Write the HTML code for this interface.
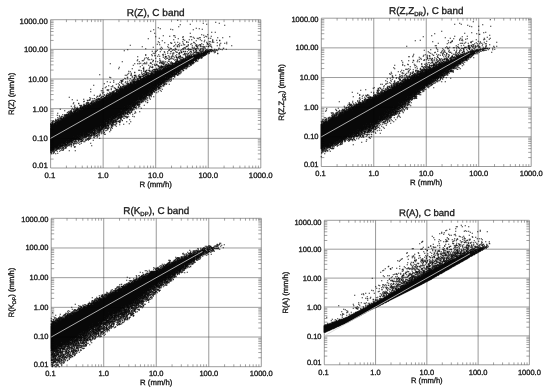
<!DOCTYPE html><html><head><meta charset="utf-8"><title>Rain rate estimators, C band</title><style>html,body{margin:0;padding:0;background:#fff}svg{display:block;filter:blur(.3px)}</style></head><body>
<svg width="550" height="391" viewBox="0 0 550 391" fill="#1c1c1c"><style>text{font-family:"Liberation Sans", Arial, Helvetica, sans-serif;text-rendering:geometricPrecision;stroke:#1c1c1c;stroke-width:.34px}</style>
<rect width="550" height="391" fill="#fff"/>
<path d="M50.60 19.70H260.80M50.60 168.00H260.80M50.60 49.36H260.80M50.60 79.02H260.80M50.60 108.68H260.80M50.60 138.34H260.80" fill="none" stroke="#4c4c4c" stroke-width=".55"/><path d="M50.60 19.70V168.00M260.80 19.70V168.00M103.15 19.70V168.00M155.70 19.70V168.00M208.25 19.70V168.00" fill="none" stroke="#555" stroke-width=".6"/><path d="M66.42 168.00v-2.40M66.42 19.70v2.40M75.67 168.00v-2.40M75.67 19.70v2.40M82.24 168.00v-2.40M82.24 19.70v2.40M87.33 168.00v-2.40M87.33 19.70v2.40M91.49 168.00v-2.40M91.49 19.70v2.40M95.01 168.00v-2.40M95.01 19.70v2.40M98.06 168.00v-2.40M98.06 19.70v2.40M100.75 168.00v-2.40M100.75 19.70v2.40M118.97 168.00v-2.40M118.97 19.70v2.40M128.22 168.00v-2.40M128.22 19.70v2.40M134.79 168.00v-2.40M134.79 19.70v2.40M139.88 168.00v-2.40M139.88 19.70v2.40M144.04 168.00v-2.40M144.04 19.70v2.40M147.56 168.00v-2.40M147.56 19.70v2.40M150.61 168.00v-2.40M150.61 19.70v2.40M153.30 168.00v-2.40M153.30 19.70v2.40M171.52 168.00v-2.40M171.52 19.70v2.40M180.77 168.00v-2.40M180.77 19.70v2.40M187.34 168.00v-2.40M187.34 19.70v2.40M192.43 168.00v-2.40M192.43 19.70v2.40M196.59 168.00v-2.40M196.59 19.70v2.40M200.11 168.00v-2.40M200.11 19.70v2.40M203.16 168.00v-2.40M203.16 19.70v2.40M205.85 168.00v-2.40M205.85 19.70v2.40M224.07 168.00v-2.40M224.07 19.70v2.40M233.32 168.00v-2.40M233.32 19.70v2.40M239.89 168.00v-2.40M239.89 19.70v2.40M244.98 168.00v-2.40M244.98 19.70v2.40M249.14 168.00v-2.40M249.14 19.70v2.40M252.66 168.00v-2.40M252.66 19.70v2.40M255.71 168.00v-2.40M255.71 19.70v2.40M258.40 168.00v-2.40M258.40 19.70v2.40M50.60 159.07h3.00M260.80 159.07h-3.00M50.60 153.85h3.00M260.80 153.85h-3.00M50.60 150.14h3.00M260.80 150.14h-3.00M50.60 147.27h3.00M260.80 147.27h-3.00M50.60 144.92h3.00M260.80 144.92h-3.00M50.60 142.93h3.00M260.80 142.93h-3.00M50.60 141.21h3.00M260.80 141.21h-3.00M50.60 139.70h3.00M260.80 139.70h-3.00M50.60 129.41h3.00M260.80 129.41h-3.00M50.60 124.19h3.00M260.80 124.19h-3.00M50.60 120.48h3.00M260.80 120.48h-3.00M50.60 117.61h3.00M260.80 117.61h-3.00M50.60 115.26h3.00M260.80 115.26h-3.00M50.60 113.27h3.00M260.80 113.27h-3.00M50.60 111.55h3.00M260.80 111.55h-3.00M50.60 110.04h3.00M260.80 110.04h-3.00M50.60 99.75h3.00M260.80 99.75h-3.00M50.60 94.53h3.00M260.80 94.53h-3.00M50.60 90.82h3.00M260.80 90.82h-3.00M50.60 87.95h3.00M260.80 87.95h-3.00M50.60 85.60h3.00M260.80 85.60h-3.00M50.60 83.61h3.00M260.80 83.61h-3.00M50.60 81.89h3.00M260.80 81.89h-3.00M50.60 80.38h3.00M260.80 80.38h-3.00M50.60 70.09h3.00M260.80 70.09h-3.00M50.60 64.87h3.00M260.80 64.87h-3.00M50.60 61.16h3.00M260.80 61.16h-3.00M50.60 58.29h3.00M260.80 58.29h-3.00M50.60 55.94h3.00M260.80 55.94h-3.00M50.60 53.95h3.00M260.80 53.95h-3.00M50.60 52.23h3.00M260.80 52.23h-3.00M50.60 50.72h3.00M260.80 50.72h-3.00M50.60 40.43h3.00M260.80 40.43h-3.00M50.60 35.21h3.00M260.80 35.21h-3.00M50.60 31.50h3.00M260.80 31.50h-3.00M50.60 28.63h3.00M260.80 28.63h-3.00M50.60 26.28h3.00M260.80 26.28h-3.00M50.60 24.29h3.00M260.80 24.29h-3.00M50.60 22.57h3.00M260.80 22.57h-3.00M50.60 21.06h3.00M260.80 21.06h-3.00" fill="none" stroke="#555" stroke-width=".55"/>
<path d="M177.25 20.25h1M215.25 22.25h1M202.75 23.25h1M218.75 23.25h1M189.75 24.25h1M206.25 24.25h1M179.75 24.75h1M224.25 25.25h1M178.25 26.75h1M157.75 27.75h1M195.75 28.25h1M159.75 28.75h1M198.75 28.75h1M170.25 29.25h1M201.75 29.25h1M153.25 29.75h1M172.25 29.75h1M192.75 29.75h1M150.25 31.25h1M211.25 32.25h1M214.75 32.25h1M154.25 33.25h1M189.75 33.25h1M201.25 34.75h1M207.25 34.75h1M203.25 35.25h1M162.75 35.75h1M173.25 35.75h1M174.25 35.75h1M169.25 36.25h1M205.25 36.25h1M210.75 36.25h1M155.25 36.75h1M182.75 36.75h1M189.75 36.75h1M190.75 36.75h1M206.25 36.75h1M229.25 36.75h1M174.75 37.25h1M182.25 37.25h1M192.75 37.25h1M203.75 37.25h1M198.75 37.75h1M199.75 37.75h1M217.25 37.75h1M222.25 37.75h1M158.75 38.25h1M193.75 38.25h1M196.75 38.25h1M208.25 38.25h1M210.25 38.25h1M147.75 38.75h1M177.75 38.75h1M197.75 38.75h1M182.75 39.25h1M173.25 39.75h1M182.75 39.75h1M188.75 39.75h1M191.25 39.75h1M199.75 39.75h1M212.25 39.75h1M184.25 40.25h1M204.25 40.25h1M216.25 40.25h1M219.25 40.25h1M161.75 40.75h1M195.75 40.75h1M201.25 40.75h1M212.25 40.75h1M219.25 40.75h1M212.25 41.25h1M157.75 41.75h1M182.25 41.75h1M186.25 41.75h1M203.75 41.75h1M208.75 41.75h1M209.75 41.75h1M174.25 42.25h1M177.25 42.25h1M186.25 42.25h1M187.75 42.25h1M193.25 42.25h1M206.25 42.25h1M211.75 42.25h1M213.25 42.25h1M226.25 42.25h1M158.75 42.75h1M164.25 42.75h1M170.25 42.75h1M193.75 42.75h1M216.75 42.75h1M170.75 43.25h1.5M179.25 43.25h1M182.75 43.25h1M206.75 43.25h1M220.25 43.25h1M224.25 43.25h1M191.25 43.75h1M194.75 43.75h1M201.25 43.75h1M207.25 43.75h1M209.25 43.75h1M226.25 43.75h1M156.75 44.25h1M175.25 44.25h1M190.25 44.25h1M206.75 44.25h1M219.25 44.25h1M159.25 44.75h1M167.75 44.75h1M177.75 44.75h1.5M183.25 44.75h1M184.25 44.75h1M187.75 44.75h1M196.25 44.75h1M198.75 44.75h1M199.75 44.75h1.5M202.75 44.75h1M208.25 44.75h1M210.25 44.75h1M129.75 45.25h1M179.25 45.25h1M181.25 45.25h1M187.75 45.25h1M195.25 45.25h1M196.25 45.25h1M199.75 45.25h1M174.25 45.75h1M176.75 45.75h1M191.75 45.75h1M197.75 45.75h1M209.25 45.75h1M216.75 45.75h1M219.25 45.75h1M231.25 45.75h1M173.25 46.25h1M186.25 46.25h1M187.25 46.25h1M195.75 46.25h1.5M199.75 46.25h2M205.75 46.25h1M207.75 46.25h1M210.25 46.25h1.5M141.75 46.75h1M167.25 46.75h1M176.75 46.75h1.5M178.75 46.75h1M185.75 46.75h1M196.75 46.75h1M202.25 46.75h1M203.25 46.75h1M204.25 46.75h1M207.75 46.75h1.5M152.75 47.25h1M160.75 47.25h1M191.75 47.25h1M193.75 47.25h1M197.25 47.25h1M202.75 47.25h1M211.25 47.25h1M168.25 47.75h1M183.75 47.75h1M184.75 47.75h1M204.25 47.75h1M161.75 48.25h1M170.25 48.25h1M174.75 48.25h1M183.25 48.25h1M187.75 48.25h1M191.75 48.25h1M193.25 48.25h1M195.75 48.25h1M196.75 48.25h1M199.75 48.25h1M201.25 48.25h1M204.75 48.25h1M218.25 48.25h1.5M222.75 48.25h1.5M145.25 48.75h1M159.75 48.75h1M170.75 48.75h1M182.25 48.75h1M184.75 48.75h1M193.75 48.75h1M195.25 48.75h1M197.75 48.75h1M202.25 48.75h1M203.25 48.75h1M169.25 49.25h1M174.75 49.25h1M175.75 49.25h1M182.75 49.25h1M186.75 49.25h1M188.25 49.25h1M189.25 49.25h1M190.25 49.25h1M195.25 49.25h1M200.25 49.25h1M206.75 49.25h1M211.25 49.25h1M214.25 49.25h1M220.25 49.25h1M225.75 49.25h1M127.25 49.75h1M160.75 49.75h1M172.75 49.75h1M181.25 49.75h1M189.75 49.75h1M191.25 49.75h1M195.25 49.75h1M199.75 49.75h1M202.75 49.75h1M205.75 49.75h1M208.75 49.75h1M209.75 49.75h2M216.25 49.75h1M218.25 49.75h1M221.75 49.75h1M156.75 50.25h1M168.25 50.25h1.5M172.25 50.25h1M174.25 50.25h1M177.75 50.25h1M188.25 50.25h1M192.75 50.25h1.5M195.75 50.25h1M198.75 50.25h1M201.75 50.25h1M202.75 50.25h1M205.25 50.25h1.5M207.75 50.25h1M209.75 50.25h1M212.25 50.25h1M213.75 50.25h1M214.75 50.25h1M216.25 50.25h1M123.75 50.75h1M179.75 50.75h1M196.25 50.75h1M199.25 50.75h1M200.25 50.75h1M204.75 50.75h1.5M206.75 50.75h2M209.25 50.75h1.5M210.75 50.75h1M211.75 50.75h2M216.75 50.75h1M151.75 51.25h1M154.75 51.25h1M155.75 51.25h1M170.75 51.25h1M175.25 51.25h1M180.75 51.25h1M182.75 51.25h1M184.75 51.25h1M190.25 51.25h1M193.25 51.25h1M195.25 51.25h1M201.25 51.25h1M203.25 51.25h1M204.75 51.25h1M205.75 51.25h1M206.75 51.25h1.5M208.25 51.25h2M210.25 51.25h1M211.25 51.25h1M213.25 51.25h1M214.25 51.25h1.5M159.75 51.75h1M163.75 51.75h1M167.25 51.75h1M170.25 51.75h1M183.25 51.75h1M184.75 51.75h1M186.75 51.75h1M190.25 51.75h1.5M195.75 51.75h1M199.75 51.75h1.5M201.75 51.75h1.5M204.25 51.75h2M206.25 51.75h1.5M207.75 51.75h2M211.25 51.75h1M164.25 52.25h1M175.75 52.25h1M176.75 52.25h1M180.75 52.25h1.5M189.25 52.25h1M194.25 52.25h1M196.75 52.25h1M197.75 52.25h1M198.75 52.25h1M201.25 52.25h1M202.75 52.25h1M203.75 52.25h5M209.25 52.25h1M214.75 52.25h1M154.75 52.75h1M173.25 52.75h1M178.75 52.75h1.5M181.25 52.75h1M191.25 52.75h1M193.25 52.75h1M194.25 52.75h1M195.25 52.75h2.5M198.25 52.75h1M200.25 52.75h1.5M202.75 52.75h2M204.75 52.75h1.5M206.75 52.75h1.5M213.75 52.75h1M152.75 53.25h1M167.25 53.25h1M171.75 53.25h1M179.25 53.25h1M184.25 53.25h1M187.75 53.25h1M196.75 53.25h1M198.25 53.25h1M199.75 53.25h1M200.75 53.25h5M205.75 53.25h1.5M208.75 53.25h1M217.25 53.25h1M154.25 53.75h1M169.75 53.75h1M173.25 53.75h1M178.25 53.75h1M184.25 53.75h1.5M186.25 53.75h1M188.25 53.75h1M190.25 53.75h1M192.75 53.75h1M196.25 53.75h1M197.75 53.75h2.5M200.75 53.75h5M205.75 53.75h1.5M208.25 53.75h1M217.25 53.75h1M162.75 54.25h1M164.75 54.25h1M178.75 54.25h1M183.75 54.25h1M186.75 54.25h1M192.25 54.25h1.5M194.75 54.25h1M196.75 54.25h1M197.75 54.25h2.5M200.25 54.25h2M202.75 54.25h2.5M205.25 54.25h1M206.25 54.25h1M145.25 54.75h1M151.25 54.75h1M158.25 54.75h1M162.25 54.75h1M172.25 54.75h1M176.25 54.75h1M182.75 54.75h1M184.75 54.75h1M189.75 54.75h1M191.25 54.75h1M194.25 54.75h1M195.75 54.75h4.5M200.25 54.75h1M201.25 54.75h3.5M205.25 54.75h1M145.25 55.25h1M184.75 55.25h1M186.75 55.25h1M187.75 55.25h1M188.75 55.25h1M190.75 55.25h1M193.25 55.25h2.5M195.75 55.25h5M200.75 55.25h5M151.75 55.75h1M154.25 55.75h1.5M162.75 55.75h1M167.75 55.75h1M171.75 55.75h1M175.25 55.75h1M179.75 55.75h1M189.25 55.75h1M190.75 55.75h1M192.75 55.75h1M193.75 55.75h3M196.75 55.75h4.5M201.25 55.75h1.5M202.75 55.75h1M203.75 55.75h1M157.25 56.25h1M159.25 56.25h1M165.25 56.25h1M168.75 56.25h1M173.25 56.25h1M178.25 56.25h1.5M179.75 56.25h1M185.25 56.25h1M186.75 56.25h1M188.25 56.25h3M191.25 56.25h2M193.25 56.25h2M195.25 56.25h6M201.25 56.25h1M202.75 56.25h1M137.25 56.75h1M164.75 56.75h2M170.75 56.75h1M171.75 56.75h1M175.75 56.75h1M179.25 56.75h1M180.25 56.75h1M185.75 56.75h1M187.25 56.75h1.5M188.75 56.75h1M190.25 56.75h9.5M199.75 56.75h1M201.25 56.75h1.5M162.75 57.25h1M165.25 57.25h1M175.75 57.25h1.5M177.75 57.25h1M180.25 57.25h1M182.25 57.25h1M185.25 57.25h1M186.25 57.25h1M187.25 57.25h1.5M188.75 57.25h3.5M192.25 57.25h8M200.75 57.25h1M145.75 57.75h1M147.75 57.75h1M168.75 57.75h1M170.75 57.75h1M173.75 57.75h1M176.25 57.75h1M177.75 57.75h1M178.75 57.75h1M181.25 57.75h1.5M185.75 57.75h1M186.75 57.75h1M187.75 57.75h1M188.75 57.75h4.5M193.25 57.75h1M194.25 57.75h4M198.25 57.75h1.5M200.25 57.75h1.5M201.75 57.75h1M144.25 58.25h1M155.25 58.25h1M164.25 58.25h1M166.25 58.25h1M167.25 58.25h1M176.75 58.25h1M183.25 58.25h1M184.75 58.25h1.5M187.25 58.25h1M188.25 58.25h2.5M190.75 58.25h7M197.75 58.25h1.5M199.25 58.25h1M200.75 58.25h1M147.25 58.75h1M159.25 58.75h1M170.25 58.75h1.5M172.25 58.75h1M178.75 58.75h1M179.75 58.75h1M182.75 58.75h1M184.25 58.75h1M185.25 58.75h1M186.25 58.75h1M187.25 58.75h2M189.25 58.75h5.5M194.75 58.75h2.5M197.25 58.75h2M151.25 59.25h1M165.25 59.25h1M168.75 59.25h1.5M173.25 59.25h1M176.75 59.25h1M180.75 59.25h1.5M182.25 59.25h1M183.25 59.25h1M184.75 59.25h10M194.75 59.25h2.5M137.25 59.75h1M143.75 59.75h1M147.75 59.75h1M149.25 59.75h1M168.25 59.75h1M175.25 59.75h1M176.75 59.75h1M180.25 59.75h1M182.25 59.75h10.5M192.75 59.75h3.5M197.75 59.75h1M152.75 60.25h1M159.25 60.25h1.5M174.25 60.25h1M176.25 60.25h1.5M180.25 60.25h3M183.25 60.25h1M184.25 60.25h2.5M186.75 60.25h10.5M136.75 60.75h1M141.75 60.75h1M142.75 60.75h1M152.75 60.75h1M177.25 60.75h1M179.25 60.75h1.5M181.25 60.75h2.5M183.75 60.75h11M195.75 60.75h1.5M155.25 61.25h1M160.25 61.25h1M161.75 61.25h1M163.25 61.25h1M167.75 61.25h1M168.75 61.25h1M175.75 61.25h1M176.75 61.25h1M177.75 61.25h2M180.75 61.25h1M181.75 61.25h2M183.75 61.25h9M192.75 61.25h1M195.25 61.25h1M197.25 61.25h1M121.75 61.75h1M138.75 61.75h1M152.25 61.75h1M157.25 61.75h1M165.25 61.75h1M170.75 61.75h1M175.25 61.75h1M176.25 61.75h1.5M177.75 61.75h2M179.75 61.75h2.5M182.25 61.75h8.5M190.75 61.75h1.5M192.25 61.75h1.5M195.25 61.75h1M146.25 62.25h1M159.25 62.25h1.5M160.75 62.25h1M162.25 62.25h1M164.25 62.25h1M175.25 62.25h1M176.25 62.25h1M177.25 62.25h1.5M178.75 62.25h10M188.75 62.25h4M192.75 62.25h1.5M144.25 62.75h1M150.25 62.75h1M160.75 62.75h1M162.75 62.75h1M166.75 62.75h1M169.75 62.75h1M171.25 62.75h1.5M174.75 62.75h1M175.75 62.75h1M177.75 62.75h12.5M190.25 62.75h2M192.25 62.75h1.5M193.75 62.75h1M140.25 63.25h1M149.75 63.25h1M150.75 63.25h1M159.25 63.25h1M161.75 63.25h1M170.25 63.25h1.5M171.75 63.25h2M173.75 63.25h1.5M175.25 63.25h1.5M176.75 63.25h1.5M178.25 63.25h7.5M185.75 63.25h1M186.75 63.25h2M188.75 63.25h2.5M191.25 63.25h1M192.25 63.25h1M109.75 63.75h1M134.25 63.75h1M137.25 63.75h1M138.75 63.75h1M142.75 63.75h1M144.25 63.75h1.5M146.25 63.75h1M160.75 63.75h1M162.25 63.75h1M163.25 63.75h1M164.25 63.75h1M167.75 63.75h1.5M172.25 63.75h7M179.25 63.75h9.5M189.25 63.75h1M190.25 63.75h1M191.75 63.75h2M153.75 64.25h1M156.25 64.25h1M162.75 64.25h1M166.25 64.25h1M171.25 64.25h2M174.25 64.25h15.5M189.75 64.25h1.5M191.25 64.25h1M151.75 64.75h1M156.25 64.75h1M163.25 64.75h1M165.25 64.75h1M166.25 64.75h1M167.75 64.75h1M168.75 64.75h1M169.75 64.75h1M171.75 64.75h1.5M173.25 64.75h1.5M174.75 64.75h1M175.75 64.75h1.5M177.25 64.75h8.5M185.75 64.75h2.5M190.25 64.75h1M132.75 65.25h1M141.75 65.25h1M148.25 65.25h1M154.25 65.25h1M155.25 65.25h1M156.75 65.25h1M164.75 65.25h1M166.75 65.25h1M168.25 65.25h2.5M170.75 65.25h2M172.75 65.25h1.5M174.25 65.25h12M186.25 65.25h2M189.75 65.25h1M190.75 65.25h1M158.25 65.75h1M160.75 65.75h1M164.75 65.75h1M166.25 65.75h5.5M171.75 65.75h11.5M183.25 65.75h1.5M184.75 65.75h4M149.75 66.25h1M157.75 66.25h1.5M160.25 66.25h1M161.25 66.25h1M162.25 66.25h3M166.25 66.25h1M167.25 66.25h1.5M169.75 66.25h14M183.75 66.25h2M185.75 66.25h1M186.75 66.25h1M189.25 66.25h1M139.75 66.75h1M152.25 66.75h1M158.75 66.75h1M160.75 66.75h2.5M164.75 66.75h3.5M168.25 66.75h13.5M181.75 66.75h2.5M184.25 66.75h3.5M188.25 66.75h1M118.75 67.25h1M143.25 67.25h1M149.25 67.25h1M150.75 67.25h1M151.75 67.25h1M159.75 67.25h1.5M161.25 67.25h1M162.25 67.25h1M164.75 67.25h1M167.25 67.25h2.5M169.75 67.25h14M183.75 67.25h1.5M185.25 67.25h1.5M186.75 67.25h1M152.25 67.75h1M158.75 67.75h1.5M160.75 67.75h1M162.25 67.75h1.5M163.75 67.75h4.5M168.25 67.75h15.5M183.75 67.75h1M142.75 68.25h1M156.25 68.25h1M157.75 68.25h1M159.75 68.25h1M160.75 68.25h1.5M162.75 68.25h2.5M165.25 68.25h14.5M179.75 68.25h1M180.75 68.25h2.5M183.25 68.25h1M184.25 68.25h1M118.25 68.75h1M131.75 68.75h1M142.75 68.75h1.5M148.75 68.75h1M158.75 68.75h1M162.75 68.75h1M164.25 68.75h16.5M180.75 68.75h2M183.25 68.75h1M184.75 68.75h1M185.75 68.75h1.5M143.25 69.25h1M154.25 69.25h1M155.75 69.25h2M158.75 69.25h1M159.75 69.25h1M162.25 69.25h3M165.25 69.25h14.5M179.75 69.25h2M181.75 69.25h1.5M152.75 69.75h3.5M156.75 69.75h1M157.75 69.75h1M159.75 69.75h1M160.75 69.75h1M161.75 69.75h15.5M177.25 69.75h3M180.25 69.75h1M181.25 69.75h1M182.25 69.75h1M138.25 70.25h1M139.25 70.25h1M146.25 70.25h1M147.75 70.25h1M149.25 70.25h1M151.75 70.25h1M153.75 70.25h1M155.25 70.25h1M156.75 70.25h1M158.75 70.25h1M159.75 70.25h1M161.25 70.25h19.5M182.75 70.25h1.5M140.75 70.75h1M143.25 70.75h1M145.75 70.75h1M148.75 70.75h1M152.25 70.75h1M156.75 70.75h2.5M159.25 70.75h3M162.25 70.75h13.5M175.75 70.75h2M177.75 70.75h1.5M179.25 70.75h1.5M182.75 70.75h1M128.25 71.25h1M143.25 71.25h1M144.75 71.25h1.5M149.25 71.25h1M150.25 71.25h1M151.25 71.25h1M153.75 71.25h2.5M156.25 71.25h2M158.25 71.25h17.5M175.75 71.25h2.5M178.25 71.25h1.5M181.25 71.25h1M129.75 71.75h1M144.75 71.75h1M152.25 71.75h2M154.75 71.75h2.5M157.25 71.75h20M177.75 71.75h3M134.25 72.25h1M141.25 72.25h1M144.75 72.25h1M145.75 72.25h1.5M150.75 72.25h1M153.75 72.25h1.5M155.25 72.25h1M156.25 72.25h19M175.75 72.25h2M177.75 72.25h1M179.75 72.25h1M134.25 72.75h1M147.25 72.75h1M148.25 72.75h1M150.75 72.75h1M151.75 72.75h1M152.75 72.75h1M154.75 72.75h19.5M174.25 72.75h1.5M176.25 72.75h2M178.25 72.75h1M180.75 72.75h1M128.25 73.25h1M130.75 73.25h1M143.75 73.25h1M145.75 73.25h2M149.25 73.25h1M151.25 73.25h1M152.25 73.25h1M154.25 73.25h21.5M175.75 73.25h1.5M177.75 73.25h1M178.75 73.25h1M141.25 73.75h1M143.25 73.75h1M145.75 73.75h1M148.25 73.75h1M149.75 73.75h4M153.75 73.75h1M154.75 73.75h18.5M173.75 73.75h1.5M175.25 73.75h2M178.25 73.75h1M179.25 73.75h1.5M127.25 74.25h1M130.75 74.25h1M142.25 74.25h1M144.75 74.25h1M145.75 74.25h1.5M148.25 74.25h1M150.75 74.25h1.5M152.25 74.25h18.5M170.75 74.25h4M174.75 74.25h1M175.75 74.25h1.5M99.25 74.75h1M139.25 74.75h1M141.75 74.75h1M144.25 74.75h3M147.25 74.75h1M149.75 74.75h21M170.75 74.75h5.5M177.25 74.75h1M178.25 74.75h1M124.75 75.25h1M126.25 75.25h1M130.25 75.25h1.5M134.25 75.25h1M135.25 75.25h1M138.25 75.25h1M142.75 75.25h1.5M147.25 75.25h5M152.25 75.25h21M173.75 75.25h1M176.75 75.25h1.5M133.75 75.75h2M143.25 75.75h2.5M146.25 75.75h3.5M149.75 75.75h21.5M171.75 75.75h1M172.75 75.75h1M174.25 75.75h1M131.75 76.25h1M136.25 76.25h1M138.25 76.25h1.5M140.25 76.25h1M141.25 76.25h1M142.25 76.25h1M145.25 76.25h1M146.25 76.25h1.5M147.75 76.25h27.5M134.75 76.75h1M138.75 76.75h1.5M140.25 76.75h1M142.25 76.75h1M143.25 76.75h1M144.75 76.75h19M163.75 76.75h7M170.75 76.75h1.5M109.25 77.25h1M126.75 77.25h1.5M131.75 77.25h1M139.75 77.25h1.5M143.25 77.25h2M145.25 77.25h25.5M170.75 77.25h1.5M174.25 77.25h1M110.25 77.75h1M133.75 77.75h1.5M136.25 77.75h1M138.75 77.75h2.5M143.25 77.75h2M145.75 77.75h4M149.75 77.75h15.5M165.75 77.75h2M167.75 77.75h2M169.75 77.75h1M124.25 78.25h1M133.75 78.25h1.5M137.75 78.25h1M138.75 78.25h1M139.75 78.25h1M141.75 78.25h3M144.75 78.25h22.5M167.75 78.25h1.5M169.25 78.25h1M170.75 78.25h1M125.25 78.75h1M127.25 78.75h1M129.75 78.75h1M136.75 78.75h1.5M139.75 78.75h1M141.25 78.75h1M142.25 78.75h27M172.75 78.75h1M133.25 79.25h1M140.25 79.25h2M142.25 79.25h26M168.25 79.25h1M170.25 79.25h1M122.75 79.75h1M132.75 79.75h1M134.25 79.75h1M135.25 79.75h1M136.75 79.75h1.5M138.25 79.75h1M139.75 79.75h28.5M169.25 79.75h1M170.75 79.75h1M121.75 80.25h1M131.25 80.25h1.5M132.75 80.25h1M136.25 80.25h1.5M137.75 80.25h3.5M141.25 80.25h23.5M164.75 80.25h1.5M166.25 80.25h1M167.75 80.25h1M168.75 80.25h1M113.25 80.75h1M120.25 80.75h2M129.25 80.75h1M134.25 80.75h1M137.25 80.75h2.5M139.75 80.75h25.5M166.75 80.75h1M170.75 80.75h1M121.25 81.25h1M122.25 81.25h1M127.25 81.25h1M132.25 81.25h1.5M133.75 81.25h1M135.25 81.25h26.5M161.75 81.25h5M169.75 81.25h1M106.75 81.75h1M121.25 81.75h1M125.25 81.75h1M130.75 81.75h1M132.25 81.75h3M135.25 81.75h2.5M137.75 81.75h24M161.75 81.75h1.5M163.25 81.75h1.5M165.75 81.75h1M166.75 81.75h1M168.25 81.75h1M109.75 82.25h1M113.25 82.25h1M119.25 82.25h1M129.75 82.25h1M132.75 82.25h1.5M134.25 82.25h6M140.25 82.25h22.5M162.75 82.25h2M165.25 82.25h1M120.75 82.75h1M124.75 82.75h1M126.75 82.75h1M130.25 82.75h1M131.25 82.75h1.5M132.75 82.75h4M136.75 82.75h16.5M153.25 82.75h10M163.25 82.75h1.5M121.25 83.25h1M128.25 83.25h1M129.75 83.25h1M130.75 83.25h1.5M132.75 83.25h1M133.75 83.25h1.5M135.75 83.25h23.5M159.25 83.25h2.5M161.75 83.25h1M162.75 83.25h1.5M164.75 83.25h1M103.75 83.75h1M117.75 83.75h1M126.25 83.75h1M127.25 83.75h1.5M129.75 83.75h1.5M131.75 83.75h1M132.75 83.75h27M159.75 83.75h2.5M164.25 83.75h1M166.25 83.75h1M115.75 84.25h1M122.25 84.25h1.5M126.75 84.25h1.5M128.25 84.25h29M157.25 84.25h3.5M160.75 84.25h1M162.75 84.25h1M164.25 84.25h1M165.75 84.25h1M168.75 84.25h1M118.75 84.75h1M128.25 84.75h1.5M129.75 84.75h4M133.75 84.75h27M160.75 84.75h1.5M163.75 84.75h1.5M93.25 85.25h1M118.75 85.25h1M124.25 85.25h1M125.25 85.25h1M126.25 85.25h1M127.25 85.25h1.5M128.75 85.25h1M129.75 85.25h27.5M157.75 85.25h2.5M162.75 85.25h1.5M108.25 85.75h1M112.25 85.75h1M123.25 85.75h1M126.25 85.75h1M127.25 85.75h3.5M130.75 85.75h19.5M150.25 85.75h7M157.25 85.75h2M159.75 85.75h1M161.75 85.75h1M120.25 86.25h1M122.25 86.25h1M123.25 86.25h1M124.75 86.25h1M126.25 86.25h1M127.25 86.25h26.5M153.75 86.25h2M156.25 86.25h2.5M159.75 86.25h1M163.25 86.25h1M105.75 86.75h1M110.75 86.75h1M112.25 86.75h1M117.75 86.75h1M120.25 86.75h1M121.75 86.75h1M123.25 86.75h1M124.25 86.75h5M129.25 86.75h29.5M159.25 86.75h2M161.25 86.75h1M118.25 87.25h1M119.75 87.25h1M121.75 87.25h1M123.75 87.25h3.5M127.25 87.25h28.5M156.25 87.25h1M157.75 87.25h2.5M104.75 87.75h1M113.75 87.75h1M117.75 87.75h1M120.25 87.75h1M121.25 87.75h1M122.75 87.75h4.5M127.25 87.75h27.5M154.75 87.75h1.5M156.25 87.75h1M157.25 87.75h1M158.25 87.75h1.5M114.75 88.25h1M118.75 88.25h1M120.25 88.25h1M121.25 88.25h1.5M123.75 88.25h31.5M155.25 88.25h2M158.25 88.25h1.5M160.25 88.25h1M102.25 88.75h1M110.75 88.75h1M114.75 88.75h1M119.25 88.75h1M120.25 88.75h1.5M121.75 88.75h29.5M151.25 88.75h4M155.25 88.75h1.5M157.75 88.75h1M158.75 88.75h1M90.25 89.25h1M115.75 89.25h1M116.75 89.25h1.5M119.25 89.25h33.5M152.75 89.25h1M153.75 89.25h1.5M161.75 89.25h1M106.75 89.75h1M108.25 89.75h1M110.75 89.75h1M115.75 89.75h1.5M118.25 89.75h1M119.25 89.75h2M121.25 89.75h2M123.25 89.75h25.5M148.75 89.75h2M150.75 89.75h3M153.75 89.75h1.5M155.25 89.75h2.5M158.25 89.75h1M106.75 90.25h1M115.25 90.25h1M117.25 90.25h2M119.75 90.25h34.5M154.75 90.25h1.5M159.75 90.25h1M100.75 90.75h1M102.25 90.75h1M107.75 90.75h1M113.75 90.75h1M115.75 90.75h2M118.25 90.75h31M149.25 90.75h5M155.75 90.75h1M113.25 91.25h1M115.75 91.25h3M118.75 91.25h33.5M152.75 91.25h1M153.75 91.25h1M160.75 91.25h1M90.25 91.75h1M111.75 91.75h1.5M113.25 91.75h1.5M116.25 91.75h1M117.25 91.75h2M119.25 91.75h30M149.25 91.75h3.5M152.75 91.75h2M157.75 91.75h1M101.75 92.25h1M103.25 92.25h1M109.25 92.25h1M112.75 92.25h1M115.75 92.25h1M117.75 92.25h31.5M149.25 92.25h1.5M150.75 92.25h2M154.25 92.25h1M109.75 92.75h1M111.25 92.75h3.5M114.75 92.75h33.5M148.25 92.75h1M149.25 92.75h4M156.25 92.75h1M106.75 93.25h1M110.25 93.25h1.5M111.75 93.25h2M113.75 93.25h4.5M118.25 93.25h29.5M147.75 93.25h2.5M150.75 93.25h2M102.25 93.75h1M107.75 93.75h1M109.25 93.75h1.5M110.75 93.75h1M112.25 93.75h1M113.25 93.75h1.5M114.75 93.75h33.5M148.25 93.75h1M149.75 93.75h1M150.75 93.75h1M99.75 94.25h1M108.75 94.25h1M109.75 94.25h1M111.75 94.25h36M148.25 94.25h2M150.25 94.25h1M151.75 94.25h1M103.75 94.75h1M106.25 94.75h1M107.75 94.75h1M108.75 94.75h1M109.75 94.75h33M142.75 94.75h2.5M145.25 94.75h3.5M148.75 94.75h1.5M150.75 94.75h1M93.75 95.25h1M100.25 95.25h1M104.25 95.25h1M105.75 95.25h2.5M108.25 95.25h1.5M109.75 95.25h1.5M111.25 95.25h34.5M145.75 95.25h1M146.75 95.25h2M148.75 95.25h1M149.75 95.25h1M99.25 95.75h1M106.25 95.75h1M107.25 95.75h1.5M109.25 95.75h1M110.75 95.75h32.5M143.25 95.75h1M144.25 95.75h1.5M145.75 95.75h2M147.75 95.75h1M149.25 95.75h1.5M150.75 95.75h1M96.75 96.25h1.5M98.75 96.25h1M102.25 96.25h1.5M105.25 96.25h1M106.25 96.25h1M108.25 96.25h2M110.25 96.25h33M143.25 96.25h1M144.25 96.25h2.5M148.75 96.25h1M101.25 96.75h1M102.75 96.75h1M105.75 96.75h1.5M107.25 96.75h2.5M109.75 96.75h34M143.75 96.75h3M150.75 96.75h1M153.25 96.75h1M68.75 97.25h1M96.25 97.25h1M100.25 97.25h1.5M103.75 97.25h2.5M106.25 97.25h1M107.25 97.25h35.5M142.75 97.25h4M148.75 97.25h1M89.25 97.75h1M101.25 97.75h1M103.75 97.75h2M105.75 97.75h2.5M108.25 97.75h30.5M138.75 97.75h5.5M144.25 97.75h1M146.75 97.75h1M90.25 98.25h1M98.25 98.25h1M100.75 98.25h1M102.25 98.25h2M104.25 98.25h2.5M106.75 98.25h32M138.75 98.25h3M141.75 98.25h2M143.75 98.25h3M147.25 98.25h1M149.25 98.25h1M92.25 98.75h1M93.75 98.75h1.5M96.75 98.75h1M98.25 98.75h2.5M102.25 98.75h1M103.25 98.75h39M142.25 98.75h2M144.75 98.75h1M83.25 99.25h1M95.75 99.25h1M97.75 99.25h1M98.75 99.25h2.5M101.25 99.25h3.5M105.25 99.25h33M138.25 99.25h3M141.25 99.25h1M142.75 99.25h1M143.75 99.25h1.5M149.75 99.25h1M71.75 99.75h1M89.25 99.75h1.5M95.75 99.75h1M96.75 99.75h1M97.75 99.75h1M98.75 99.75h1M100.75 99.75h42M142.75 99.75h1M144.75 99.75h1M146.25 99.75h1M76.75 100.25h1M86.75 100.25h1M88.25 100.25h1M89.25 100.25h1M95.25 100.25h1M96.75 100.25h1.5M99.25 100.25h1.5M100.75 100.25h38M140.25 100.25h2M142.25 100.25h1M147.25 100.25h1M87.25 100.75h1M91.75 100.75h1M93.25 100.75h1.5M96.25 100.75h1M98.25 100.75h1M99.25 100.75h38M138.25 100.75h1.5M139.75 100.75h1M142.75 100.75h1M144.25 100.75h1M83.75 101.25h1M92.75 101.25h1.5M94.75 101.25h3M97.75 101.25h36M133.75 101.25h1.5M135.25 101.25h3.5M138.75 101.25h1.5M140.75 101.25h1M141.75 101.25h1.5M83.25 101.75h1M91.25 101.75h1.5M96.25 101.75h40M136.75 101.75h2.5M139.25 101.75h1.5M141.25 101.75h1M142.75 101.75h1M145.25 101.75h1M87.25 102.25h1M90.75 102.25h2M94.25 102.25h1.5M95.75 102.25h1.5M97.25 102.25h41M138.25 102.25h2M141.25 102.25h1M147.25 102.25h1M73.25 102.75h1M86.25 102.75h1M87.75 102.75h1.5M90.75 102.75h1M92.75 102.75h2.5M95.25 102.75h40M135.25 102.75h1.5M136.75 102.75h2M139.75 102.75h1M141.25 102.75h1M146.75 102.75h1M78.25 103.25h1M85.75 103.25h1M86.75 103.25h1.5M89.75 103.25h1.5M91.25 103.25h1M92.25 103.25h1M93.25 103.25h1.5M94.75 103.25h40M134.75 103.25h3M138.25 103.25h1M139.25 103.25h1M72.75 103.75h1M78.25 103.75h1M88.25 103.75h1M89.75 103.75h1M90.75 103.75h2M92.75 103.75h4M96.75 103.75h36M132.75 103.75h3.5M136.25 103.75h2M83.25 104.25h1.5M85.75 104.25h1.5M87.75 104.25h2.5M91.25 104.25h1M92.25 104.25h42M134.25 104.25h1M135.25 104.25h1M136.25 104.25h1M137.25 104.25h1M138.25 104.25h1M139.25 104.25h1M86.75 104.75h1M88.25 104.75h1.5M90.25 104.75h41M131.25 104.75h5M136.75 104.75h1.5M138.25 104.75h1M139.25 104.75h1M74.25 105.25h1M79.25 105.25h1M80.75 105.25h1M82.75 105.25h1M83.75 105.25h2.5M86.25 105.25h2M88.25 105.25h1M89.25 105.25h40.5M129.75 105.25h1.5M131.25 105.25h5M136.75 105.25h2M138.75 105.25h1M143.75 105.25h1M79.75 105.75h1M80.75 105.75h1M84.25 105.75h1M85.25 105.75h1.5M86.75 105.75h1M87.75 105.75h3.5M91.25 105.75h36.5M127.75 105.75h2M129.75 105.75h1M130.75 105.75h1M131.75 105.75h2M133.75 105.75h1.5M70.75 106.25h1M80.25 106.25h1M82.75 106.25h1M83.75 106.25h1M84.75 106.25h1M85.75 106.25h1M86.75 106.25h3M89.75 106.25h35M124.75 106.25h8.5M133.25 106.25h1.5M135.75 106.25h1M138.25 106.25h1M73.75 106.75h1M80.75 106.75h1M82.25 106.75h1.5M83.75 106.75h1.5M85.25 106.75h1M86.25 106.75h42.5M128.75 106.75h1.5M130.25 106.75h1M131.75 106.75h2M133.75 106.75h1.5M139.25 106.75h1M74.25 107.25h1.5M76.75 107.25h1M79.75 107.25h1.5M81.25 107.25h2M83.25 107.25h1M84.25 107.25h2.5M86.75 107.25h1M87.75 107.25h44.5M132.75 107.25h1M133.75 107.25h3M137.75 107.25h1M79.75 107.75h1.5M81.75 107.75h1.5M83.25 107.75h1.5M84.75 107.75h43M127.75 107.75h2M130.25 107.75h1.5M133.25 107.75h1.5M134.75 107.75h1.5M71.75 108.25h1M75.75 108.25h1M77.25 108.25h1.5M79.25 108.25h1.5M80.75 108.25h1M81.75 108.25h2.5M84.25 108.25h2M86.25 108.25h39.5M125.75 108.25h4M129.75 108.25h1M130.75 108.25h1.5M132.25 108.25h1.5M140.75 108.25h1M74.25 108.75h1M76.25 108.75h1M77.25 108.75h1M79.75 108.75h1.5M81.25 108.75h1.5M82.75 108.75h1.5M84.25 108.75h38M122.25 108.75h6M128.25 108.75h1.5M129.75 108.75h2M135.75 108.75h1M59.75 109.25h1M72.75 109.25h1M74.25 109.25h1M75.25 109.25h1M76.75 109.25h2M78.75 109.25h1M80.25 109.25h2M82.75 109.25h46M129.25 109.25h2M131.75 109.25h2M71.25 109.75h1M72.75 109.75h1M75.75 109.75h2.5M78.25 109.75h1.5M80.25 109.75h1M81.25 109.75h43.5M124.75 109.75h3M127.75 109.75h1M129.25 109.75h1M130.25 109.75h1M131.25 109.75h1M132.25 109.75h1M133.75 109.75h1M74.25 110.25h2M76.25 110.25h1.5M78.25 110.25h42M120.25 110.25h5M125.25 110.25h1M126.25 110.25h1.5M127.75 110.25h3.5M131.25 110.25h1M132.25 110.25h1M64.25 110.75h1M70.25 110.75h1.5M73.25 110.75h1M74.75 110.75h1M75.75 110.75h1.5M77.25 110.75h44M121.75 110.75h5.5M127.75 110.75h1M68.75 111.25h1M70.25 111.25h1.5M73.75 111.25h1M74.75 111.25h2M76.75 111.25h1.5M78.25 111.25h47.5M126.25 111.25h1.5M127.75 111.25h1M129.25 111.25h1M130.75 111.25h1.5M67.75 111.75h1M70.25 111.75h1M71.25 111.75h1M72.75 111.75h3.5M76.75 111.75h1M77.75 111.75h45.5M123.25 111.75h1.5M124.75 111.75h1M127.25 111.75h2M134.75 111.75h1M139.25 111.75h1M68.75 112.25h1M70.25 112.25h1M71.25 112.25h1M73.75 112.25h5M78.75 112.25h44M122.75 112.25h1.5M124.75 112.25h1.5M126.75 112.25h1M127.75 112.25h1M129.25 112.25h1M130.25 112.25h2M66.75 112.75h1.5M68.75 112.75h1M70.25 112.75h1.5M71.75 112.75h1.5M73.25 112.75h2.5M75.75 112.75h47M122.75 112.75h4M126.75 112.75h1M127.75 112.75h1M129.25 112.75h1M135.25 112.75h1M57.25 113.25h1M68.25 113.25h1M69.25 113.25h1.5M70.75 113.25h1M71.75 113.25h47M119.25 113.25h5M124.25 113.25h2M126.75 113.25h1M128.75 113.25h1M134.25 113.25h1M68.25 113.75h1M69.75 113.75h1.5M71.25 113.75h50.5M121.75 113.75h2.5M125.25 113.75h1M126.25 113.75h1.5M129.75 113.75h1M66.25 114.25h1M67.25 114.25h2.5M70.25 114.25h1M71.25 114.25h1M72.25 114.25h45M117.25 114.25h4M121.25 114.25h1M122.25 114.25h1M123.25 114.25h1M124.75 114.25h1M126.75 114.25h1.5M132.25 114.25h1M62.25 114.75h1M64.25 114.75h1.5M65.75 114.75h1.5M67.25 114.75h1.5M68.75 114.75h1M69.75 114.75h49M118.75 114.75h2.5M121.25 114.75h1M122.75 114.75h1M123.75 114.75h1M127.75 114.75h1M56.75 115.25h1M63.75 115.25h1.5M65.25 115.25h1.5M67.25 115.25h1M68.25 115.25h1.5M69.75 115.25h44M113.75 115.25h5M118.75 115.25h1M119.75 115.25h1M120.75 115.25h2M123.25 115.25h1M58.75 115.75h1M65.25 115.75h3M68.25 115.75h2.5M70.75 115.75h45.5M116.25 115.75h5.5M124.25 115.75h1M61.25 116.25h1M64.25 116.25h1M65.25 116.25h1.5M66.75 116.25h1M67.75 116.25h44M111.75 116.25h8M120.75 116.25h1.5M124.25 116.25h1.5M125.75 116.25h1M132.25 116.25h1M59.25 116.75h1M60.75 116.75h1M62.25 116.75h1M63.75 116.75h1M65.25 116.75h1M66.25 116.75h51M118.25 116.75h1.5M119.75 116.75h2M121.75 116.75h1.5M123.25 116.75h1M125.25 116.75h1M126.75 116.75h1M128.25 116.75h1M133.75 116.75h1M62.75 117.25h1.5M65.25 117.25h49M114.25 117.25h4.5M119.25 117.25h1.5M120.75 117.25h2M126.75 117.25h1M57.25 117.75h1M59.75 117.75h1M61.25 117.75h1M63.25 117.75h48M111.25 117.75h3.5M114.75 117.75h1.5M117.75 117.75h1M118.75 117.75h1.5M120.25 117.75h1M125.75 117.75h1M126.75 117.75h1M57.75 118.25h1M59.25 118.25h1M60.25 118.25h1.5M62.75 118.25h53M116.25 118.25h1M117.25 118.25h2M119.75 118.25h1M120.75 118.25h1M123.25 118.25h1.5M59.75 118.75h1M60.75 118.75h3.5M64.25 118.75h45.5M110.25 118.75h2.5M112.75 118.75h2.5M117.25 118.75h1M118.25 118.75h1M119.75 118.75h1M55.25 119.25h1M60.75 119.25h2.5M63.25 119.25h47M110.25 119.25h3M115.25 119.25h1M116.75 119.25h1.5M120.75 119.25h1M56.75 119.75h2.5M59.25 119.75h1.5M60.75 119.75h1M61.75 119.75h45.5M107.25 119.75h6.5M114.25 119.75h1M115.75 119.75h1M116.75 119.75h1M120.25 119.75h1M129.25 119.75h1M55.25 120.25h1.5M58.25 120.25h1M60.25 120.25h1.5M61.75 120.25h43M104.75 120.25h4M108.75 120.25h1.5M110.25 120.25h3M113.25 120.25h1M114.25 120.25h2M121.75 120.25h1M52.75 120.75h1M55.25 120.75h1M56.25 120.75h1M57.25 120.75h49.5M106.75 120.75h2.5M109.75 120.75h1.5M111.25 120.75h1M112.75 120.75h1M113.75 120.75h1M115.25 120.75h1.5M118.75 120.75h1M119.75 120.75h1M121.75 120.75h1M54.25 121.25h1.5M57.25 121.25h1M58.25 121.25h1M59.25 121.25h45M104.25 121.25h7M111.25 121.25h1M112.75 121.25h1.5M114.75 121.25h3M117.75 121.25h1M118.75 121.25h1M51.75 121.75h1.5M53.25 121.75h1M55.75 121.75h3M58.75 121.75h50.5M109.75 121.75h1M110.75 121.75h1M111.75 121.75h2M113.75 121.75h1M115.25 121.75h1M118.25 121.75h1M119.75 121.75h1M126.25 121.75h1M130.25 121.75h1M51.75 122.25h1.5M54.75 122.25h2M56.75 122.25h49.5M106.25 122.25h4.5M111.25 122.25h1.5M112.75 122.25h2.5M115.25 122.25h1M116.25 122.25h1M119.25 122.25h1M51.25 122.75h1M54.75 122.75h51M106.75 122.75h1M107.75 122.75h1.5M109.75 122.75h1M111.25 122.75h2.5M119.25 122.75h1M51.75 123.25h2M53.75 123.25h2.5M56.25 123.25h48M104.25 123.25h2.5M106.75 123.25h2M109.25 123.25h1.5M112.25 123.25h1M50.25 123.75h1M51.75 123.75h1M53.75 123.75h1.5M55.25 123.75h1M56.25 123.75h44.5M100.75 123.75h1.5M102.25 123.75h4M106.25 123.75h3.5M109.75 123.75h1M111.25 123.75h1M112.25 123.75h1M113.25 123.75h1M115.75 123.75h1.5M128.75 123.75h1M50.25 124.25h1.5M51.75 124.25h1.5M53.25 124.25h3M56.25 124.25h50M106.75 124.25h1M109.25 124.25h1M110.25 124.25h1.5M112.25 124.25h1M115.25 124.25h1M123.25 124.25h1M50.25 124.75h1.5M51.75 124.75h1M52.75 124.75h1M53.75 124.75h49.5M103.25 124.75h3M106.25 124.75h1.5M108.25 124.75h1M111.25 124.75h1M112.75 124.75h1M113.75 124.75h1M119.25 124.75h1M50.25 125.25h51M101.25 125.25h5M106.75 125.25h2.5M110.75 125.25h1M112.25 125.25h1M114.75 125.25h1M50.75 125.75h53.5M104.25 125.75h1M105.25 125.75h4M110.75 125.75h1M111.75 125.75h1M50.25 126.25h50.5M100.75 126.25h1.5M102.25 126.25h2.5M104.75 126.25h2.5M107.75 126.25h1M110.75 126.25h1M112.25 126.25h1M115.75 126.25h1M50.25 126.75h50M100.75 126.75h1.5M102.25 126.75h2M104.25 126.75h1M105.25 126.75h1M107.75 126.75h1M50.75 127.25h47.5M98.25 127.25h2M100.25 127.25h1.5M101.75 127.25h2.5M104.25 127.25h1.5M106.25 127.25h1.5M108.25 127.25h1.5M110.75 127.25h1M50.25 127.75h45M95.25 127.75h1M96.25 127.75h1M97.25 127.75h1.5M98.75 127.75h1.5M100.75 127.75h1M101.75 127.75h2M105.25 127.75h1.5M111.25 127.75h1M50.25 128.25h45M95.25 128.25h2.5M97.75 128.25h2M99.75 128.25h1.5M101.25 128.25h2.5M103.75 128.25h1.5M105.25 128.25h1.5M106.75 128.25h1M107.75 128.25h1M109.75 128.25h1M111.75 128.25h1M50.25 128.75h44.5M94.75 128.75h2.5M97.25 128.75h1M98.75 128.75h1.5M100.75 128.75h1M101.75 128.75h1M104.75 128.75h1M106.75 128.75h1M107.75 128.75h1M50.25 129.25h43.5M93.75 129.25h1.5M95.25 129.25h1.5M96.75 129.25h1M97.75 129.25h1M99.25 129.25h1M100.25 129.25h2.5M50.25 129.75h43.5M93.75 129.75h1.5M96.25 129.75h1.5M97.75 129.75h3.5M101.25 129.75h1M102.75 129.75h1M103.75 129.75h1M107.25 129.75h1M110.25 129.75h1M50.25 130.25h42M92.25 130.25h3M95.25 130.25h1M97.25 130.25h1M98.25 130.25h3.5M106.25 130.25h1M110.25 130.25h1M50.25 130.75h41M91.25 130.75h1.5M92.75 130.75h2M94.75 130.75h1M95.75 130.75h1M97.25 130.75h1.5M99.25 130.75h1.5M102.75 130.75h1.5M105.25 130.75h1M50.25 131.25h43M94.25 131.25h1M95.25 131.25h1.5M96.75 131.25h2.5M99.25 131.25h1M50.25 131.75h40.5M91.25 131.75h2M93.75 131.75h1.5M98.75 131.75h1M100.25 131.75h1M101.25 131.75h1M102.75 131.75h1M109.25 131.75h1M50.25 132.25h42.5M92.75 132.25h1.5M94.25 132.25h1.5M96.25 132.25h1.5M97.75 132.25h1M99.25 132.25h1M103.75 132.25h1M50.25 132.75h33.5M83.75 132.75h3.5M87.25 132.75h2M89.25 132.75h1M90.25 132.75h3.5M93.75 132.75h1M94.75 132.75h1M97.25 132.75h1.5M99.25 132.75h1M101.25 132.75h1M103.75 132.75h1M50.25 133.25h37.5M89.75 133.25h1.5M92.75 133.25h1.5M94.25 133.25h1M96.25 133.25h1M98.25 133.25h1.5M102.75 133.25h1M50.25 133.75h30M80.25 133.75h3.5M83.75 133.75h2M85.75 133.75h4.5M90.75 133.75h2M92.75 133.75h2.5M95.25 133.75h2M100.75 133.75h1M50.25 134.25h40M90.75 134.25h1M92.25 134.25h1M93.25 134.25h1M94.25 134.25h1.5M97.25 134.25h1M103.75 134.25h1M104.75 134.25h1M50.25 134.75h33.5M83.75 134.75h3.5M87.25 134.75h2.5M90.75 134.75h1M93.25 134.75h1.5M98.25 134.75h1.5M50.25 135.25h33M83.75 135.25h2.5M86.25 135.25h1M87.25 135.25h1M88.25 135.25h1M89.75 135.25h2M91.75 135.25h1M93.75 135.25h1.5M95.75 135.25h1M96.75 135.25h1M50.25 135.75h27.5M77.75 135.75h2M79.75 135.75h1M80.75 135.75h5M86.25 135.75h1M87.25 135.75h1M88.25 135.75h1.5M89.75 135.75h1M90.75 135.75h1.5M92.75 135.75h1M95.75 135.75h1.5M98.75 135.75h1M50.25 136.25h28M78.25 136.25h3M81.25 136.25h6M87.25 136.25h1M88.25 136.25h1.5M89.75 136.25h1M93.75 136.25h1M95.25 136.25h1M97.25 136.25h1M50.25 136.75h23.5M73.75 136.75h7M81.25 136.75h1.5M83.75 136.75h1M85.25 136.75h2M90.75 136.75h1M50.25 137.25h29.5M79.75 137.25h2M82.25 137.25h1M83.25 137.25h1M84.75 137.25h1M85.75 137.25h1M88.25 137.25h1M89.25 137.25h1.5M93.25 137.25h1M96.75 137.25h1M50.25 137.75h25M75.25 137.75h4.5M80.25 137.75h1.5M82.25 137.75h1.5M83.75 137.75h2M93.75 137.75h1M50.25 138.25h27.5M77.75 138.25h3M87.75 138.25h1.5M89.25 138.25h2M99.25 138.25h1M50.25 138.75h27.5M77.75 138.75h1M78.75 138.75h1.5M80.75 138.75h1M81.75 138.75h1.5M86.75 138.75h1M87.75 138.75h1M50.25 139.25h18.5M68.75 139.25h4M72.75 139.25h4M77.25 139.25h1M78.25 139.25h1M79.25 139.25h2M81.25 139.25h1M82.75 139.25h1M86.75 139.25h2M88.75 139.25h1.5M50.25 139.75h28M78.25 139.75h1M79.25 139.75h1M80.25 139.75h2M84.75 139.75h1M85.75 139.75h1M50.25 140.25h24M74.75 140.25h1.5M78.25 140.25h1M82.25 140.25h1M85.75 140.25h1M87.75 140.25h1M92.75 140.25h1M50.25 140.75h23M78.25 140.75h1M80.75 140.75h1M82.25 140.75h1M84.75 140.75h1M50.25 141.25h22M73.75 141.25h1M75.25 141.25h2M77.75 141.25h1M79.75 141.25h1M80.75 141.25h2M50.25 141.75h16M66.75 141.75h1.5M68.25 141.75h2.5M70.75 141.75h1M71.75 141.75h1M72.75 141.75h1M74.25 141.75h1.5M80.75 141.75h1M83.25 141.75h1M84.25 141.75h1M50.25 142.25h15.5M65.75 142.25h4.5M70.25 142.25h1.5M71.75 142.25h1M74.25 142.25h1M79.25 142.25h1M50.25 142.75h15.5M65.75 142.75h3M68.75 142.75h1M70.75 142.75h1M72.25 142.75h1M75.75 142.75h1M77.25 142.75h1M50.25 143.25h16M66.75 143.25h1.5M68.25 143.25h1.5M72.75 143.25h1M74.75 143.25h1M77.75 143.25h1M80.75 143.25h1M90.25 143.25h1M50.25 143.75h11M61.25 143.75h1.5M62.75 143.75h2.5M65.25 143.75h1M66.75 143.75h1.5M69.75 143.75h1M70.75 143.75h1M73.25 143.75h2M75.75 143.75h1M50.25 144.25h11.5M62.25 144.25h2.5M64.75 144.25h2.5M67.75 144.25h1M68.75 144.25h1M70.25 144.25h1M71.25 144.25h1M79.25 144.25h1M50.25 144.75h9.5M59.75 144.75h2M61.75 144.75h1.5M64.25 144.75h2M66.25 144.75h1.5M68.75 144.75h1M70.75 144.75h1M73.25 144.75h1M50.25 145.25h11.5M61.75 145.25h1.5M63.25 145.25h2.5M66.25 145.25h1.5M68.25 145.25h1M72.75 145.25h1M50.25 145.75h8M58.25 145.75h1M59.25 145.75h5M64.75 145.75h1M65.75 145.75h1M67.75 145.75h1M69.25 145.75h1M70.75 145.75h1M91.25 145.75h1M50.25 146.25h8.5M58.75 146.25h1.5M60.25 146.25h1.5M61.75 146.25h1.5M65.25 146.25h1.5M66.75 146.25h1M50.25 146.75h8M58.75 146.75h1M59.75 146.75h2M63.75 146.75h1.5M70.75 146.75h1M73.75 146.75h1M74.75 146.75h1M50.25 147.25h4.5M54.75 147.25h2.5M57.25 147.25h3M60.25 147.25h1M61.75 147.25h1M62.75 147.25h1M65.25 147.25h1M74.25 147.25h1M50.25 147.75h5M55.25 147.75h2.5M57.75 147.75h1.5M62.75 147.75h1M65.25 147.75h1.5M50.25 148.25h4M54.25 148.25h1M55.25 148.25h1M56.75 148.25h1.5M58.25 148.25h1.5M59.75 148.25h2M61.75 148.25h2M64.25 148.25h1M65.25 148.25h1M50.25 148.75h4M54.25 148.75h1M55.75 148.75h2M57.75 148.75h1.5M50.25 149.25h1.5M51.75 149.25h2.5M55.25 149.25h1.5M57.25 149.25h1M58.75 149.25h1M62.75 149.25h1.5M50.25 149.75h5M56.25 149.75h1M61.25 149.75h1M50.25 150.25h3.5M55.25 150.25h1.5M60.25 150.25h1M61.75 150.25h1M62.75 150.25h1M50.25 150.75h1M51.25 150.75h1M53.25 150.75h1.5M55.25 150.75h1M68.75 150.75h1M74.75 150.75h1M51.75 151.25h1.5M53.25 151.25h1M56.75 151.25h1M59.25 151.25h1M50.25 151.75h1M51.25 151.75h1M53.75 151.75h1M50.25 152.25h1M53.75 152.25h1M50.75 152.75h1.5M52.75 152.75h1M53.25 153.25h1M57.25 153.25h1M50.75 153.75h1M55.25 153.75h1" stroke="#000" stroke-width="1" fill="none" shape-rendering="auto"/>
<path d="M50.60 138.34L193.54 57.66" stroke="#d4d4d4" stroke-width=".8" fill="none"/>
<text x="47.80" y="24.20" text-anchor="end" font-size="7.8">1000.00</text><text x="47.80" y="52.26" text-anchor="end" font-size="7.8">100.00</text><text x="47.80" y="81.92" text-anchor="end" font-size="7.8">10.00</text><text x="47.80" y="111.58" text-anchor="end" font-size="7.8">1.00</text><text x="47.80" y="141.24" text-anchor="end" font-size="7.8">0.10</text><text x="47.80" y="168.20" text-anchor="end" font-size="7.8">0.01</text><text x="49.80" y="178.30" text-anchor="middle" font-size="7.8">0.1</text><text x="103.15" y="178.30" text-anchor="middle" font-size="7.8">1.0</text><text x="155.70" y="178.30" text-anchor="middle" font-size="7.8">10.0</text><text x="208.25" y="178.30" text-anchor="middle" font-size="7.8">100.0</text><text x="260.80" y="178.30" text-anchor="middle" font-size="7.8">1000.0</text><text x="155.70" y="186.60" text-anchor="middle" font-size="7.8">R (mm/h)</text><text x="155.70" y="16.10" text-anchor="middle" font-size="10.0">R(Z), C band</text><text transform="translate(13.50 93.85) rotate(-90)" text-anchor="middle" font-size="7.8">R(Z) (mm/h)</text>
<path d="M321.30 18.20H531.20M321.30 166.50H531.20M321.30 47.86H531.20M321.30 77.52H531.20M321.30 107.18H531.20M321.30 136.84H531.20" fill="none" stroke="#4c4c4c" stroke-width=".55"/><path d="M321.30 18.20V166.50M531.20 18.20V166.50M373.78 18.20V166.50M426.25 18.20V166.50M478.73 18.20V166.50" fill="none" stroke="#555" stroke-width=".6"/><path d="M337.10 166.50v-2.40M337.10 18.20v2.40M346.34 166.50v-2.40M346.34 18.20v2.40M352.89 166.50v-2.40M352.89 18.20v2.40M357.98 166.50v-2.40M357.98 18.20v2.40M362.13 166.50v-2.40M362.13 18.20v2.40M365.65 166.50v-2.40M365.65 18.20v2.40M368.69 166.50v-2.40M368.69 18.20v2.40M371.37 166.50v-2.40M371.37 18.20v2.40M389.57 166.50v-2.40M389.57 18.20v2.40M398.81 166.50v-2.40M398.81 18.20v2.40M405.37 166.50v-2.40M405.37 18.20v2.40M410.45 166.50v-2.40M410.45 18.20v2.40M414.61 166.50v-2.40M414.61 18.20v2.40M418.12 166.50v-2.40M418.12 18.20v2.40M421.16 166.50v-2.40M421.16 18.20v2.40M423.85 166.50v-2.40M423.85 18.20v2.40M442.05 166.50v-2.40M442.05 18.20v2.40M451.29 166.50v-2.40M451.29 18.20v2.40M457.84 166.50v-2.40M457.84 18.20v2.40M462.93 166.50v-2.40M462.93 18.20v2.40M467.08 166.50v-2.40M467.08 18.20v2.40M470.60 166.50v-2.40M470.60 18.20v2.40M473.64 166.50v-2.40M473.64 18.20v2.40M476.32 166.50v-2.40M476.32 18.20v2.40M494.52 166.50v-2.40M494.52 18.20v2.40M503.76 166.50v-2.40M503.76 18.20v2.40M510.32 166.50v-2.40M510.32 18.20v2.40M515.40 166.50v-2.40M515.40 18.20v2.40M519.56 166.50v-2.40M519.56 18.20v2.40M523.07 166.50v-2.40M523.07 18.20v2.40M526.11 166.50v-2.40M526.11 18.20v2.40M528.80 166.50v-2.40M528.80 18.20v2.40M321.30 157.57h3.00M531.20 157.57h-3.00M321.30 152.35h3.00M531.20 152.35h-3.00M321.30 148.64h3.00M531.20 148.64h-3.00M321.30 145.77h3.00M531.20 145.77h-3.00M321.30 143.42h3.00M531.20 143.42h-3.00M321.30 141.43h3.00M531.20 141.43h-3.00M321.30 139.71h3.00M531.20 139.71h-3.00M321.30 138.20h3.00M531.20 138.20h-3.00M321.30 127.91h3.00M531.20 127.91h-3.00M321.30 122.69h3.00M531.20 122.69h-3.00M321.30 118.98h3.00M531.20 118.98h-3.00M321.30 116.11h3.00M531.20 116.11h-3.00M321.30 113.76h3.00M531.20 113.76h-3.00M321.30 111.77h3.00M531.20 111.77h-3.00M321.30 110.05h3.00M531.20 110.05h-3.00M321.30 108.54h3.00M531.20 108.54h-3.00M321.30 98.25h3.00M531.20 98.25h-3.00M321.30 93.03h3.00M531.20 93.03h-3.00M321.30 89.32h3.00M531.20 89.32h-3.00M321.30 86.45h3.00M531.20 86.45h-3.00M321.30 84.10h3.00M531.20 84.10h-3.00M321.30 82.11h3.00M531.20 82.11h-3.00M321.30 80.39h3.00M531.20 80.39h-3.00M321.30 78.88h3.00M531.20 78.88h-3.00M321.30 68.59h3.00M531.20 68.59h-3.00M321.30 63.37h3.00M531.20 63.37h-3.00M321.30 59.66h3.00M531.20 59.66h-3.00M321.30 56.79h3.00M531.20 56.79h-3.00M321.30 54.44h3.00M531.20 54.44h-3.00M321.30 52.45h3.00M531.20 52.45h-3.00M321.30 50.73h3.00M531.20 50.73h-3.00M321.30 49.22h3.00M531.20 49.22h-3.00M321.30 38.93h3.00M531.20 38.93h-3.00M321.30 33.71h3.00M531.20 33.71h-3.00M321.30 30.00h3.00M531.20 30.00h-3.00M321.30 27.13h3.00M531.20 27.13h-3.00M321.30 24.78h3.00M531.20 24.78h-3.00M321.30 22.79h3.00M531.20 22.79h-3.00M321.30 21.07h3.00M531.20 21.07h-3.00M321.30 19.56h3.00M531.20 19.56h-3.00" fill="none" stroke="#555" stroke-width=".55"/>
<path d="M489.75 19.75h1M472.75 21.75h1M459.25 23.25h1M454.25 24.25h1M460.75 24.25h1M482.25 24.75h1M467.25 25.25h1M469.25 26.25h1M478.25 26.25h1M490.25 26.25h1M471.25 26.75h1M478.25 30.25h1M441.25 31.25h1M485.25 32.25h1M471.25 32.75h1M483.25 32.75h1M464.25 33.25h1M434.25 33.75h1M476.25 33.75h1M478.75 34.25h1.5M489.25 35.25h1M431.25 35.75h1M454.25 36.25h1M466.75 36.25h1M422.75 36.75h1M461.75 36.75h1M486.75 37.25h1M444.75 37.75h1M449.75 38.25h1M460.25 38.25h1M483.75 38.25h1M489.75 38.25h1M453.25 38.75h1M466.75 38.75h1M459.25 39.25h1M461.75 39.25h1M465.25 39.25h1M484.25 39.25h1M488.75 39.25h1M475.75 39.75h1M483.25 39.75h1M419.75 40.25h1M459.25 40.25h1M461.25 40.25h1M414.75 40.75h1M447.75 40.75h1M451.75 40.75h1M462.25 40.75h1M451.75 41.25h1M472.25 41.25h1M477.75 41.25h1M486.25 41.25h1M432.25 41.75h1M451.25 41.75h1M470.75 41.75h1M479.75 41.75h1M450.25 42.25h1M465.25 42.25h1M470.25 42.25h1M483.75 42.25h1M496.25 42.25h1M448.25 42.75h1M450.25 42.75h1M470.75 42.75h1M475.75 42.75h1M479.75 42.75h1M437.75 43.25h1M459.75 43.25h1M461.25 43.25h1M462.25 43.25h1M464.25 43.25h1M467.75 43.25h1M481.25 43.25h1M446.75 43.75h1M474.25 43.75h1M476.75 43.75h1M479.25 43.75h1M484.75 43.75h1M485.75 43.75h1M482.25 44.25h1M457.75 44.75h1M472.25 44.75h1M473.25 44.75h1M489.25 44.75h1M463.25 45.25h1M468.25 45.25h1M470.75 45.25h1M472.75 45.25h1M477.25 45.25h1M478.25 45.25h1M485.75 45.25h1M434.75 45.75h1M435.75 45.75h1M455.75 45.75h1M460.75 45.75h1M467.75 45.75h1M468.75 45.75h1M470.75 45.75h1M474.75 45.75h1M481.75 45.75h1M406.25 46.25h1M471.25 46.25h1M474.75 46.25h1M475.75 46.25h1M477.25 46.25h1M485.25 46.25h1.5M493.25 46.25h1M496.25 46.25h1M446.25 46.75h1M457.25 46.75h1M467.75 46.75h2M472.25 46.75h1M473.25 46.75h1M478.25 46.75h1M479.25 46.75h1M449.25 47.25h1M455.75 47.25h1M457.75 47.25h1M464.25 47.25h1M465.25 47.25h1M466.25 47.25h1M469.75 47.25h1M472.25 47.25h1M475.25 47.25h1M479.25 47.25h1M482.75 47.25h1M485.25 47.25h1M493.75 47.25h1M435.75 47.75h1M445.25 47.75h1M447.25 47.75h1M452.75 47.75h1M453.75 47.75h1M458.25 47.75h1M463.75 47.75h1M464.75 47.75h1.5M467.75 47.75h1M469.25 47.75h1M474.75 47.75h1M478.25 47.75h1M458.75 48.25h1M460.75 48.25h1M461.75 48.25h1M467.75 48.25h1M468.75 48.25h1M473.25 48.25h1.5M479.75 48.25h1M483.75 48.25h1M484.75 48.25h3.5M488.75 48.25h1M492.25 48.25h1M436.25 48.75h1M442.25 48.75h1M447.25 48.75h1M448.25 48.75h1M456.25 48.75h1M462.75 48.75h1.5M469.25 48.75h1M481.75 48.75h1M482.75 48.75h3M486.75 48.75h1M488.75 48.75h1M463.25 49.25h1M466.25 49.25h1M469.25 49.25h1M471.25 49.25h1.5M474.25 49.25h1M476.75 49.25h1M479.25 49.25h4.5M494.25 49.25h1M430.25 49.75h1M437.25 49.75h1M443.25 49.75h1M459.75 49.75h1M463.25 49.75h1M468.75 49.75h1M475.75 49.75h1M476.75 49.75h1M478.25 49.75h1.5M479.75 49.75h1M483.25 49.75h1M487.75 49.75h1M492.25 49.75h1M423.75 50.25h1M448.75 50.25h1M453.75 50.25h1M456.25 50.25h1M460.75 50.25h1M471.75 50.25h1M472.75 50.25h1.5M475.25 50.25h3.5M479.75 50.25h1M481.75 50.25h1.5M483.75 50.25h1M484.75 50.25h1M485.75 50.25h1M442.25 50.75h1M444.25 50.75h1M459.25 50.75h1M463.25 50.75h1M466.75 50.75h1M470.25 50.75h1.5M471.75 50.75h1M474.25 50.75h1M475.25 50.75h2M477.25 50.75h2.5M482.25 50.75h1M483.25 50.75h1M437.25 51.25h1M441.25 51.25h1M448.25 51.25h1M459.25 51.25h1M462.75 51.25h2M470.25 51.25h1.5M471.75 51.25h3M474.75 51.25h1.5M476.25 51.25h1M479.75 51.25h1M480.75 51.25h1M427.75 51.75h1M443.75 51.75h1M455.75 51.75h1M467.75 51.75h1M468.75 51.75h1M469.75 51.75h1.5M471.25 51.75h4.5M476.75 51.75h1.5M478.25 51.75h1M434.75 52.25h1M443.25 52.25h1M444.75 52.25h1M448.75 52.25h1M449.75 52.25h1.5M455.25 52.25h1.5M458.75 52.25h1M461.75 52.25h1M463.75 52.25h1M467.75 52.25h1.5M469.25 52.25h1.5M470.75 52.25h1M472.25 52.25h1.5M473.75 52.25h1.5M475.75 52.25h2M478.75 52.25h1M491.25 52.25h1M428.75 52.75h1M434.25 52.75h1M440.25 52.75h1M441.25 52.75h1M457.75 52.75h1M461.75 52.75h1.5M466.25 52.75h1.5M468.25 52.75h2M470.25 52.75h5M430.25 53.25h1M442.75 53.25h1M446.25 53.25h1M451.25 53.25h1M459.25 53.25h1M462.75 53.25h1M464.25 53.25h1M465.25 53.25h1M466.25 53.25h4.5M470.75 53.25h4.5M442.25 53.75h1M446.25 53.75h1M455.25 53.75h1M456.75 53.75h1M463.75 53.75h1.5M465.75 53.75h5M471.25 53.75h4M475.25 53.75h1.5M477.25 53.75h1M413.25 54.25h1M431.75 54.25h1M436.25 54.25h1M446.25 54.25h1M452.75 54.25h1M453.75 54.25h1M457.75 54.25h1M459.75 54.25h2.5M462.25 54.25h1.5M464.75 54.25h7.5M472.75 54.25h1M424.75 54.75h1M438.25 54.75h1M442.25 54.75h1M444.25 54.75h1M448.25 54.75h1M455.25 54.75h1.5M457.75 54.75h1M461.25 54.75h2.5M463.75 54.75h1M464.75 54.75h8.5M473.25 54.75h1M423.25 55.25h1M426.75 55.25h1M432.75 55.25h1.5M439.75 55.25h1M442.25 55.25h1M448.75 55.25h1M455.25 55.25h1.5M459.25 55.25h1M460.75 55.25h1M461.75 55.25h9M470.75 55.25h1M472.25 55.25h1M412.75 55.75h1M428.75 55.75h1.5M437.25 55.75h1M445.75 55.75h1M451.75 55.75h1M456.25 55.75h5M461.75 55.75h7M469.25 55.75h1M471.75 55.75h1M422.75 56.25h1M445.25 56.25h1M447.75 56.25h1M451.75 56.25h1.5M454.25 56.25h1M456.25 56.25h1M457.25 56.25h1M458.25 56.25h11.5M470.25 56.25h1M471.25 56.25h1M408.25 56.75h1.5M412.25 56.75h1M426.75 56.75h1M429.25 56.75h1M436.75 56.75h1M443.25 56.75h1M448.25 56.75h1M451.25 56.75h1.5M455.75 56.75h3M458.75 56.75h1M459.75 56.75h8M467.75 56.75h2M470.75 56.75h1M418.75 57.25h1M437.25 57.25h1M447.75 57.25h1M450.75 57.25h1M452.25 57.25h1.5M453.75 57.25h1M454.75 57.25h1M456.75 57.25h1M457.75 57.25h10.5M468.25 57.25h1M470.25 57.25h1M426.75 57.75h1M434.25 57.75h1M437.75 57.75h1M445.75 57.75h1M450.25 57.75h1.5M452.75 57.75h2M455.25 57.75h1M456.25 57.75h10.5M466.75 57.75h1M467.75 57.75h2M469.75 57.75h1M473.25 57.75h1M420.25 58.25h1M427.25 58.25h1M429.75 58.25h1M431.75 58.25h1M444.25 58.25h1M446.75 58.25h1M448.75 58.25h1M450.25 58.25h1M452.25 58.25h1.5M454.25 58.25h1.5M455.75 58.25h1M456.75 58.25h7M463.75 58.25h1M464.75 58.25h3M467.75 58.25h1M427.25 58.75h1M429.25 58.75h1M431.75 58.75h1M435.75 58.75h1M438.75 58.75h1.5M441.25 58.75h1M444.75 58.75h1M446.25 58.75h1M449.75 58.75h1.5M451.25 58.75h1M454.75 58.75h9.5M464.25 58.75h1M465.25 58.75h2M418.75 59.25h1M420.75 59.25h1M431.25 59.25h1M433.75 59.25h1M439.75 59.25h1M443.25 59.25h1.5M445.75 59.25h2M450.75 59.25h1M453.25 59.25h9.5M463.25 59.25h1M464.75 59.25h2M466.75 59.25h1M468.25 59.25h1M424.25 59.75h1M426.25 59.75h1M430.75 59.75h1M436.25 59.75h1.5M439.25 59.75h1M441.75 59.75h1M443.75 59.75h1.5M445.75 59.75h1M446.75 59.75h1.5M448.25 59.75h1M449.75 59.75h1M450.75 59.75h12.5M463.25 59.75h2.5M465.75 59.75h1.5M412.75 60.25h1M417.25 60.25h1M423.25 60.25h1.5M428.25 60.25h1M432.25 60.25h1M439.25 60.25h1M440.25 60.25h1M441.75 60.25h1.5M447.25 60.25h1M448.25 60.25h1M449.75 60.25h1M450.75 60.25h1M451.75 60.25h12.5M464.75 60.25h1M465.75 60.25h1M401.25 60.75h1M408.25 60.75h1M413.25 60.75h1M430.75 60.75h1M433.75 60.75h1M435.75 60.75h1M437.75 60.75h1M445.75 60.75h1.5M447.25 60.75h2M449.75 60.75h11M461.25 60.75h2.5M463.75 60.75h1.5M466.25 60.75h1.5M432.25 61.25h1M436.75 61.25h1M437.75 61.25h1M442.75 61.25h1.5M444.25 61.25h1M445.75 61.25h1M447.75 61.25h1M448.75 61.25h9M457.75 61.25h5M462.75 61.25h1M416.75 61.75h1M418.75 61.75h1M437.25 61.75h1M439.75 61.75h1M440.75 61.75h1M442.75 61.75h1.5M445.25 61.75h1M446.25 61.75h9.5M455.75 61.75h5.5M462.25 61.75h1M402.25 62.25h1M412.25 62.25h1M431.75 62.25h1M434.75 62.25h1.5M438.75 62.25h1M441.75 62.25h1M444.25 62.25h10M454.25 62.25h3.5M458.25 62.25h2.5M460.75 62.25h1M462.25 62.25h1M464.25 62.25h1M427.75 62.75h1M428.75 62.75h1M431.25 62.75h1M432.25 62.75h1M435.75 62.75h2M438.75 62.75h1.5M440.75 62.75h3M443.75 62.75h11M454.75 62.75h2M456.75 62.75h4M460.75 62.75h1M425.75 63.25h1M430.25 63.25h1M432.75 63.25h1M435.75 63.25h1M438.25 63.25h1M439.75 63.25h2M442.25 63.25h2.5M444.75 63.25h8M452.75 63.25h8.5M461.75 63.25h1M462.75 63.25h1M421.25 63.75h1M433.75 63.75h1M435.25 63.75h1M438.75 63.75h2M441.25 63.75h12M453.25 63.75h4.5M457.75 63.75h3M402.25 64.25h1M407.25 64.25h1M413.75 64.25h1M421.25 64.25h1M424.25 64.25h1.5M426.75 64.25h1M433.25 64.25h2M436.75 64.25h2M438.75 64.25h1M439.75 64.25h2.5M442.25 64.25h16M460.25 64.25h1M407.75 64.75h1M428.75 64.75h1M432.75 64.75h2M435.25 64.75h2M437.75 64.75h4.5M442.25 64.75h13.5M455.75 64.75h1M457.25 64.75h1.5M458.75 64.75h1M463.25 64.75h1M394.25 65.25h1M402.25 65.25h1M415.25 65.25h1M426.25 65.25h1M429.25 65.25h1M431.25 65.25h1M432.75 65.25h2.5M436.25 65.25h1M437.75 65.25h1.5M439.25 65.25h1.5M440.75 65.25h8.5M449.25 65.25h1.5M450.75 65.25h6M456.75 65.25h1M404.25 65.75h1M414.25 65.75h1M425.25 65.75h1M429.25 65.75h1.5M430.75 65.75h2.5M433.25 65.75h1M434.75 65.75h3M438.25 65.75h10M448.25 65.75h7.5M455.75 65.75h1M456.75 65.75h1M457.75 65.75h1M461.75 65.75h1M421.25 66.25h1.5M426.75 66.25h1M431.25 66.25h1M433.25 66.25h1.5M434.75 66.25h3.5M438.25 66.25h14M452.25 66.25h1.5M453.75 66.25h2.5M409.75 66.75h1M416.25 66.75h1M421.75 66.75h1M423.75 66.75h1M424.75 66.75h1M426.25 66.75h1M428.25 66.75h2M433.25 66.75h1M435.25 66.75h2.5M437.75 66.75h17M456.75 66.75h1M423.25 67.25h1M427.25 67.25h1M428.25 67.25h1M429.25 67.25h1M432.75 67.25h3.5M436.25 67.25h16.5M452.75 67.25h2M454.75 67.25h1M456.25 67.25h1M457.75 67.25h1M393.25 67.75h1M414.75 67.75h1M422.75 67.75h1M424.75 67.75h2M428.25 67.75h1.5M429.75 67.75h1.5M431.75 67.75h1M432.75 67.75h3M435.75 67.75h14M449.75 67.75h3M452.75 67.75h1M453.75 67.75h1M458.75 67.75h1M416.75 68.25h1M420.25 68.25h1M426.75 68.25h1M429.25 68.25h4M433.25 68.25h14.5M447.75 68.25h3.5M451.25 68.25h1M452.75 68.25h1M454.75 68.25h1M394.25 68.75h1M408.25 68.75h1M419.75 68.75h1M423.25 68.75h1.5M426.25 68.75h1M428.25 68.75h1.5M429.75 68.75h1M431.25 68.75h1M432.25 68.75h16.5M448.75 68.75h3M451.75 68.75h1M452.75 68.75h1.5M454.25 68.75h1M455.75 68.75h1M459.75 68.75h1M405.25 69.25h1M406.25 69.25h1.5M409.75 69.25h1M422.25 69.25h1.5M423.75 69.25h1.5M425.25 69.25h1M426.75 69.25h1M427.75 69.25h1M429.25 69.25h21M450.75 69.25h1M456.75 69.25h1.5M412.75 69.75h1M419.75 69.75h2M421.75 69.75h1M423.75 69.75h1M424.75 69.75h1M425.75 69.75h1.5M427.25 69.75h19.5M447.25 69.75h3.5M401.25 70.25h1M408.75 70.25h1M415.25 70.25h1M416.25 70.25h1.5M420.75 70.25h1M421.75 70.25h1M423.25 70.25h2M425.25 70.25h1.5M427.25 70.25h18M445.25 70.25h1.5M446.75 70.25h2M449.75 70.25h2M451.75 70.25h1M403.25 70.75h1M415.25 70.75h1M417.75 70.75h1M420.75 70.75h1M421.75 70.75h1M422.75 70.75h1.5M424.75 70.75h24M448.75 70.75h1M450.25 70.75h2M452.75 70.75h1M407.75 71.25h1.5M416.75 71.25h2M419.25 71.25h1M420.25 71.25h1.5M421.75 71.25h1.5M424.25 71.25h1.5M425.75 71.25h3.5M429.25 71.25h17.5M446.75 71.25h2.5M449.75 71.25h1M450.75 71.25h1M452.25 71.25h1.5M397.75 71.75h1M400.25 71.75h1M412.75 71.75h1M415.25 71.75h1M417.75 71.75h1M418.75 71.75h1M419.75 71.75h1.5M421.75 71.75h2M424.25 71.75h23.5M448.25 71.75h1.5M449.75 71.75h1.5M451.25 71.75h1.5M390.75 72.25h1M411.75 72.25h1M412.75 72.25h1M416.25 72.25h1.5M417.75 72.25h1M420.25 72.25h1M421.25 72.25h2M423.25 72.25h24M447.25 72.25h1M448.25 72.25h1M452.75 72.25h1M401.75 72.75h1M407.75 72.75h1M409.75 72.75h1M417.25 72.75h1M419.25 72.75h3M422.25 72.75h2M424.25 72.75h20M445.25 72.75h1M446.25 72.75h2.5M401.75 73.25h1M403.25 73.25h1M406.25 73.25h1M410.25 73.25h1M411.75 73.25h1M413.75 73.25h1M417.25 73.25h1.5M419.25 73.25h3M422.25 73.25h20.5M443.25 73.25h2.5M446.25 73.25h2M448.75 73.25h1M389.25 73.75h1M391.25 73.75h1M411.75 73.75h1M414.25 73.75h1M415.25 73.75h1M416.25 73.75h1.5M417.75 73.75h1M418.75 73.75h24M442.75 73.75h2.5M445.25 73.75h1M446.25 73.75h1M389.75 74.25h1M405.25 74.25h1M409.75 74.25h1M412.75 74.25h1M414.25 74.25h1.5M415.75 74.25h1M416.75 74.25h1M417.75 74.25h25.5M444.25 74.25h1.5M447.25 74.25h1M399.25 74.75h1M404.75 74.75h1M409.75 74.75h1M413.25 74.75h1.5M415.25 74.75h1M416.75 74.75h20M436.75 74.75h4M440.75 74.75h4M445.75 74.75h1.5M395.25 75.25h1M402.25 75.25h1M408.75 75.25h1M411.75 75.25h3.5M415.25 75.25h2.5M418.75 75.25h26.5M445.25 75.25h1M447.25 75.25h1M391.75 75.75h1M400.75 75.75h1M404.25 75.75h1M406.25 75.75h1M410.75 75.75h1M411.75 75.75h1M413.75 75.75h2M415.75 75.75h23M439.25 75.75h1M440.25 75.75h3M443.75 75.75h1M392.25 76.25h1M399.25 76.25h1M405.75 76.25h1M406.75 76.25h1M408.25 76.25h1.5M410.75 76.25h1M412.25 76.25h1.5M413.75 76.25h2M415.75 76.25h24M440.25 76.25h1.5M442.25 76.25h1M400.25 76.75h1M402.25 76.75h1M408.75 76.75h1M409.75 76.75h1M411.25 76.75h1M412.25 76.75h3M415.25 76.75h25M440.25 76.75h1M442.75 76.75h1.5M391.75 77.25h1M398.75 77.25h1M403.75 77.25h1M407.25 77.25h1M408.25 77.25h1M409.25 77.25h1.5M410.75 77.25h1.5M412.25 77.25h23.5M435.75 77.25h1.5M437.25 77.25h2M439.75 77.25h2.5M443.25 77.25h1M392.75 77.75h1M396.25 77.75h1M400.75 77.75h1M401.75 77.75h1M405.25 77.75h1M406.25 77.75h1M407.25 77.75h1M408.75 77.75h1M410.25 77.75h1.5M411.75 77.75h26M437.75 77.75h2M439.75 77.75h1M440.75 77.75h1M442.75 77.75h1M445.75 77.75h1M389.75 78.25h1M395.75 78.25h1M398.25 78.25h1M399.25 78.25h1M406.75 78.25h1M409.75 78.25h1.5M411.25 78.25h3M414.25 78.25h23M437.25 78.25h1M438.25 78.25h1M440.25 78.25h1M441.75 78.25h1M450.25 78.25h1M386.75 78.75h1M403.75 78.75h1M404.75 78.75h1M407.25 78.75h1.5M409.75 78.75h27M436.75 78.75h1M437.75 78.75h1M440.25 78.75h1M391.75 79.25h1M399.75 79.25h1M402.75 79.25h1M404.25 79.25h2M406.75 79.25h5M411.75 79.25h21M432.75 79.25h1M433.75 79.25h2.5M436.75 79.25h1M439.75 79.25h1M442.25 79.25h1M398.75 79.75h2M402.75 79.75h1M404.25 79.75h1M405.25 79.75h1M406.25 79.75h1.5M407.75 79.75h4M411.75 79.75h21M432.75 79.75h1.5M434.75 79.75h1M436.75 79.75h1.5M439.75 79.75h1M390.25 80.25h1M399.25 80.25h1M402.25 80.25h1.5M403.75 80.25h31M434.75 80.25h3M385.25 80.75h1M394.25 80.75h1M400.25 80.75h1M401.25 80.75h1.5M404.75 80.75h1.5M406.25 80.75h26M432.25 80.75h1.5M433.75 80.75h1M434.75 80.75h1.5M438.25 80.75h1M439.25 80.75h1M390.75 81.25h1M401.75 81.25h1M403.25 81.25h2.5M405.75 81.25h26M431.75 81.25h1.5M433.25 81.25h1M386.75 81.75h1M393.75 81.75h1.5M397.25 81.75h2M401.25 81.75h3.5M404.75 81.75h28M432.75 81.75h1M433.75 81.75h1.5M435.75 81.75h1M436.75 81.75h1.5M441.25 81.75h1M444.75 81.75h1M396.75 82.25h1M398.25 82.25h1M399.75 82.25h1.5M402.25 82.25h2M404.25 82.25h27M431.25 82.25h1M432.25 82.25h1M389.25 82.75h1M394.25 82.75h1M395.75 82.75h1M400.25 82.75h1M401.25 82.75h1M402.75 82.75h26.5M429.25 82.75h1M430.25 82.75h1.5M432.25 82.75h1.5M434.75 82.75h1M387.25 83.25h1M390.25 83.25h1M393.25 83.25h1M394.25 83.25h1M395.75 83.25h3M398.75 83.25h1M399.75 83.25h1M400.75 83.25h29.5M430.25 83.25h1M431.25 83.25h1M434.25 83.25h1M385.75 83.75h1M392.75 83.75h1M395.25 83.75h1M397.25 83.75h1M398.25 83.75h32M430.25 83.75h1.5M432.75 83.75h1M380.25 84.25h1M381.75 84.25h1M385.25 84.25h1M391.25 84.25h1M393.75 84.25h1.5M395.75 84.25h1.5M397.25 84.25h1M398.75 84.25h28M426.75 84.25h1.5M428.75 84.25h1M430.25 84.25h1M431.75 84.25h1M392.75 84.75h1M394.75 84.75h1M395.75 84.75h1M396.75 84.75h1.5M398.25 84.75h30M428.25 84.75h1.5M431.25 84.75h1.5M390.75 85.25h1M393.25 85.25h1.5M395.75 85.25h4.5M400.75 85.25h21.5M422.25 85.25h3.5M425.75 85.25h1.5M427.25 85.25h1M428.25 85.25h1M430.75 85.25h1M383.75 85.75h1M390.75 85.75h1M391.75 85.75h1M393.25 85.75h1M394.25 85.75h1.5M395.75 85.75h29.5M425.25 85.75h2.5M430.25 85.75h1M387.25 86.25h1M388.75 86.25h1.5M390.75 86.25h1M393.75 86.25h2M395.75 86.25h2.5M398.25 86.25h25M423.25 86.25h2M425.75 86.25h1M426.75 86.25h1M429.25 86.25h1M383.25 86.75h1M388.25 86.75h1M391.25 86.75h1.5M392.75 86.75h3M395.75 86.75h26M421.75 86.75h3.5M427.75 86.75h1.5M386.75 87.25h1.5M389.25 87.25h1M390.75 87.25h1M392.25 87.25h1M393.25 87.25h30M423.25 87.25h2.5M427.25 87.25h1M373.75 87.75h1M379.25 87.75h1M386.75 87.75h1M389.25 87.75h1.5M390.75 87.75h1M391.75 87.75h29M420.75 87.75h4.5M428.25 87.75h1M433.25 87.75h1M372.75 88.25h1M377.75 88.25h1M379.75 88.25h1.5M383.25 88.25h1M387.25 88.25h2M391.25 88.25h31.5M422.75 88.25h2M377.75 88.75h1M385.25 88.75h1M386.75 88.75h1M390.25 88.75h1M391.75 88.75h31M422.75 88.75h1M423.75 88.75h1M381.75 89.25h1M385.75 89.25h1.5M388.25 89.25h3.5M391.75 89.25h29M421.25 89.25h2M425.25 89.25h1M365.25 89.75h1M377.75 89.75h1M380.75 89.75h1M384.75 89.75h1M387.25 89.75h32M419.25 89.75h2.5M422.25 89.75h1.5M424.25 89.75h1M360.25 90.25h1M376.75 90.25h1M377.75 90.25h1M378.75 90.25h1M382.75 90.25h1.5M384.75 90.25h1M386.75 90.25h1.5M388.25 90.25h31.5M419.75 90.25h1.5M421.25 90.25h1M422.25 90.25h1M377.25 90.75h1M381.25 90.75h2M383.75 90.75h1M386.25 90.75h1M387.25 90.75h29.5M416.75 90.75h2M419.25 90.75h1M423.25 90.75h1M376.75 91.25h1M383.75 91.25h2M385.75 91.25h34.5M423.25 91.25h1M377.75 91.75h1M380.25 91.75h2.5M383.75 91.75h33M416.75 91.75h3.5M422.25 91.75h1M351.75 92.25h1M370.75 92.25h1M373.25 92.25h1M377.25 92.25h1.5M381.25 92.25h1.5M383.25 92.25h1M384.25 92.25h33.5M417.75 92.25h2M420.25 92.25h1M376.25 92.75h1M379.75 92.75h1.5M381.25 92.75h1M382.25 92.75h1.5M383.75 92.75h33.5M417.25 92.75h1M418.75 92.75h1M419.75 92.75h1.5M357.25 93.25h1M373.25 93.25h1M377.25 93.25h1M378.25 93.25h2M381.25 93.25h1M382.25 93.25h31M413.25 93.25h4M418.25 93.25h1M377.25 93.75h1.5M379.25 93.75h36M415.25 93.75h1M416.25 93.75h1M417.25 93.75h1M418.25 93.75h1.5M375.75 94.25h1M377.75 94.25h1M378.75 94.25h1M380.25 94.25h1M381.25 94.25h1M382.25 94.25h31.5M413.75 94.25h2.5M416.25 94.25h2M418.25 94.25h1M359.25 94.75h1M367.25 94.75h1M373.75 94.75h1M374.75 94.75h1M377.25 94.75h1M379.25 94.75h33M412.25 94.75h3M415.25 94.75h1.5M419.25 94.75h1M420.25 94.75h1M359.25 95.25h1M362.75 95.25h1M365.25 95.25h1M366.75 95.25h1M368.25 95.25h1M373.25 95.25h1M375.25 95.25h1M377.25 95.25h1M378.25 95.25h35.5M413.75 95.25h2M415.75 95.25h1M366.25 95.75h1M373.25 95.75h1.5M374.75 95.75h6M380.75 95.75h32M413.25 95.75h2M361.75 96.25h1M368.75 96.25h1M374.75 96.25h35M409.75 96.25h1M411.25 96.25h4.5M416.25 96.25h1M352.75 96.75h1M365.75 96.75h1M370.25 96.75h1M372.75 96.75h1M373.75 96.75h1.5M375.25 96.75h2M377.75 96.75h30M407.75 96.75h4.5M412.25 96.75h2.5M414.75 96.75h2M364.25 97.25h1M367.25 97.25h1M368.25 97.25h1M369.75 97.25h2M372.25 97.25h1M373.25 97.25h2M375.25 97.25h38M414.25 97.25h1M415.25 97.25h1M359.25 97.75h1M367.75 97.75h1M368.75 97.75h1M369.75 97.75h1.5M371.25 97.75h2.5M374.25 97.75h33.5M407.75 97.75h3M410.75 97.75h1M411.75 97.75h1M415.75 97.75h1M361.75 98.25h1M368.25 98.25h1.5M370.25 98.25h1M371.75 98.25h2M373.75 98.25h33M406.75 98.25h3M409.75 98.25h3M413.25 98.25h1M414.25 98.25h3M358.75 98.75h1M364.75 98.75h1.5M368.75 98.75h1M370.25 98.75h1M371.25 98.75h1.5M372.75 98.75h38.5M412.25 98.75h1M413.75 98.75h1M359.75 99.25h1M363.75 99.25h1M366.75 99.25h1.5M368.25 99.25h2M370.25 99.25h39.5M409.75 99.25h2M411.75 99.25h1M364.25 99.75h1M365.25 99.75h1M366.25 99.75h44M411.25 99.75h1.5M364.25 100.25h1M365.25 100.25h1.5M366.75 100.25h3M369.75 100.25h38.5M408.75 100.25h1.5M410.75 100.25h1M357.25 100.75h1M359.25 100.75h1M361.75 100.75h1.5M363.75 100.75h1M365.75 100.75h2.5M368.25 100.75h39M407.75 100.75h1.5M352.25 101.25h1M357.25 101.25h1M358.75 101.25h1M363.75 101.25h1M364.75 101.25h2M366.75 101.25h37M403.75 101.25h1.5M405.75 101.25h2M407.75 101.25h2M338.75 101.75h1M361.75 101.75h3M365.25 101.75h37.5M402.75 101.75h4M407.25 101.75h1.5M409.75 101.75h1M358.25 102.25h1.5M359.75 102.25h1M362.75 102.25h1.5M364.75 102.25h39M403.75 102.25h2M405.75 102.25h1M407.25 102.25h1.5M408.75 102.25h1M348.75 102.75h1M352.25 102.75h1M355.25 102.75h1M357.75 102.75h1M359.25 102.75h2M361.25 102.75h2M363.25 102.75h2M365.25 102.75h33M398.25 102.75h5M403.25 102.75h1.5M404.75 102.75h1.5M407.75 102.75h1M408.75 102.75h1M410.75 102.75h1M358.75 103.25h1.5M360.25 103.25h1M361.25 103.25h1.5M362.75 103.25h39.5M402.25 103.25h1.5M403.75 103.25h2.5M408.25 103.25h1M349.25 103.75h1M353.25 103.75h1M355.75 103.75h1M357.75 103.75h1.5M359.75 103.75h1.5M361.25 103.75h38.5M399.75 103.75h1.5M401.75 103.75h1.5M403.25 103.75h1M404.25 103.75h1.5M405.75 103.75h1M406.75 103.75h1.5M347.75 104.25h1M349.25 104.25h1M350.75 104.25h1M355.75 104.25h1M356.75 104.25h1M357.75 104.25h44M401.75 104.25h2.5M404.75 104.25h1M407.25 104.25h1M349.25 104.75h1M350.25 104.75h1.5M353.25 104.75h1M354.25 104.75h1.5M355.75 104.75h45M400.75 104.75h1M401.75 104.75h1.5M403.25 104.75h2M405.25 104.75h1.5M407.75 104.75h1.5M409.25 104.75h1M349.75 105.25h1M352.25 105.25h1M355.75 105.25h1.5M357.25 105.25h1M358.25 105.25h45M403.25 105.25h1.5M407.25 105.25h1M347.25 105.75h1M349.25 105.75h1M350.25 105.75h1M351.25 105.75h1M353.75 105.75h2.5M356.25 105.75h1M357.25 105.75h1M358.25 105.75h1.5M359.75 105.75h41M400.75 105.75h1.5M404.75 105.75h1.5M406.75 105.75h1M410.25 105.75h1M343.75 106.25h1M350.75 106.25h1.5M353.25 106.25h2.5M355.75 106.25h41.5M397.25 106.25h2M399.25 106.25h2M401.25 106.25h2.5M403.75 106.25h1.5M348.25 106.75h1.5M351.75 106.75h1M353.25 106.75h1M354.25 106.75h1.5M355.75 106.75h2M357.75 106.75h36M393.75 106.75h4.5M399.25 106.75h2.5M402.25 106.75h1M404.25 106.75h1M345.75 107.25h1M350.25 107.25h1M351.25 107.25h3.5M354.75 107.25h38.5M393.25 107.25h5.5M398.75 107.25h1.5M400.75 107.25h2.5M404.25 107.25h1M405.75 107.25h1M344.25 107.75h1M345.75 107.75h1M346.75 107.75h1M347.75 107.75h2M350.25 107.75h1M351.25 107.75h3M354.25 107.75h42M396.25 107.75h1M397.75 107.75h1.5M399.25 107.75h1M401.25 107.75h2M405.75 107.75h1M407.25 107.75h1M337.75 108.25h1M345.75 108.25h1M347.75 108.25h1M348.75 108.25h1M349.75 108.25h1M351.25 108.25h41.5M392.75 108.25h1M393.75 108.25h4.5M398.75 108.25h1M399.75 108.25h1.5M402.25 108.25h1.5M326.25 108.75h1M344.75 108.75h1M348.75 108.75h3M351.75 108.75h44.5M396.25 108.75h3M399.25 108.75h1.5M405.25 108.75h1M406.75 108.75h1M335.25 109.25h1M341.75 109.25h1M343.25 109.25h1.5M346.25 109.25h1M347.75 109.25h1M348.75 109.25h46.5M395.25 109.25h1.5M396.75 109.25h1M397.75 109.25h1.5M401.75 109.25h1M403.25 109.25h1M406.75 109.25h1M342.25 109.75h1M344.25 109.75h1M345.75 109.75h1M346.75 109.75h3M349.75 109.75h38.5M388.25 109.75h7M395.25 109.75h1M396.25 109.75h1M397.25 109.75h1M398.25 109.75h1.5M400.75 109.75h1M403.75 109.75h1M325.75 110.25h1M335.75 110.25h1M338.75 110.25h1M342.75 110.25h1M343.75 110.25h1M345.75 110.25h1M347.25 110.25h5M352.25 110.25h34M386.25 110.25h2.5M388.75 110.25h5M393.75 110.25h2M397.25 110.25h1M336.25 110.75h1M339.25 110.75h1M340.75 110.75h1M341.75 110.75h2.5M344.25 110.75h2.5M347.25 110.75h1M348.25 110.75h41.5M389.75 110.75h2M391.75 110.75h2M394.25 110.75h3M398.75 110.75h1M399.75 110.75h2M401.75 110.75h1M403.75 110.75h1M325.25 111.25h1M343.75 111.25h1M344.75 111.25h1.5M346.25 111.25h45.5M391.75 111.25h2.5M394.75 111.25h2.5M397.25 111.25h2M400.25 111.25h1M337.75 111.75h1.5M339.25 111.75h1M341.25 111.75h2M343.25 111.75h44M387.25 111.75h4.5M391.75 111.75h1M392.75 111.75h1.5M394.25 111.75h2M396.25 111.75h2.5M399.25 111.75h1M402.25 111.75h1M336.75 112.25h1M340.25 112.25h1M341.75 112.25h2.5M344.25 112.25h48.5M392.75 112.25h1.5M394.25 112.25h2.5M396.75 112.25h1M330.75 112.75h1M332.25 112.75h1M335.75 112.75h1M337.25 112.75h1M338.75 112.75h1.5M340.25 112.75h3M343.75 112.75h40.5M384.25 112.75h5M389.25 112.75h1.5M390.75 112.75h3M393.75 112.75h1M394.75 112.75h1.5M398.75 112.75h1M402.75 112.75h1M332.75 113.25h1M335.25 113.25h2M337.75 113.25h1M339.75 113.25h46.5M386.25 113.25h3.5M389.75 113.25h2M392.75 113.25h1.5M394.75 113.25h1.5M396.25 113.25h1M397.25 113.25h1M398.75 113.25h1.5M331.25 113.75h1M336.75 113.75h1M338.75 113.75h3M342.25 113.75h1M343.25 113.75h43M386.25 113.75h1.5M387.75 113.75h3M390.75 113.75h1.5M392.25 113.75h1M393.75 113.75h1M394.75 113.75h1.5M332.25 114.25h1M333.25 114.25h1M334.25 114.25h1M335.25 114.25h1M336.25 114.25h1M338.75 114.25h49.5M388.25 114.25h1.5M389.75 114.25h2M391.75 114.25h1.5M393.25 114.25h1M394.25 114.25h2M396.25 114.25h1M398.25 114.25h1M335.75 114.75h1.5M337.25 114.75h2M339.25 114.75h1.5M340.75 114.75h44.5M385.25 114.75h4M390.25 114.75h2.5M393.25 114.75h1M331.75 115.25h1M332.75 115.25h1M333.75 115.25h2M336.25 115.25h1M338.25 115.25h44M382.25 115.25h3M385.25 115.25h1.5M386.75 115.25h2.5M389.25 115.25h1.5M390.75 115.25h1M391.75 115.25h1M392.75 115.25h1M393.75 115.25h1.5M331.25 115.75h1M333.75 115.75h1M334.75 115.75h1M335.75 115.75h1.5M337.75 115.75h47M384.75 115.75h1M385.75 115.75h2.5M388.25 115.75h1M389.25 115.75h2M391.25 115.75h1.5M398.25 115.75h1M331.75 116.25h1M332.75 116.25h1M334.25 116.25h1M337.25 116.25h47M384.25 116.25h4M388.25 116.25h1.5M389.75 116.25h1.5M397.25 116.25h1M398.75 116.25h1M331.75 116.75h2M333.75 116.75h2M335.75 116.75h2M337.75 116.75h42M379.75 116.75h4M383.75 116.75h1.5M385.25 116.75h2.5M387.75 116.75h2M390.75 116.75h1M328.75 117.25h2M331.75 117.25h1M332.75 117.25h2.5M335.25 117.25h52.5M389.25 117.25h2M399.75 117.25h1M323.75 117.75h1M325.25 117.75h1M327.75 117.75h1M330.75 117.75h2.5M333.25 117.75h1.5M334.75 117.75h44.5M379.25 117.75h4M383.25 117.75h3M386.75 117.75h1.5M388.25 117.75h2M390.25 117.75h1.5M393.75 117.75h1M396.75 117.75h1M328.25 118.25h1.5M330.25 118.25h1M331.25 118.25h48.5M379.75 118.25h4.5M384.25 118.25h1.5M386.25 118.25h1M387.25 118.25h2M326.25 118.75h1M327.75 118.75h1M329.75 118.75h1M330.75 118.75h52M382.75 118.75h1M383.75 118.75h1.5M385.25 118.75h2M389.25 118.75h1.5M324.75 119.25h1M325.75 119.25h1.5M328.75 119.25h1M329.75 119.25h1M330.75 119.25h53.5M384.25 119.25h1M385.75 119.25h2M322.25 119.75h1.5M325.25 119.75h1M327.75 119.75h1M329.25 119.75h52M381.25 119.75h3.5M384.75 119.75h1M386.75 119.75h1M387.75 119.75h1.5M390.75 119.75h1M395.25 119.75h1M323.75 120.25h1M324.75 120.25h1M327.75 120.25h51.5M379.25 120.25h2.5M381.75 120.25h1.5M385.75 120.25h1M389.25 120.25h1M321.75 120.75h1M325.75 120.75h1.5M327.75 120.75h50.5M379.25 120.75h2M381.75 120.75h1M385.25 120.75h1M387.25 120.75h1M391.75 120.75h1M322.25 121.25h1.5M324.75 121.25h2M327.25 121.25h51.5M378.75 121.25h1.5M380.25 121.25h1M383.75 121.25h1M384.75 121.25h1M386.75 121.25h1M388.75 121.25h1.5M320.75 121.75h1M321.75 121.75h1M322.75 121.75h1M323.75 121.75h1M324.75 121.75h1M325.75 121.75h1.5M327.25 121.75h1.5M328.75 121.75h49M377.75 121.75h2M380.75 121.75h1M382.75 121.75h1M384.75 121.75h1M393.25 121.75h1M321.25 122.25h1M323.75 122.25h51M374.75 122.25h3M377.75 122.25h1M382.75 122.25h1M383.75 122.25h1M386.75 122.25h1.5M322.75 122.75h55M378.25 122.75h1.5M380.25 122.75h1M382.25 122.75h1M383.25 122.75h1M321.75 123.25h1M322.75 123.25h43.5M366.25 123.25h4M370.75 123.25h2M373.25 123.25h2M375.25 123.25h3.5M378.75 123.25h1M384.75 123.25h1M390.25 123.25h1M321.25 123.75h1M322.75 123.75h3M325.75 123.75h50.5M376.25 123.75h1.5M378.25 123.75h1.5M384.25 123.75h1M386.25 123.75h1M320.75 124.25h1.5M322.25 124.25h50.5M372.75 124.25h3M376.75 124.25h1M378.25 124.25h1M382.25 124.25h1M320.75 124.75h50M370.75 124.75h2.5M373.25 124.75h1.5M375.25 124.75h1.5M380.25 124.75h1M320.75 125.25h1M321.75 125.25h50M371.75 125.25h1.5M373.25 125.25h1M374.25 125.25h1M376.25 125.25h1.5M385.75 125.25h1M320.75 125.75h42.5M363.25 125.75h2.5M365.75 125.75h2M367.75 125.75h1M368.75 125.75h2M370.75 125.75h1M371.75 125.75h2M374.25 125.75h1M377.25 125.75h1M378.75 125.75h1M320.75 126.25h50.5M371.75 126.25h2.5M374.25 126.25h1M375.25 126.25h1M376.25 126.25h1.5M381.25 126.25h1M320.75 126.75h51.5M372.75 126.75h1M373.75 126.75h1.5M375.75 126.75h1M320.75 127.25h49.5M370.25 127.25h1M371.75 127.25h2.5M374.75 127.25h1.5M377.75 127.25h1.5M382.75 127.25h1M320.75 127.75h46.5M367.75 127.75h1M368.75 127.75h3M372.25 127.75h1M373.25 127.75h1M375.25 127.75h1M376.75 127.75h1M320.75 128.25h48M368.75 128.25h1M369.75 128.25h1M371.25 128.25h1M372.25 128.25h2M379.25 128.25h1M383.75 128.25h1M320.75 128.75h43.5M364.25 128.75h2M366.25 128.75h1.5M368.75 128.75h1M370.25 128.75h3M374.75 128.75h1M375.75 128.75h1.5M320.75 129.25h37.5M358.25 129.25h7M365.25 129.25h1.5M366.75 129.25h1M367.75 129.25h1.5M369.25 129.25h1M371.25 129.25h1M372.75 129.25h1M373.75 129.25h1M374.75 129.25h1M320.75 129.75h36.5M357.25 129.75h3M360.25 129.75h4.5M364.75 129.75h2M367.75 129.75h1M368.75 129.75h1.5M370.25 129.75h1M374.75 129.75h1M320.75 130.25h40M360.75 130.25h1.5M362.25 130.25h1M364.75 130.25h1M366.75 130.25h1M368.25 130.25h2M370.25 130.25h1.5M378.75 130.25h1M380.75 130.25h1M320.75 130.75h36M356.75 130.75h4.5M361.25 130.75h3.5M366.25 130.75h1M367.75 130.75h2M369.75 130.75h1M371.25 130.75h1M373.25 130.75h1M376.75 130.75h1M320.75 131.25h37M357.75 131.25h2M360.25 131.25h1M361.25 131.25h1M362.25 131.25h1.5M363.75 131.25h2.5M367.75 131.25h1M369.75 131.25h1.5M373.25 131.25h1M320.75 131.75h32.5M353.25 131.75h4.5M357.75 131.75h1.5M359.25 131.75h3M363.75 131.75h1M364.75 131.75h1M366.75 131.75h3M372.25 131.75h1M320.75 132.25h37.5M358.25 132.25h1.5M360.75 132.25h1.5M363.75 132.25h1M364.75 132.25h1M365.75 132.25h1M366.75 132.25h1M368.25 132.25h1M370.75 132.25h1M372.75 132.25h1M374.75 132.25h1M320.75 132.75h35M355.75 132.75h4M359.75 132.75h1M360.75 132.75h2.5M364.25 132.75h1M366.75 132.75h1.5M369.25 132.75h1M320.75 133.25h33M353.75 133.25h5.5M362.25 133.25h1M363.75 133.25h1.5M375.25 133.25h1M379.75 133.25h1M320.75 133.75h32.5M353.25 133.75h8M361.25 133.75h1M363.25 133.75h1.5M320.75 134.25h34M355.25 134.25h1M356.25 134.25h1M357.75 134.25h2.5M361.25 134.25h1.5M365.25 134.25h1M366.75 134.25h1M367.75 134.25h1M370.75 134.25h1M320.75 134.75h29M349.75 134.75h2.5M352.25 134.75h1M353.25 134.75h1.5M354.75 134.75h2.5M358.25 134.75h1M360.25 134.75h1.5M363.75 134.75h1M366.25 134.75h1M368.75 134.75h1M371.25 134.75h1M320.75 135.25h31M351.75 135.25h1.5M353.25 135.25h1M354.25 135.25h1M355.25 135.25h1M356.25 135.25h1M357.75 135.25h1M358.75 135.25h1M359.75 135.25h1M362.25 135.25h1.5M366.75 135.25h1M320.75 135.75h29M349.75 135.75h1.5M351.25 135.75h1.5M353.75 135.75h2M355.75 135.75h3.5M359.75 135.75h1.5M362.25 135.75h1M320.75 136.25h28.5M349.25 136.25h3.5M352.75 136.25h2M355.25 136.25h1.5M357.25 136.25h1M359.75 136.25h1M362.75 136.25h1M365.75 136.25h1M320.75 136.75h22M342.75 136.75h5M347.75 136.75h2.5M350.25 136.75h1M351.25 136.75h1M352.25 136.75h1.5M353.75 136.75h1M355.75 136.75h1M356.75 136.75h1M359.75 136.75h1M362.25 136.75h1M370.75 136.75h1M320.75 137.25h24.5M345.25 137.25h2M347.75 137.25h1.5M349.25 137.25h1M350.75 137.25h1M352.75 137.25h1M353.75 137.25h1M358.75 137.25h1M361.25 137.25h1M363.25 137.25h1M368.75 137.25h1M320.75 137.75h26.5M348.75 137.75h1M350.25 137.75h1M351.25 137.75h1M368.75 137.75h1M320.75 138.25h25.5M346.25 138.25h1.5M349.25 138.25h1.5M350.75 138.25h1M353.25 138.25h1M369.75 138.25h1M320.75 138.75h24M344.75 138.75h1M346.75 138.75h1M348.25 138.75h1M353.25 138.75h1M356.25 138.75h1M358.25 138.75h1M320.75 139.25h21.5M342.25 139.25h3M345.75 139.25h1M348.25 139.25h1M349.75 139.25h1.5M351.75 139.25h1M353.75 139.25h1M320.75 139.75h19M339.75 139.75h1M340.75 139.75h3M343.75 139.75h1M345.25 139.75h1M347.75 139.75h1M349.25 139.75h1M350.75 139.75h1M351.75 139.75h1.5M353.75 139.75h1M366.25 139.75h1M320.75 140.25h20M340.75 140.25h2.5M343.75 140.25h1M345.25 140.25h1M347.25 140.25h1M349.25 140.25h1M354.75 140.25h1M320.75 140.75h17.5M338.25 140.75h1M339.25 140.75h2.5M341.75 140.75h1M344.25 140.75h1M348.75 140.75h1M352.25 140.75h1M320.75 141.25h16M336.75 141.25h1M337.75 141.25h1M338.75 141.25h1.5M340.25 141.25h1M341.25 141.25h1.5M344.75 141.25h1M348.25 141.25h1M365.75 141.25h1M320.75 141.75h16M336.75 141.75h2M338.75 141.75h1.5M340.25 141.75h1M341.75 141.75h1.5M344.25 141.75h1M320.75 142.25h17M338.25 142.25h1.5M340.25 142.25h1M341.25 142.25h1M361.25 142.25h1M320.75 142.75h14M335.25 142.75h1.5M336.75 142.75h2.5M339.25 142.75h1M341.25 142.75h1.5M320.75 143.25h9M329.75 143.25h6.5M336.75 143.25h1M337.75 143.25h1M340.25 143.25h1M320.75 143.75h12.5M333.25 143.75h1M334.25 143.75h2M336.25 143.75h1.5M337.75 143.75h1M340.25 143.75h1M341.75 143.75h1M320.75 144.25h11M331.75 144.25h2M333.75 144.25h1M335.75 144.25h2M340.25 144.25h1M341.25 144.25h1M320.75 144.75h9M330.25 144.75h3M334.25 144.75h1M335.25 144.75h1.5M339.25 144.75h1.5M352.75 144.75h1M320.75 145.25h8.5M329.25 145.25h1.5M330.75 145.25h1.5M332.75 145.25h2M334.75 145.25h1.5M336.75 145.25h1M337.75 145.25h1M320.75 145.75h11M331.75 145.75h1.5M320.75 146.25h3.5M324.25 146.25h2M326.25 146.25h5M331.75 146.25h1M336.75 146.25h1M320.75 146.75h8M329.25 146.75h1M330.25 146.75h1M332.75 146.75h1M333.75 146.75h1M320.75 147.25h3M324.25 147.25h1.5M326.25 147.25h1M327.25 147.25h1M328.25 147.25h1.5M329.75 147.25h1M331.75 147.25h1M320.75 147.75h4.5M325.75 147.75h1.5M327.25 147.75h1.5M328.75 147.75h1M329.75 147.75h1M320.75 148.25h2.5M323.25 148.25h2.5M327.25 148.25h1M329.75 148.25h1M330.75 148.25h1M332.25 148.25h1M333.25 148.25h1M320.75 148.75h1.5M323.75 148.75h1.5M325.75 148.75h1.5M331.25 148.75h1M332.25 148.75h1.5M321.25 149.25h1.5M323.25 149.25h1M324.25 149.25h1.5M321.75 149.75h2M325.75 149.75h1M328.75 149.75h1M321.75 150.25h1M322.75 150.25h1.5M324.25 150.25h1M325.25 150.25h1.5M326.75 150.25h1.5M321.25 150.75h1.5M323.25 151.25h1.5M325.25 151.25h1M327.25 151.25h1M329.75 151.25h1M321.75 151.75h1.5M325.25 151.75h1M321.25 152.25h1M321.25 153.25h1M324.25 153.75h1M320.75 156.75h1" stroke="#000" stroke-width="1" fill="none" shape-rendering="auto"/>
<path d="M321.30 136.84L469.80 52.90" stroke="#d4d4d4" stroke-width=".8" fill="none"/>
<text x="318.50" y="22.20" text-anchor="end" font-size="7.5">1000.00</text><text x="318.50" y="50.26" text-anchor="end" font-size="7.5">100.00</text><text x="318.50" y="79.92" text-anchor="end" font-size="7.5">10.00</text><text x="318.50" y="109.58" text-anchor="end" font-size="7.5">1.00</text><text x="318.50" y="139.24" text-anchor="end" font-size="7.5">0.10</text><text x="318.50" y="166.70" text-anchor="end" font-size="7.5">0.01</text><text x="320.50" y="175.70" text-anchor="middle" font-size="7.5">0.1</text><text x="373.78" y="175.70" text-anchor="middle" font-size="7.5">1.0</text><text x="426.25" y="175.70" text-anchor="middle" font-size="7.5">10.0</text><text x="478.73" y="175.70" text-anchor="middle" font-size="7.5">100.0</text><text x="531.20" y="175.70" text-anchor="middle" font-size="7.5">1000.0</text><text x="426.25" y="184.90" text-anchor="middle" font-size="7.75">R (mm/h)</text><text x="426.25" y="14.00" text-anchor="middle" font-size="9.85">R(Z,Z<tspan font-size="6" dy="2">DR</tspan><tspan dy="-2">), C band</tspan></text><text transform="translate(284.20 92.35) rotate(-90)" text-anchor="middle" font-size="7.75">R(Z,Z<tspan font-size="5.2" dy="1.6">DR</tspan><tspan dy="-1.6">) (mm/h)</tspan></text>
<path d="M51.20 218.30H261.30M51.20 366.70H261.30M51.20 247.98H261.30M51.20 277.66H261.30M51.20 307.34H261.30M51.20 337.02H261.30" fill="none" stroke="#4c4c4c" stroke-width=".55"/><path d="M51.20 218.30V366.70M261.30 218.30V366.70M103.73 218.30V366.70M156.25 218.30V366.70M208.78 218.30V366.70" fill="none" stroke="#555" stroke-width=".6"/><path d="M67.01 366.70v-2.40M67.01 218.30v2.40M76.26 366.70v-2.40M76.26 218.30v2.40M82.82 366.70v-2.40M82.82 218.30v2.40M87.91 366.70v-2.40M87.91 218.30v2.40M92.07 366.70v-2.40M92.07 218.30v2.40M95.59 366.70v-2.40M95.59 218.30v2.40M98.63 366.70v-2.40M98.63 218.30v2.40M101.32 366.70v-2.40M101.32 218.30v2.40M119.54 366.70v-2.40M119.54 218.30v2.40M128.79 366.70v-2.40M128.79 218.30v2.40M135.35 366.70v-2.40M135.35 218.30v2.40M140.44 366.70v-2.40M140.44 218.30v2.40M144.60 366.70v-2.40M144.60 218.30v2.40M148.11 366.70v-2.40M148.11 218.30v2.40M151.16 366.70v-2.40M151.16 218.30v2.40M153.85 366.70v-2.40M153.85 218.30v2.40M172.06 366.70v-2.40M172.06 218.30v2.40M181.31 366.70v-2.40M181.31 218.30v2.40M187.87 366.70v-2.40M187.87 218.30v2.40M192.96 366.70v-2.40M192.96 218.30v2.40M197.12 366.70v-2.40M197.12 218.30v2.40M200.64 366.70v-2.40M200.64 218.30v2.40M203.68 366.70v-2.40M203.68 218.30v2.40M206.37 366.70v-2.40M206.37 218.30v2.40M224.59 366.70v-2.40M224.59 218.30v2.40M233.84 366.70v-2.40M233.84 218.30v2.40M240.40 366.70v-2.40M240.40 218.30v2.40M245.49 366.70v-2.40M245.49 218.30v2.40M249.65 366.70v-2.40M249.65 218.30v2.40M253.16 366.70v-2.40M253.16 218.30v2.40M256.21 366.70v-2.40M256.21 218.30v2.40M258.90 366.70v-2.40M258.90 218.30v2.40M51.20 357.77h3.00M261.30 357.77h-3.00M51.20 352.54h3.00M261.30 352.54h-3.00M51.20 348.83h3.00M261.30 348.83h-3.00M51.20 345.95h3.00M261.30 345.95h-3.00M51.20 343.60h3.00M261.30 343.60h-3.00M51.20 341.62h3.00M261.30 341.62h-3.00M51.20 339.90h3.00M261.30 339.90h-3.00M51.20 338.38h3.00M261.30 338.38h-3.00M51.20 328.09h3.00M261.30 328.09h-3.00M51.20 322.86h3.00M261.30 322.86h-3.00M51.20 319.15h3.00M261.30 319.15h-3.00M51.20 316.27h3.00M261.30 316.27h-3.00M51.20 313.92h3.00M261.30 313.92h-3.00M51.20 311.94h3.00M261.30 311.94h-3.00M51.20 310.22h3.00M261.30 310.22h-3.00M51.20 308.70h3.00M261.30 308.70h-3.00M51.20 298.41h3.00M261.30 298.41h-3.00M51.20 293.18h3.00M261.30 293.18h-3.00M51.20 289.47h3.00M261.30 289.47h-3.00M51.20 286.59h3.00M261.30 286.59h-3.00M51.20 284.24h3.00M261.30 284.24h-3.00M51.20 282.26h3.00M261.30 282.26h-3.00M51.20 280.54h3.00M261.30 280.54h-3.00M51.20 279.02h3.00M261.30 279.02h-3.00M51.20 268.73h3.00M261.30 268.73h-3.00M51.20 263.50h3.00M261.30 263.50h-3.00M51.20 259.79h3.00M261.30 259.79h-3.00M51.20 256.91h3.00M261.30 256.91h-3.00M51.20 254.56h3.00M261.30 254.56h-3.00M51.20 252.58h3.00M261.30 252.58h-3.00M51.20 250.86h3.00M261.30 250.86h-3.00M51.20 249.34h3.00M261.30 249.34h-3.00M51.20 239.05h3.00M261.30 239.05h-3.00M51.20 233.82h3.00M261.30 233.82h-3.00M51.20 230.11h3.00M261.30 230.11h-3.00M51.20 227.23h3.00M261.30 227.23h-3.00M51.20 224.88h3.00M261.30 224.88h-3.00M51.20 222.90h3.00M261.30 222.90h-3.00M51.20 221.18h3.00M261.30 221.18h-3.00M51.20 219.66h3.00M261.30 219.66h-3.00" fill="none" stroke="#555" stroke-width=".55"/>
<path d="M219.25 243.25h1M220.25 243.25h1M216.75 244.25h1M219.25 244.25h1M216.75 244.75h1M218.25 244.75h1.5M223.75 244.75h1M216.25 245.25h1M221.25 245.25h1M208.25 245.75h1M209.25 245.75h1M214.75 245.75h1M216.75 245.75h1M217.75 245.75h1M204.75 246.25h1M206.25 246.25h1M210.25 246.25h1M213.75 246.25h1M216.75 246.25h1M220.25 246.25h1M206.75 246.75h1M208.25 246.75h1.5M209.75 246.75h1.5M214.75 246.75h1M215.75 246.75h1.5M205.75 247.25h1M207.75 247.25h1M209.25 247.25h1M210.75 247.25h1M213.25 247.25h1M217.75 247.25h1M203.25 247.75h1.5M206.75 247.75h1M209.25 247.75h1M210.75 247.75h2.5M213.25 247.75h1M222.75 247.75h1M200.25 248.25h1M202.75 248.25h1M204.25 248.25h1.5M206.75 248.25h1M208.25 248.25h1M209.25 248.25h1.5M211.25 248.25h1M212.25 248.25h1M213.25 248.25h2M215.75 248.25h1M217.25 248.25h1M197.25 248.75h1.5M201.75 248.75h1M202.75 248.75h1M204.25 248.75h1.5M205.75 248.75h1M207.25 248.75h1M210.75 248.75h1M211.75 248.75h1M214.75 248.75h1M215.75 248.75h1M216.75 248.75h1M217.75 248.75h1.5M201.75 249.25h1.5M204.25 249.25h1M206.75 249.25h1.5M208.25 249.25h2M211.75 249.25h1.5M219.25 249.25h1M197.75 249.75h1M200.25 249.75h1.5M202.25 249.75h1M203.25 249.75h2M206.25 249.75h1.5M208.25 249.75h1M209.25 249.75h1M210.25 249.75h1M212.25 249.75h2M189.25 250.25h1M195.75 250.25h1M200.75 250.25h1M201.75 250.25h1.5M203.25 250.25h2.5M206.75 250.25h2M209.75 250.25h1M211.25 250.25h1M212.75 250.25h1M192.75 250.75h1M194.25 250.75h1.5M196.25 250.75h1.5M197.75 250.75h1M199.25 250.75h2M201.25 250.75h1.5M202.75 250.75h2M204.75 250.75h1.5M208.25 250.75h1M210.75 250.75h1M211.75 250.75h1M213.25 250.75h1M190.25 251.25h1M194.25 251.25h1M196.75 251.25h1M197.75 251.25h1M198.75 251.25h2.5M201.25 251.25h2.5M203.75 251.25h2M205.75 251.25h1M207.25 251.25h3M212.25 251.25h1M213.75 251.25h1M192.75 251.75h1.5M194.75 251.75h1M196.25 251.75h2M198.25 251.75h1M199.25 251.75h1.5M202.25 251.75h2.5M205.25 251.75h2M207.75 251.75h1.5M209.25 251.75h1M210.75 251.75h1M187.25 252.25h1M190.25 252.25h1M192.25 252.25h1M193.75 252.25h1M194.75 252.25h1M196.75 252.25h1.5M198.75 252.25h1M199.75 252.25h1M200.75 252.25h1M201.75 252.25h1M202.75 252.25h1.5M205.25 252.25h1.5M206.75 252.25h2M210.25 252.25h1M189.75 252.75h1M193.25 252.75h1.5M195.25 252.75h1.5M197.25 252.75h1.5M199.25 252.75h2.5M201.75 252.75h1M202.75 252.75h1.5M204.25 252.75h1.5M205.75 252.75h1M207.25 252.75h1M182.75 253.25h1M187.75 253.25h1M189.25 253.25h1M190.25 253.25h1.5M192.25 253.25h1.5M193.75 253.25h1.5M195.75 253.25h2.5M198.25 253.25h4M202.25 253.25h1M203.75 253.25h1M205.75 253.25h1M182.25 253.75h1M185.75 253.75h1M188.25 253.75h1.5M189.75 253.75h1M190.75 253.75h1.5M193.25 253.75h1M195.25 253.75h3.5M198.75 253.75h1.5M200.25 253.75h2.5M202.75 253.75h1.5M204.75 253.75h1M206.25 253.75h1.5M184.25 254.25h1M190.25 254.25h1M191.75 254.25h1M192.75 254.25h8M200.75 254.25h2M203.25 254.25h1M207.75 254.25h1M210.75 254.25h1M182.75 254.75h1M185.75 254.75h1M187.25 254.75h1M188.75 254.75h2M190.75 254.75h1M191.75 254.75h1M192.75 254.75h7M199.75 254.75h2.5M202.75 254.75h1M204.25 254.75h1.5M184.25 255.25h1M185.75 255.25h1M188.25 255.25h10M198.25 255.25h1M199.75 255.25h2M202.25 255.25h1M206.25 255.25h1M186.25 255.75h1.5M187.75 255.75h1M188.75 255.75h1.5M190.25 255.75h7.5M197.75 255.75h1M198.75 255.75h2M200.75 255.75h1M183.75 256.25h1.5M185.25 256.25h1.5M187.75 256.25h10M197.75 256.25h1.5M199.25 256.25h1.5M202.25 256.25h1M180.75 256.75h1M181.75 256.75h1M182.75 256.75h1M184.75 256.75h1M185.75 256.75h1M187.25 256.75h1M188.25 256.75h7M195.75 256.75h3.5M199.25 256.75h1M175.25 257.25h1M180.75 257.25h1M183.75 257.25h1.5M185.25 257.25h1.5M186.75 257.25h9M195.75 257.25h1M196.75 257.25h2.5M200.25 257.25h1M176.75 257.75h3M180.75 257.75h1M181.75 257.75h1.5M183.25 257.75h1.5M184.75 257.75h1M185.75 257.75h2.5M188.75 257.75h6.5M195.75 257.75h1.5M197.25 257.75h1.5M198.75 257.75h1.5M176.25 258.25h1M177.25 258.25h1.5M178.75 258.25h1M180.25 258.25h1.5M181.75 258.25h1M183.75 258.25h11.5M195.25 258.25h1M196.25 258.25h1.5M199.75 258.25h1M175.75 258.75h1M178.25 258.75h1.5M181.25 258.75h3M184.25 258.75h8M192.25 258.75h3M195.75 258.75h1.5M197.25 258.75h2M175.25 259.25h1M176.75 259.25h1.5M178.25 259.25h1M179.75 259.25h2M181.75 259.25h15.5M197.75 259.25h1M199.25 259.25h1M174.75 259.75h1M176.75 259.75h1M178.75 259.75h2M180.75 259.75h1.5M182.25 259.75h13M196.25 259.75h1M168.25 260.25h1M169.25 260.25h1M173.75 260.25h1M176.25 260.25h1M177.25 260.25h16M193.25 260.25h1.5M196.25 260.25h1M197.25 260.25h1M169.75 260.75h1M173.75 260.75h1.5M175.25 260.75h1M176.75 260.75h16M192.75 260.75h1.5M194.25 260.75h1M169.25 261.25h1M172.75 261.25h1M174.75 261.25h2M176.75 261.25h1M177.75 261.25h1.5M179.25 261.25h7.5M186.75 261.25h3.5M190.25 261.25h3.5M193.75 261.25h1M173.25 261.75h2.5M175.75 261.75h14.5M190.25 261.75h1M191.25 261.75h1M192.75 261.75h1.5M168.75 262.25h2M171.25 262.25h1.5M172.75 262.25h1M173.75 262.25h2.5M176.25 262.25h13.5M189.75 262.25h2M192.75 262.25h1M193.75 262.25h2M167.75 262.75h1M168.75 262.75h1.5M171.25 262.75h20M191.25 262.75h1.5M167.75 263.25h1M171.25 263.25h5M176.25 263.25h10.5M186.75 263.25h2M188.75 263.25h1.5M191.25 263.25h1M193.25 263.25h1M166.75 263.75h2M168.75 263.75h19M187.75 263.75h1M189.75 263.75h1M191.75 263.75h1.5M161.75 264.25h1M163.75 264.25h1M166.25 264.25h2M168.75 264.25h19.5M188.25 264.25h1M189.25 264.25h1M192.25 264.25h1M165.25 264.75h1M166.25 264.75h1.5M167.75 264.75h2M169.75 264.75h1M170.75 264.75h1M171.75 264.75h12.5M184.25 264.75h2.5M187.25 264.75h1.5M189.25 264.75h1M190.75 264.75h1M162.75 265.25h1.5M164.75 265.25h1.5M166.25 265.25h1.5M168.25 265.25h1M169.25 265.25h1M170.25 265.25h14.5M184.75 265.25h1.5M186.25 265.25h2M160.25 265.75h1.5M162.75 265.75h1M164.75 265.75h1M165.75 265.75h2M167.75 265.75h14.5M182.25 265.75h2M184.75 265.75h2.5M187.25 265.75h1M159.25 266.25h1M162.25 266.25h1.5M163.75 266.25h1.5M165.25 266.25h1.5M166.75 266.25h19M185.75 266.25h1.5M187.75 266.25h1M189.75 266.25h1M160.75 266.75h1M163.25 266.75h1M164.25 266.75h1.5M165.75 266.75h15M180.75 266.75h3.5M184.75 266.75h2.5M187.25 266.75h1M190.25 266.75h1M157.75 267.25h1M161.25 267.25h1M162.75 267.25h1M163.75 267.25h20.5M184.75 267.25h1M188.75 267.25h1M153.25 267.75h1M156.75 267.75h1M159.75 267.75h1.5M162.25 267.75h1.5M163.75 267.75h17.5M181.25 267.75h2M183.25 267.75h1M184.25 267.75h2.5M187.25 267.75h1M153.75 268.25h1M155.25 268.25h1M156.25 268.25h1.5M158.25 268.25h1M161.75 268.25h18M179.75 268.25h3.5M183.75 268.25h1.5M185.25 268.25h1M156.25 268.75h1.5M157.75 268.75h1M158.75 268.75h1M160.25 268.75h1.5M161.75 268.75h6.5M168.25 268.75h14M182.75 268.75h2.5M185.25 268.75h1M155.25 269.25h1M157.25 269.25h2M159.25 269.25h2M161.25 269.25h20M181.25 269.25h1M183.25 269.25h1M153.25 269.75h1M155.25 269.75h1.5M157.75 269.75h2M159.75 269.75h19M178.75 269.75h2.5M181.75 269.75h1.5M183.75 269.75h1M148.75 270.25h1M155.75 270.25h1M156.75 270.25h1.5M158.75 270.25h1.5M160.25 270.25h21M181.75 270.25h1M183.25 270.25h1.5M144.75 270.75h1M146.25 270.75h1M155.75 270.75h20.5M176.25 270.75h4M180.25 270.75h1M182.75 270.75h1M150.75 271.25h1M151.75 271.25h2M153.75 271.25h3M156.75 271.25h1.5M158.25 271.25h12M170.25 271.25h5M175.25 271.25h6M181.25 271.25h1.5M147.25 271.75h1M149.25 271.75h1M150.25 271.75h2M152.25 271.75h24M176.25 271.75h1.5M178.75 271.75h1.5M139.75 272.25h1M149.75 272.25h1M150.75 272.25h5M155.75 272.25h18M173.75 272.25h3.5M177.25 272.25h1.5M178.75 272.25h1M179.75 272.25h1M181.25 272.25h1M182.25 272.25h1M186.75 272.25h1M142.25 272.75h1M149.75 272.75h4.5M154.25 272.75h1M155.25 272.75h20.5M175.75 272.75h2.5M178.75 272.75h1M180.75 272.75h1M184.25 272.75h1M145.75 273.25h2.5M148.25 273.25h1M149.25 273.25h26M175.25 273.25h1M176.25 273.25h3.5M146.75 273.75h1M148.75 273.75h24.5M173.25 273.75h2.5M142.75 274.25h1M144.75 274.25h1.5M147.75 274.25h2.5M150.25 274.25h25.5M176.75 274.25h1.5M178.75 274.25h1M143.25 274.75h1M144.75 274.75h1M145.75 274.75h1M146.75 274.75h1M148.25 274.75h23.5M171.75 274.75h4M176.75 274.75h1M141.75 275.25h1M143.25 275.25h1M146.25 275.25h1.5M147.75 275.25h19.5M167.25 275.25h2.5M169.75 275.25h2M172.25 275.25h1M173.25 275.25h2M135.75 275.75h1M138.25 275.75h1.5M141.25 275.75h1M142.25 275.75h1M144.25 275.75h2M146.25 275.75h25M171.75 275.75h1M172.75 275.75h1M173.75 275.75h1M175.25 275.75h1M136.25 276.25h1M140.75 276.25h1.5M142.75 276.25h2.5M145.25 276.25h1M146.25 276.25h24M170.25 276.25h1M171.25 276.25h2.5M173.75 276.25h1M139.75 276.75h1M140.75 276.75h1.5M142.25 276.75h1M143.25 276.75h2M145.25 276.75h1M146.25 276.75h16.5M162.75 276.75h4M167.25 276.75h3M170.25 276.75h2M172.25 276.75h1M174.25 276.75h2.5M126.75 277.25h1M139.25 277.25h1M141.25 277.25h1.5M142.75 277.25h1.5M144.25 277.25h24M168.25 277.25h2M170.25 277.25h1M171.25 277.25h1M173.75 277.25h1M136.25 277.75h1M138.75 277.75h1M139.75 277.75h1M141.75 277.75h26M167.75 277.75h1.5M169.25 277.75h2.5M171.75 277.75h1M173.25 277.75h1M129.25 278.25h1M138.75 278.25h1.5M140.25 278.25h1M141.25 278.25h2M143.25 278.25h23.5M167.25 278.25h2M169.75 278.25h1M133.25 278.75h1M135.75 278.75h1.5M137.25 278.75h2.5M140.25 278.75h6M146.25 278.75h17M163.25 278.75h1M164.25 278.75h3M167.25 278.75h1M168.25 278.75h1M169.25 278.75h1M170.25 278.75h1M171.25 278.75h1.5M135.25 279.25h1.5M137.75 279.25h1M138.75 279.25h1.5M140.25 279.25h21.5M161.75 279.25h5M167.75 279.25h3.5M172.75 279.25h1M133.75 279.75h1M135.25 279.75h2M137.25 279.75h3.5M140.75 279.75h25M165.75 279.75h2.5M168.75 279.75h1M170.75 279.75h1M172.75 279.75h1M126.25 280.25h1M132.75 280.25h1M133.75 280.25h1M135.25 280.25h1M137.25 280.25h1M138.25 280.25h26.5M164.75 280.25h1.5M170.25 280.25h1M128.75 280.75h1M129.75 280.75h1.5M131.25 280.75h1M133.25 280.75h2M135.25 280.75h1M136.25 280.75h27M163.75 280.75h2.5M166.75 280.75h1M167.75 280.75h1M168.75 280.75h1M169.75 280.75h1M171.25 280.75h1M131.75 281.25h1M133.75 281.25h25.5M159.25 281.25h4M164.25 281.25h1.5M165.75 281.25h2.5M168.75 281.25h1M170.25 281.25h1M129.75 281.75h1M131.75 281.75h1M132.75 281.75h1M133.75 281.75h29M163.25 281.75h1.5M165.25 281.75h1M166.25 281.75h1M167.25 281.75h1M131.25 282.25h2M133.25 282.25h2M135.25 282.25h23.5M158.75 282.25h1.5M160.25 282.25h1M161.25 282.25h2.5M163.75 282.25h1.5M166.25 282.25h1M167.75 282.25h1M127.75 282.75h1M128.75 282.75h1M130.75 282.75h1.5M132.75 282.75h1M133.75 282.75h26M160.25 282.75h1.5M162.25 282.75h1M164.25 282.75h3M167.25 282.75h1M168.25 282.75h1.5M128.25 283.25h1M129.25 283.25h29M158.75 283.25h3M162.25 283.25h1M163.75 283.25h1M165.75 283.25h1M166.75 283.25h1M126.25 283.75h1M127.25 283.75h1M128.75 283.75h1.5M130.25 283.75h1M131.25 283.75h27.5M158.75 283.75h1.5M160.75 283.75h1M162.25 283.75h1M164.75 283.75h1M120.75 284.25h1.5M124.75 284.25h1M126.25 284.25h1.5M127.75 284.25h29.5M157.75 284.25h1M159.25 284.25h3.5M162.75 284.25h1M164.75 284.25h1M119.25 284.75h1M124.25 284.75h1M125.75 284.75h1M127.25 284.75h2M129.25 284.75h29.5M159.75 284.75h1M161.25 284.75h1M162.75 284.75h1.5M166.25 284.75h1M123.25 285.25h1M124.75 285.25h1M126.75 285.25h27M153.75 285.25h2M155.75 285.25h1.5M157.25 285.25h1M158.25 285.25h1M159.75 285.25h1.5M161.25 285.25h1M162.25 285.25h1M165.25 285.25h1M166.25 285.25h1M123.25 285.75h1M125.25 285.75h2M127.25 285.75h25.5M152.75 285.75h1.5M154.75 285.75h4M158.75 285.75h1.5M160.25 285.75h1.5M163.75 285.75h1M118.75 286.25h1M120.75 286.25h1M121.75 286.25h1M123.25 286.25h31.5M156.25 286.25h2.5M159.25 286.25h1M160.75 286.25h1M116.75 286.75h1M117.75 286.75h1M120.75 286.75h3M123.75 286.75h1M125.25 286.75h28M153.25 286.75h2.5M155.75 286.75h1.5M157.25 286.75h3M162.75 286.75h1M118.75 287.25h1M121.75 287.25h32M153.75 287.25h3M157.75 287.25h1M159.25 287.25h1M116.25 287.75h1M117.25 287.75h1.5M119.75 287.75h1M121.75 287.75h1M122.75 287.75h29M152.25 287.75h1.5M153.75 287.75h1.5M157.25 287.75h1.5M158.75 287.75h1M159.75 287.75h1M160.75 287.75h1M118.75 288.25h1.5M121.25 288.25h28.5M149.75 288.25h1.5M151.25 288.25h1.5M152.75 288.25h1M154.25 288.25h2M159.25 288.25h1M114.75 288.75h1M115.75 288.75h1M118.25 288.75h1.5M119.75 288.75h2.5M122.25 288.75h1.5M123.75 288.75h26M150.25 288.75h1.5M151.75 288.75h3M156.25 288.75h1M115.25 289.25h1M116.75 289.25h4M120.75 289.25h1.5M122.25 289.25h27.5M149.75 289.25h2M151.75 289.25h4M157.25 289.25h2M111.75 289.75h1M117.75 289.75h1M118.75 289.75h32.5M152.75 289.75h1M154.75 289.75h1M155.75 289.75h1M156.75 289.75h1.5M110.75 290.25h1M114.25 290.25h2.5M116.75 290.25h33.5M150.25 290.25h1.5M152.75 290.25h2.5M157.25 290.25h1M158.25 290.25h1M159.25 290.25h1.5M112.75 290.75h1M113.75 290.75h1M115.25 290.75h2M117.25 290.75h5M122.25 290.75h27.5M150.75 290.75h1M153.75 290.75h1M155.25 290.75h1M158.75 290.75h1M110.25 291.25h1M113.25 291.25h1M114.75 291.25h2M117.75 291.25h2M119.75 291.25h23.5M143.25 291.25h4M147.25 291.25h1M148.25 291.25h1M149.75 291.25h1M151.25 291.25h2M155.25 291.25h1.5M158.75 291.25h1M111.25 291.75h1.5M114.25 291.75h2.5M116.75 291.75h29M145.75 291.75h1.5M148.75 291.75h2M151.25 291.75h1M152.75 291.75h1M154.75 291.75h1.5M156.25 291.75h1M106.25 292.25h1M109.75 292.25h1M112.25 292.25h33M145.25 292.25h2.5M148.25 292.25h1M149.25 292.25h2.5M151.75 292.25h1.5M153.75 292.25h1M154.75 292.25h1M107.25 292.75h1M109.75 292.75h1M110.75 292.75h1M111.75 292.75h3M114.75 292.75h32M146.75 292.75h1M147.75 292.75h1M149.25 292.75h2M152.75 292.75h2.5M155.25 292.75h1M156.75 292.75h1M108.75 293.25h1M109.75 293.25h1M110.75 293.25h2M112.75 293.25h1M113.75 293.25h32M145.75 293.25h1M147.25 293.25h1M148.25 293.25h1M106.25 293.75h1M107.25 293.75h1M108.25 293.75h1M110.25 293.75h1.5M111.75 293.75h32.5M144.25 293.75h3M147.25 293.75h2M149.25 293.75h1M151.25 293.75h1M152.25 293.75h2M154.25 293.75h1.5M104.25 294.25h1.5M105.75 294.25h1M107.75 294.25h1M108.75 294.25h2M110.75 294.25h32.5M144.25 294.25h1M145.25 294.25h1M146.25 294.25h1M147.25 294.25h1M148.25 294.25h1.5M149.75 294.25h1M151.25 294.25h1M154.25 294.25h1M102.25 294.75h1M104.75 294.75h1M105.75 294.75h1M106.75 294.75h1M108.25 294.75h36.5M144.75 294.75h3M147.75 294.75h1M149.75 294.75h1M150.75 294.75h1M152.25 294.75h2M100.75 295.25h1M101.75 295.25h1M104.75 295.25h1M106.25 295.25h1.5M107.75 295.25h36M143.75 295.25h2.5M146.75 295.25h1M147.75 295.25h2.5M152.75 295.25h1M98.75 295.75h1M102.25 295.75h1M103.75 295.75h1.5M105.75 295.75h1.5M107.25 295.75h2M109.25 295.75h34M143.75 295.75h2M146.75 295.75h1.5M149.75 295.75h1M151.75 295.75h1M101.25 296.25h1M102.25 296.25h1.5M104.75 296.25h1.5M106.75 296.25h32M138.75 296.25h2.5M141.25 296.25h1.5M142.75 296.25h2M144.75 296.25h1.5M146.25 296.25h1M147.75 296.25h1M152.75 296.25h1M100.75 296.75h1.5M102.25 296.75h1M103.75 296.75h1M105.75 296.75h35.5M141.25 296.75h1.5M142.75 296.75h1M143.75 296.75h1.5M145.25 296.75h1M147.25 296.75h1M148.25 296.75h1M150.75 296.75h1M96.25 297.25h1M99.25 297.25h1M102.25 297.25h1.5M103.75 297.25h1M105.25 297.25h34M139.25 297.25h2M141.25 297.25h1M142.25 297.25h1M143.25 297.25h1M144.25 297.25h1M145.75 297.25h1.5M149.75 297.25h1M150.75 297.25h1M91.75 297.75h1M98.75 297.75h1.5M101.75 297.75h1M103.25 297.75h1M104.25 297.75h1M105.25 297.75h1M106.25 297.75h31M137.25 297.75h2.5M139.75 297.75h1M140.75 297.75h1.5M142.25 297.75h1.5M143.75 297.75h3.5M147.25 297.75h1.5M149.75 297.75h1M151.75 297.75h1M96.75 298.25h1M98.75 298.25h1M99.75 298.25h2.5M102.75 298.25h38M141.25 298.25h1M142.25 298.25h2M145.75 298.25h1M146.75 298.25h1M95.25 298.75h1M96.25 298.75h1M97.25 298.75h1.5M98.75 298.75h1M100.25 298.75h1M101.75 298.75h36.5M138.75 298.75h2.5M141.25 298.75h2M143.25 298.75h1M144.25 298.75h1.5M146.75 298.75h1M148.75 298.75h1M151.25 298.75h1M94.25 299.25h1M97.25 299.25h1M98.25 299.25h1M99.25 299.25h36.5M135.75 299.25h1.5M137.25 299.25h2M139.75 299.25h1.5M141.25 299.25h2.5M144.75 299.25h1.5M146.25 299.25h1M147.25 299.25h1.5M149.25 299.25h1.5M95.25 299.75h1.5M97.75 299.75h5M102.75 299.75h35.5M138.25 299.75h2M143.75 299.75h1M146.25 299.75h1M148.25 299.75h1M93.75 300.25h1M94.75 300.25h1M96.25 300.25h1M98.25 300.25h1.5M99.75 300.25h35M134.75 300.25h3.5M138.25 300.25h2M141.25 300.25h1.5M146.75 300.25h2M91.75 300.75h1.5M93.75 300.75h1M95.25 300.75h4M99.25 300.75h36.5M135.75 300.75h1M136.75 300.75h1M137.75 300.75h2M139.75 300.75h3.5M143.25 300.75h1M145.25 300.75h1M148.25 300.75h1M91.25 301.25h1M92.25 301.25h1.5M94.25 301.25h1M96.25 301.25h2M98.25 301.25h34M132.25 301.25h4.5M136.75 301.25h1.5M138.75 301.25h1M140.25 301.25h3.5M143.75 301.25h1M145.75 301.25h1M93.25 301.75h2M95.25 301.75h1M96.25 301.75h2.5M98.75 301.75h35.5M134.75 301.75h2M137.25 301.75h3M140.25 301.75h1M141.25 301.75h1M142.25 301.75h1.5M88.75 302.25h1M92.75 302.25h1.5M94.25 302.25h40M134.25 302.25h2M136.25 302.25h1M137.25 302.25h1M138.25 302.25h2M140.25 302.25h1.5M142.75 302.25h1M148.25 302.25h1M90.75 302.75h1M91.75 302.75h2.5M94.25 302.75h38M132.25 302.75h4.5M136.75 302.75h1.5M138.25 302.75h1M139.25 302.75h1M141.25 302.75h1.5M89.25 303.25h1M90.75 303.25h1M92.25 303.25h41.5M134.25 303.25h1M135.25 303.25h1.5M136.75 303.25h2M139.25 303.25h2M141.25 303.25h1.5M142.75 303.25h1M87.75 303.75h45.5M133.25 303.75h3.5M136.75 303.75h2.5M141.75 303.75h1M74.75 304.25h1M87.75 304.25h1.5M90.25 304.25h2M93.25 304.25h37.5M130.75 304.25h2M135.25 304.25h1M136.25 304.25h1M138.25 304.25h1M140.75 304.25h1M143.75 304.25h1M144.75 304.25h1M84.25 304.75h1M85.25 304.75h1M87.75 304.75h1M90.25 304.75h1M91.25 304.75h37M128.25 304.75h3M131.75 304.75h3.5M135.75 304.75h2M137.75 304.75h1.5M141.75 304.75h1.5M82.25 305.25h1M83.25 305.25h1M86.75 305.25h1M87.75 305.25h41.5M129.75 305.25h1M130.75 305.25h1M131.75 305.25h1M132.75 305.25h1.5M134.25 305.25h1M135.25 305.25h2.5M139.75 305.25h1M142.75 305.25h1M78.25 305.75h1M85.25 305.75h40.5M125.75 305.75h2.5M128.25 305.75h1.5M129.75 305.75h1M130.75 305.75h1M131.75 305.75h4M136.25 305.75h1M137.75 305.75h1M138.75 305.75h1M142.75 305.75h1.5M79.25 306.25h2M83.75 306.25h1M86.75 306.25h1M87.75 306.25h33.5M121.25 306.25h2.5M123.75 306.25h2M126.25 306.25h2.5M128.75 306.25h3.5M132.25 306.25h1M134.25 306.25h1M135.75 306.25h1M137.75 306.25h1M139.25 306.25h1M140.25 306.25h1.5M81.25 306.75h1M82.75 306.75h4M86.75 306.75h3.5M90.25 306.75h39M129.75 306.75h2M134.75 306.75h1.5M138.25 306.75h1M140.75 306.75h1M142.25 306.75h1.5M71.25 307.25h1M80.25 307.25h1M81.25 307.25h1M83.25 307.25h2M85.25 307.25h44.5M130.75 307.25h2.5M133.75 307.25h1M136.25 307.25h1.5M140.25 307.25h1M78.25 307.75h1M80.75 307.75h1.5M82.75 307.75h39M121.75 307.75h3M126.75 307.75h1.5M128.25 307.75h2M130.75 307.75h1M132.25 307.75h1.5M134.75 307.75h1M135.75 307.75h1M136.75 307.75h1M138.25 307.75h1M141.75 307.75h1M78.75 308.25h1M80.25 308.25h1.5M82.25 308.25h1M83.25 308.25h2.5M85.75 308.25h36.5M122.25 308.25h3.5M127.25 308.25h2M130.75 308.25h2M132.75 308.25h1M133.75 308.25h2.5M136.25 308.25h1M77.75 308.75h2M79.75 308.75h1.5M81.75 308.75h40.5M122.25 308.75h2.5M125.75 308.75h1.5M128.25 308.75h2M130.75 308.75h1M131.75 308.75h1M133.25 308.75h1M71.75 309.25h1M77.25 309.25h1M78.75 309.25h2M80.75 309.25h40M120.75 309.25h1M121.75 309.25h4M125.75 309.25h1.5M127.75 309.25h1.5M129.75 309.25h1M134.25 309.25h1.5M136.75 309.25h1M138.75 309.25h1M73.75 309.75h1.5M75.25 309.75h1M77.25 309.75h1.5M78.75 309.75h1.5M80.25 309.75h41M121.25 309.75h1M123.75 309.75h2.5M126.25 309.75h1.5M127.75 309.75h1.5M132.25 309.75h1M133.25 309.75h1M134.25 309.75h1M135.25 309.75h1M137.75 309.75h1.5M74.75 310.25h1M76.25 310.25h1M78.75 310.25h43.5M122.25 310.25h1.5M123.75 310.25h2M125.75 310.25h1M127.25 310.25h1.5M128.75 310.25h1.5M131.25 310.25h1.5M133.25 310.25h1M134.25 310.25h1M138.75 310.25h1M67.75 310.75h1M73.25 310.75h1M74.25 310.75h1M75.75 310.75h2M78.25 310.75h42.5M120.75 310.75h1M122.25 310.75h1M123.25 310.75h1M124.25 310.75h2M126.25 310.75h1.5M127.75 310.75h1M129.25 310.75h1M131.25 310.75h1M133.75 310.75h1.5M69.25 311.25h1M72.75 311.25h1M74.25 311.25h1.5M76.25 311.25h1M77.75 311.25h36M113.75 311.25h5M118.75 311.25h3.5M122.25 311.25h1M123.25 311.25h2M125.25 311.25h1.5M127.25 311.25h1.5M129.25 311.25h1M131.25 311.25h1.5M133.75 311.25h1.5M67.25 311.75h1M72.25 311.75h1M76.75 311.75h40.5M117.25 311.75h3M120.25 311.75h1M121.25 311.75h1M124.25 311.75h3M127.25 311.75h1.5M128.75 311.75h1.5M130.75 311.75h1M132.75 311.75h1M135.25 311.75h1M136.75 311.75h1M70.75 312.25h1.5M72.75 312.25h2.5M75.25 312.25h42.5M117.75 312.25h1M118.75 312.25h1M120.75 312.25h3.5M124.25 312.25h2M126.25 312.25h1.5M128.25 312.25h1M132.25 312.25h1M135.25 312.25h1M52.25 312.75h1M67.75 312.75h1M71.75 312.75h1.5M74.25 312.75h34M108.25 312.75h5M113.25 312.75h4M117.25 312.75h1M118.25 312.75h1.5M119.75 312.75h2M122.25 312.75h4M126.25 312.75h1.5M128.25 312.75h1.5M130.25 312.75h1M131.25 312.75h1.5M65.25 313.25h1.5M69.75 313.25h1M70.75 313.25h3.5M74.25 313.25h43M117.25 313.25h1M118.25 313.25h1M119.75 313.25h2M121.75 313.25h1.5M124.25 313.25h1M125.75 313.25h1M129.25 313.25h2M132.75 313.25h1.5M66.75 313.75h1M68.25 313.75h2M70.25 313.75h1M71.75 313.75h1M72.75 313.75h40M112.75 313.75h3M116.25 313.75h1M118.25 313.75h1M119.25 313.75h1.5M120.75 313.75h2M122.75 313.75h3M125.75 313.75h1.5M127.75 313.75h2M130.25 313.75h1M131.25 313.75h1M132.25 313.75h1.5M59.75 314.25h1M64.75 314.25h1M67.25 314.25h1M68.75 314.25h1M70.25 314.25h1.5M72.25 314.25h41M113.25 314.25h3.5M116.75 314.25h3M119.75 314.25h2M121.75 314.25h3M125.25 314.25h1M127.75 314.25h1M130.25 314.25h1.5M132.25 314.25h1M63.75 314.75h1M64.75 314.75h1M66.75 314.75h2M68.75 314.75h1M69.75 314.75h2.5M72.25 314.75h40.5M114.75 314.75h1M116.25 314.75h1M118.25 314.75h2M120.25 314.75h1M121.25 314.75h1M122.25 314.75h3M126.25 314.75h1.5M128.25 314.75h1M130.75 314.75h1M131.75 314.75h1M55.25 315.25h1M63.75 315.25h1M64.75 315.25h1M65.75 315.25h46.5M112.75 315.25h1M113.75 315.25h2.5M116.25 315.25h3.5M121.75 315.25h1.5M123.25 315.25h1M124.75 315.25h1M125.75 315.25h2M130.75 315.25h1.5M132.75 315.25h1.5M62.75 315.75h1.5M66.75 315.75h1.5M68.25 315.75h1.5M69.75 315.75h39.5M109.75 315.75h3.5M113.25 315.75h2.5M115.75 315.75h1.5M117.25 315.75h1.5M120.75 315.75h1.5M123.25 315.75h1.5M126.75 315.75h1M130.25 315.75h1M133.25 315.75h1M59.25 316.25h1M65.25 316.25h2.5M67.75 316.25h1M68.75 316.25h36M104.75 316.25h4.5M109.25 316.25h1.5M110.75 316.25h1M111.75 316.25h1.5M113.75 316.25h4M117.75 316.25h2M120.25 316.25h1M121.75 316.25h2M123.75 316.25h1M126.25 316.25h1M132.75 316.25h1M62.25 316.75h1M63.75 316.75h1M64.75 316.75h44M108.75 316.75h1M109.75 316.75h1M111.25 316.75h2M113.75 316.75h2M117.25 316.75h1.5M118.75 316.75h1M120.25 316.75h1.5M122.75 316.75h2.5M125.25 316.75h2.5M53.75 317.25h1M60.25 317.25h1M61.25 317.25h1M62.75 317.25h1M64.75 317.25h42M106.75 317.25h3M110.25 317.25h2.5M112.75 317.25h1M113.75 317.25h1.5M115.25 317.25h1.5M118.25 317.25h1M119.75 317.25h2M121.75 317.25h1M124.75 317.25h1M128.75 317.25h1M129.75 317.25h1M54.75 317.75h1M58.25 317.75h2M60.25 317.75h1M61.25 317.75h1M62.25 317.75h1M64.25 317.75h4M68.25 317.75h40M108.75 317.75h1.5M110.25 317.75h3M113.25 317.75h1.5M114.75 317.75h1M115.75 317.75h1M116.75 317.75h1M118.25 317.75h1M120.75 317.75h1M122.75 317.75h1.5M125.75 317.75h1M126.75 317.75h1M128.75 317.75h1M50.75 318.25h1M55.75 318.25h1M58.25 318.25h1M59.75 318.25h1M61.25 318.25h1M62.75 318.25h1M63.75 318.25h1M64.75 318.25h39.5M104.25 318.25h2M106.25 318.25h2.5M108.75 318.25h1.5M110.25 318.25h1.5M111.75 318.25h1M112.75 318.25h2M116.25 318.25h1M119.25 318.25h1M120.25 318.25h1M122.25 318.25h1.5M124.75 318.25h1M126.75 318.25h1.5M54.25 318.75h1M56.75 318.75h1M57.75 318.75h3M60.75 318.75h3.5M64.25 318.75h43.5M107.75 318.75h1M109.25 318.75h2.5M113.75 318.75h2.5M117.75 318.75h1M118.75 318.75h1M119.75 318.75h1M120.75 318.75h1M124.25 318.75h1M125.25 318.75h1M127.25 318.75h1M128.75 318.75h1M55.25 319.25h1.5M57.75 319.25h1M58.75 319.25h2M60.75 319.25h46.5M108.75 319.25h1.5M110.25 319.25h3M113.25 319.25h1M114.25 319.25h1M116.25 319.25h1M118.25 319.25h1M123.75 319.25h1M125.25 319.25h1M52.75 319.75h1.5M56.25 319.75h2M58.75 319.75h2M61.25 319.75h44M105.25 319.75h1M106.25 319.75h1M107.75 319.75h1.5M109.25 319.75h2M112.75 319.75h1M113.75 319.75h2M115.75 319.75h1M116.75 319.75h1M117.75 319.75h1M118.75 319.75h1M119.75 319.75h1M121.25 319.75h1.5M123.75 319.75h1.5M125.75 319.75h1M126.75 319.75h1.5M50.75 320.25h1M53.25 320.25h1M55.25 320.25h1M56.25 320.25h3M59.25 320.25h44M103.25 320.25h2M105.25 320.25h1M106.25 320.25h3M112.25 320.25h1.5M114.75 320.25h1.5M116.25 320.25h1M117.25 320.25h1M118.75 320.25h1M124.25 320.25h1M54.75 320.75h2M56.75 320.75h3.5M60.25 320.75h44M104.25 320.75h1M105.25 320.75h3.5M108.75 320.75h1.5M110.25 320.75h2.5M114.25 320.75h1M117.75 320.75h1M119.75 320.75h1M121.75 320.75h1.5M50.75 321.25h1M52.25 321.25h1M53.25 321.25h2M56.25 321.25h1M57.25 321.25h42.5M99.75 321.25h2.5M102.25 321.25h1.5M103.75 321.25h1M105.25 321.25h3.5M108.75 321.25h1M109.75 321.25h1M110.75 321.25h2M112.75 321.25h1M113.75 321.25h1M116.75 321.25h1M118.75 321.25h1M119.75 321.25h1.5M123.75 321.25h1M51.25 321.75h3.5M54.75 321.75h1.5M56.25 321.75h47M106.25 321.75h1.5M108.25 321.75h1M109.25 321.75h1M110.25 321.75h3.5M113.75 321.75h2M118.25 321.75h1.5M51.75 322.25h1M53.25 322.25h1.5M54.75 322.25h1.5M56.25 322.25h1M57.25 322.25h45M102.75 322.25h1M104.25 322.25h3.5M107.75 322.25h1.5M110.25 322.25h1M115.75 322.25h1M117.25 322.25h1M121.75 322.25h1M123.25 322.25h1M52.25 322.75h46M98.75 322.75h1.5M100.25 322.75h2M102.25 322.75h1.5M103.75 322.75h3.5M107.25 322.75h1M108.25 322.75h3.5M111.75 322.75h1.5M113.25 322.75h1M117.25 322.75h1M118.25 322.75h1M119.75 322.75h1M122.25 322.75h1M51.75 323.25h1M52.75 323.25h50.5M103.25 323.25h1.5M105.25 323.25h1M106.75 323.25h1M107.75 323.25h1M109.25 323.25h1M112.75 323.25h1M113.75 323.25h1M50.75 323.75h1M51.75 323.75h2.5M54.25 323.75h38.5M92.75 323.75h7M99.75 323.75h3M103.25 323.75h4M108.75 323.75h1.5M111.25 323.75h1.5M112.75 323.75h1M117.25 323.75h1M118.75 323.75h1.5M121.25 323.75h1M50.75 324.25h4.5M55.25 324.25h44M99.25 324.25h1.5M100.75 324.25h1M102.75 324.25h2M104.75 324.25h1M107.25 324.25h1.5M108.75 324.25h1.5M111.25 324.25h1M112.75 324.25h1M113.75 324.25h1M116.25 324.25h1M117.75 324.25h1.5M119.25 324.25h1M120.25 324.25h1M50.75 324.75h2M52.75 324.75h47M99.75 324.75h1.5M101.25 324.75h1.5M103.25 324.75h4M111.25 324.75h1M112.75 324.75h1M118.75 324.75h1M51.25 325.25h49.5M102.25 325.25h1.5M105.25 325.25h1M106.25 325.25h1M107.25 325.25h1M110.25 325.25h1.5M116.75 325.25h1.5M50.75 325.75h41.5M92.25 325.75h6M98.25 325.75h1.5M99.75 325.75h1.5M102.75 325.75h1M106.75 325.75h1M108.75 325.75h1M109.75 325.75h1M110.75 325.75h1M113.25 325.75h1M50.75 326.25h43.5M94.25 326.25h1.5M95.75 326.25h1.5M97.25 326.25h1.5M98.75 326.25h1.5M100.25 326.25h1.5M103.25 326.25h1.5M106.25 326.25h1M110.75 326.25h1M112.75 326.25h1M50.75 326.75h39M89.75 326.75h6M95.75 326.75h2M98.25 326.75h2.5M100.75 326.75h2M103.75 326.75h1.5M105.75 326.75h1M108.25 326.75h1M109.25 326.75h1.5M111.25 326.75h2M115.25 326.75h1M50.75 327.25h41.5M92.25 327.25h2M94.25 327.25h1.5M97.25 327.25h3M100.75 327.25h1M102.25 327.25h1.5M105.75 327.25h1.5M108.75 327.25h1M110.25 327.25h1M111.25 327.25h1M114.75 327.25h1M50.75 327.75h43M94.25 327.75h1.5M95.75 327.75h1.5M97.25 327.75h1M98.25 327.75h1.5M100.25 327.75h1M103.25 327.75h1M104.25 327.75h1.5M105.75 327.75h1.5M108.25 327.75h1M113.75 327.75h1M50.75 328.25h40M90.75 328.25h3.5M95.25 328.25h1M96.25 328.25h2M98.25 328.25h3.5M101.75 328.25h2M103.75 328.25h1.5M105.75 328.25h1.5M107.25 328.25h1M109.25 328.25h1M110.75 328.25h1M50.75 328.75h39M89.75 328.75h1M90.75 328.75h2.5M93.25 328.75h1M95.25 328.75h1M96.75 328.75h1M97.75 328.75h1.5M101.25 328.75h1.5M102.75 328.75h1M105.75 328.75h1M106.75 328.75h1M109.25 328.75h1M50.75 329.25h37.5M88.25 329.25h3M92.25 329.25h2M94.25 329.25h1M95.25 329.25h1M96.25 329.25h1M97.25 329.25h1M98.25 329.25h2.5M100.75 329.25h1M103.75 329.25h1M106.25 329.25h1M107.75 329.25h1.5M50.75 329.75h40.5M91.25 329.75h3M94.25 329.75h2M96.25 329.75h1M97.25 329.75h3M100.25 329.75h1M102.25 329.75h2M104.75 329.75h1.5M106.75 329.75h1M107.75 329.75h1M50.75 330.25h39.5M91.25 330.25h1M92.75 330.25h1M93.75 330.25h1M94.75 330.25h1M95.75 330.25h1.5M97.75 330.25h1.5M99.25 330.25h1M103.75 330.25h1M106.25 330.25h1M107.25 330.25h1M50.75 330.75h37.5M88.25 330.75h2M91.25 330.75h2.5M94.75 330.75h1M95.75 330.75h2M97.75 330.75h2.5M100.25 330.75h1M103.25 330.75h1M104.25 330.75h1M108.75 330.75h1M50.75 331.25h33M83.75 331.25h1.5M85.25 331.25h3.5M89.25 331.25h1.5M90.75 331.25h1M92.25 331.25h2.5M95.25 331.25h2M97.25 331.25h1M99.25 331.25h1M101.75 331.25h1M105.25 331.25h1M50.75 331.75h32.5M83.25 331.75h3.5M86.75 331.75h1.5M88.25 331.75h1M89.75 331.75h1.5M91.75 331.75h2.5M94.25 331.75h1M96.75 331.75h1.5M98.25 331.75h1M100.25 331.75h3.5M106.75 331.75h1M50.75 332.25h35M85.75 332.25h2M87.75 332.25h1M89.25 332.25h1M90.25 332.25h1.5M91.75 332.25h1M92.75 332.25h2M94.75 332.25h3M97.75 332.25h1M99.75 332.25h1M101.25 332.25h1M103.25 332.25h1M50.75 332.75h31M81.75 332.75h2M83.75 332.75h2.5M86.25 332.75h2.5M89.25 332.75h1M91.25 332.75h1M93.25 332.75h1.5M94.75 332.75h1.5M98.25 332.75h1M100.75 332.75h2M104.25 332.75h1M50.75 333.25h29M79.75 333.25h5.5M85.25 333.25h1M86.25 333.25h1M87.75 333.25h1M88.75 333.25h2M91.25 333.25h1M92.75 333.25h1M93.75 333.25h1.5M95.25 333.25h2M97.75 333.25h1M103.25 333.25h1M50.75 333.75h30M81.25 333.75h1M82.25 333.75h3.5M85.75 333.75h3.5M89.75 333.75h1M91.75 333.75h1M92.75 333.75h1.5M94.75 333.75h1M96.25 333.75h3M99.75 333.75h1M100.75 333.75h1M102.75 333.75h1M50.75 334.25h31.5M82.25 334.25h2M84.25 334.25h1M85.75 334.25h1M88.25 334.25h1M89.25 334.25h2M91.25 334.25h1M94.25 334.25h2M96.25 334.25h1M97.75 334.25h1.5M100.25 334.25h1M101.75 334.25h1M104.75 334.25h1M50.75 334.75h28M78.75 334.75h4.5M83.25 334.75h1M84.25 334.75h4.5M89.75 334.75h1M91.75 334.75h2M94.25 334.75h1M96.25 334.75h1M50.75 335.25h30.5M81.25 335.25h3.5M84.75 335.25h1.5M86.25 335.25h2M88.75 335.25h1M89.75 335.25h1.5M92.75 335.25h1.5M98.25 335.25h1.5M103.75 335.25h1M50.75 335.75h28M79.75 335.75h1.5M81.75 335.75h3M84.75 335.75h2.5M87.75 335.75h1M89.75 335.75h1M90.75 335.75h1.5M93.75 335.75h1M95.25 335.75h1.5M98.25 335.75h1M100.25 335.75h1M50.75 336.25h26.5M77.25 336.25h2.5M79.75 336.25h1M80.75 336.25h1.5M82.75 336.25h1M83.75 336.25h1.5M85.25 336.25h1.5M87.25 336.25h1M89.75 336.25h1M91.25 336.25h2M94.75 336.25h1.5M97.75 336.25h1M100.75 336.25h1M50.75 336.75h27M77.75 336.75h2.5M80.25 336.75h2M82.75 336.75h1M83.75 336.75h1M85.25 336.75h1M87.25 336.75h1M88.75 336.75h1.5M91.75 336.75h1M93.75 336.75h1M96.75 336.75h1M99.25 336.75h1.5M50.75 337.25h28M78.75 337.25h4M82.75 337.25h1M84.25 337.25h1M85.75 337.25h1M86.75 337.25h1M88.25 337.25h1M89.25 337.25h1M90.25 337.25h1M93.25 337.25h1M95.25 337.25h1M50.75 337.75h25.5M76.25 337.75h1.5M77.75 337.75h2M79.75 337.75h2M81.75 337.75h1M82.75 337.75h1M83.75 337.75h1M84.75 337.75h1M85.75 337.75h1M88.25 337.75h1.5M91.75 337.75h1.5M95.25 337.75h1M50.75 338.25h21M71.75 338.25h2M73.75 338.25h1M74.75 338.25h1M76.25 338.25h3.5M79.75 338.25h1M80.75 338.25h1.5M82.75 338.25h3.5M87.25 338.25h1M88.25 338.25h1.5M92.25 338.25h1M94.25 338.25h1M50.75 338.75h24.5M75.75 338.75h1.5M77.25 338.75h1M78.75 338.75h1M79.75 338.75h1M80.75 338.75h1.5M83.75 338.75h2M86.25 338.75h1M87.25 338.75h1M89.75 338.75h1M91.75 338.75h1M92.75 338.75h1M94.75 338.75h1M50.75 339.25h19.5M70.25 339.25h3.5M73.75 339.25h1.5M75.25 339.25h3.5M79.75 339.25h1M81.75 339.25h1M82.75 339.25h1M84.25 339.25h1M85.25 339.25h1.5M86.75 339.25h1.5M88.75 339.25h1M90.25 339.25h1M93.75 339.25h1M50.75 339.75h21.5M72.25 339.75h2M74.75 339.75h2.5M77.25 339.75h1.5M79.25 339.75h3M83.25 339.75h1M84.25 339.75h1M85.75 339.75h2.5M88.75 339.75h1.5M90.25 339.75h1M91.75 339.75h1M50.75 340.25h19M69.75 340.25h2M71.75 340.25h6.5M78.75 340.25h2M80.75 340.25h1M82.75 340.25h2.5M86.75 340.25h1.5M89.75 340.25h1M90.75 340.25h1M50.75 340.75h22.5M73.75 340.75h3M76.75 340.75h1M77.75 340.75h1M78.75 340.75h2M80.75 340.75h1.5M82.25 340.75h1M83.75 340.75h3.5M87.25 340.75h1.5M50.75 341.25h19.5M70.25 341.25h1M71.25 341.25h3.5M74.75 341.25h1M75.75 341.25h1.5M77.25 341.25h1M79.75 341.25h1.5M81.75 341.25h1M83.25 341.25h1M85.75 341.25h1M50.75 341.75h19M71.75 341.75h2M73.75 341.75h2M76.25 341.75h1M77.25 341.75h1.5M82.75 341.75h1M84.75 341.75h1M90.25 341.75h1M50.75 342.25h17.5M68.25 342.25h3M71.75 342.25h1.5M73.75 342.25h2M77.75 342.25h1M79.75 342.25h1M81.25 342.25h1M82.25 342.25h1.5M83.75 342.25h1M84.75 342.25h1M85.75 342.25h1.5M50.75 342.75h10.5M61.75 342.75h5M66.75 342.75h2.5M69.25 342.75h3.5M72.75 342.75h1M73.75 342.75h1.5M75.75 342.75h1.5M77.25 342.75h2M80.25 342.75h1M82.25 342.75h1M83.25 342.75h1M85.75 342.75h1M91.25 342.75h1M50.75 343.25h12.5M63.25 343.25h4M67.25 343.25h3.5M70.75 343.25h1M71.75 343.25h1M73.25 343.25h1M74.25 343.25h1M75.25 343.25h1.5M76.75 343.25h1M77.75 343.25h2M80.25 343.25h1.5M82.25 343.25h1M83.75 343.25h1M87.75 343.25h1M50.75 343.75h14.5M65.25 343.75h1M66.25 343.75h1M67.25 343.75h2.5M70.25 343.75h2M72.25 343.75h1M73.25 343.75h1M75.25 343.75h1M76.25 343.75h1M78.25 343.75h1M81.25 343.75h2.5M84.25 343.75h1M86.25 343.75h1.5M50.75 344.25h15M65.75 344.25h1M66.75 344.25h2M68.75 344.25h1M70.25 344.25h2.5M72.75 344.25h1.5M74.75 344.25h1M75.75 344.25h1.5M78.25 344.25h1M79.25 344.25h1M83.25 344.25h1M84.75 344.25h1.5M50.75 344.75h13.5M64.25 344.75h5.5M69.75 344.75h1.5M72.75 344.75h1M73.75 344.75h1M74.75 344.75h1M77.25 344.75h1M85.25 344.75h1.5M89.25 344.75h1M50.75 345.25h11.5M62.25 345.25h1M63.75 345.25h1M64.75 345.25h2.5M67.25 345.25h2.5M70.25 345.25h1M71.75 345.25h1M72.75 345.25h1.5M74.75 345.25h3M77.75 345.25h1M78.75 345.25h2M80.75 345.25h1.5M83.25 345.25h1M85.25 345.25h1.5M50.75 345.75h6M56.75 345.75h6.5M63.25 345.75h1M65.25 345.75h1M68.25 345.75h1M70.75 345.75h1M73.25 345.75h2M75.25 345.75h1M76.75 345.75h1M78.25 345.75h1M79.75 345.75h1M82.25 345.75h1M84.25 345.75h1M85.75 345.75h1M50.75 346.25h8M58.75 346.25h3.5M63.75 346.25h1M64.75 346.25h1M66.75 346.25h1.5M68.25 346.25h1.5M71.75 346.25h1M72.75 346.25h1M77.25 346.25h1M80.75 346.25h1M82.25 346.25h1M83.25 346.25h1.5M85.25 346.25h1M50.75 346.75h7.5M58.25 346.75h6.5M64.75 346.75h2.5M67.25 346.75h1.5M69.25 346.75h1M71.25 346.75h1M73.25 346.75h1M74.25 346.75h1M75.75 346.75h1.5M78.25 346.75h1.5M80.75 346.75h1M50.75 347.25h6.5M57.25 347.25h2M59.75 347.25h1M61.25 347.25h1M62.25 347.25h1.5M63.75 347.25h1.5M67.75 347.25h1M69.25 347.25h1M70.25 347.25h1.5M71.75 347.25h1M74.25 347.25h1M76.25 347.25h1.5M77.75 347.25h1M79.25 347.25h1M80.25 347.25h1M50.75 347.75h7.5M58.25 347.75h1.5M60.75 347.75h1.5M63.75 347.75h1M65.25 347.75h1M67.25 347.75h1M68.75 347.75h1M69.75 347.75h1M71.25 347.75h1M73.75 347.75h1M76.25 347.75h1M77.25 347.75h1M79.75 347.75h1M81.25 347.75h1M50.75 348.25h6.5M57.25 348.25h2M59.25 348.25h1.5M60.75 348.25h1M61.75 348.25h2.5M64.25 348.25h1M66.75 348.25h1.5M68.25 348.25h1.5M71.25 348.25h1.5M72.75 348.25h1M76.25 348.25h1M81.75 348.25h1M82.75 348.25h1M83.75 348.25h1M50.75 348.75h7M57.75 348.75h1M58.75 348.75h6M66.25 348.75h1M68.25 348.75h1M69.75 348.75h1M71.25 348.75h1M72.25 348.75h1M74.25 348.75h1M75.75 348.75h1M76.75 348.75h1.5M78.25 348.75h1M82.75 348.75h1M51.25 349.25h3M54.25 349.25h1.5M55.75 349.25h2M59.25 349.25h2M62.25 349.25h1M63.25 349.25h1.5M64.75 349.25h1M65.75 349.25h1M66.75 349.25h1M70.75 349.25h1M72.75 349.25h1M74.75 349.25h1M77.75 349.25h1M50.75 349.75h6M56.75 349.75h1M58.25 349.75h1M59.75 349.75h1M62.25 349.75h1M63.25 349.75h1.5M66.75 349.75h1M68.75 349.75h1.5M72.75 349.75h1M73.75 349.75h1M80.25 349.75h1M50.75 350.25h5M56.25 350.25h1.5M57.75 350.25h2M59.75 350.25h1.5M61.75 350.25h1M65.25 350.25h1M67.75 350.25h1M71.25 350.25h1M72.75 350.25h2M75.25 350.25h1M76.25 350.25h1M77.75 350.25h1M80.75 350.25h1M50.75 350.75h1M51.75 350.75h1.5M53.25 350.75h1M54.25 350.75h1M55.25 350.75h3M58.25 350.75h1M59.75 350.75h1M65.75 350.75h1.5M67.75 350.75h1M71.25 350.75h1M72.25 350.75h1M74.25 350.75h1M75.25 350.75h1M76.25 350.75h1M77.75 350.75h1M79.75 350.75h1M50.75 351.25h1M51.75 351.25h1.5M53.25 351.25h5M59.75 351.25h1M60.75 351.25h1M62.25 351.25h1M63.25 351.25h1.5M64.75 351.25h2.5M68.25 351.25h1M69.25 351.25h1M70.75 351.25h1.5M73.25 351.25h1M74.75 351.25h2M52.75 351.75h1M53.75 351.75h1M54.75 351.75h1M56.25 351.75h1.5M58.25 351.75h2.5M61.25 351.75h1M62.25 351.75h1M65.75 351.75h1.5M69.25 351.75h1M71.25 351.75h1M72.25 351.75h1M73.25 351.75h1M74.75 351.75h1M76.75 351.75h1M52.25 352.25h1.5M55.75 352.25h1M57.25 352.25h2M59.25 352.25h1.5M61.25 352.25h2M67.25 352.25h2M71.75 352.25h2.5M78.75 352.25h1M50.75 352.75h1.5M52.75 352.75h1M54.75 352.75h2M56.75 352.75h1.5M58.75 352.75h1M59.75 352.75h1.5M61.25 352.75h1M64.75 352.75h2M66.75 352.75h1M67.75 352.75h1M69.75 352.75h1M73.25 352.75h1.5M75.75 352.75h1M51.25 353.25h1M52.25 353.25h1.5M53.75 353.25h1M55.25 353.25h1M57.75 353.25h1M59.75 353.25h1.5M61.25 353.25h1M64.75 353.25h1M65.75 353.25h1.5M67.75 353.25h1.5M69.75 353.25h1M74.25 353.25h1M76.25 353.25h1M51.75 353.75h1.5M53.25 353.75h1M54.25 353.75h1M55.75 353.75h2.5M58.25 353.75h1M61.75 353.75h1.5M67.25 353.75h1M71.75 353.75h2M74.75 353.75h1M50.75 354.25h2.5M53.75 354.25h1.5M56.25 354.25h2.5M62.75 354.25h2M64.75 354.25h1.5M68.75 354.25h1M72.25 354.25h1.5M51.25 354.75h1.5M52.75 354.75h2M54.75 354.75h1M56.25 354.75h1M57.25 354.75h2M59.75 354.75h1M60.75 354.75h1.5M62.25 354.75h1M63.25 354.75h1M66.75 354.75h2M68.75 354.75h1M69.75 354.75h1M73.75 354.75h1M74.75 354.75h1M51.25 355.25h1.5M53.25 355.25h3M56.25 355.25h1M57.25 355.25h1M58.25 355.25h1.5M59.75 355.25h2M63.25 355.25h1.5M66.25 355.25h1M69.75 355.25h2.5M74.25 355.25h1M50.75 355.75h1M52.25 355.75h1M53.25 355.75h1.5M54.75 355.75h2M61.25 355.75h1.5M62.75 355.75h1M65.75 355.75h1M67.25 355.75h1.5M69.25 355.75h1M70.25 355.75h1M73.75 355.75h1M52.75 356.25h2M55.25 356.25h2M58.25 356.25h1M59.25 356.25h1M60.25 356.25h1M62.25 356.25h2.5M65.25 356.25h1M67.25 356.25h1M69.25 356.25h1M71.75 356.25h1M51.25 356.75h4.5M57.75 356.75h3.5M62.25 356.75h1M64.75 356.75h1M68.25 356.75h1M69.25 356.75h1M71.25 356.75h2M50.75 357.25h1M52.25 357.25h1.5M55.25 357.25h1M60.75 357.25h1M62.25 357.25h1M63.25 357.25h1.5M64.75 357.25h1.5M66.25 357.25h1.5M70.25 357.25h1M52.75 357.75h1M53.75 357.75h1M54.75 357.75h1M56.75 357.75h1M57.75 357.75h1M59.25 357.75h1M61.25 357.75h1M62.25 357.75h1M64.25 357.75h1.5M66.25 357.75h1M68.75 357.75h1M70.25 357.75h1M53.75 358.25h1M54.75 358.25h1.5M56.75 358.25h1M58.75 358.25h1.5M60.25 358.25h1M62.25 358.25h1M50.75 358.75h1M52.25 358.75h1.5M54.75 358.75h1.5M58.25 358.75h1M59.25 358.75h1M63.25 358.75h2M66.25 358.75h1M68.75 358.75h1M51.25 359.25h1M53.25 359.25h2M55.25 359.25h1.5M57.25 359.25h1M61.25 359.25h1M63.25 359.25h1M68.75 359.25h1M51.25 359.75h2M53.25 359.75h1M55.25 359.75h2M57.25 359.75h1M58.25 359.75h2M60.25 359.75h1M61.25 359.75h1M63.75 359.75h1M64.75 359.75h1M50.75 360.25h2M53.25 360.25h2M55.75 360.25h1M57.25 360.25h2M60.75 360.25h1M61.75 360.25h1M64.75 360.25h1M67.25 360.25h1M51.25 360.75h1M52.25 360.75h1M54.75 360.75h1M56.25 360.75h1.5M58.25 360.75h1M59.25 360.75h1M60.75 360.75h1M62.75 360.75h1M66.75 360.75h1M52.75 361.25h1M53.75 361.25h2M57.25 361.25h1M58.75 361.25h1M62.75 361.25h1M64.25 361.25h1M53.25 361.75h1M54.25 361.75h1.5M58.25 361.75h1M59.75 361.75h1M60.75 361.75h1M51.25 362.25h3.5M54.75 362.25h1M55.75 362.25h1M58.75 362.25h1M61.75 362.25h1M63.25 362.25h1M51.25 362.75h1M53.25 362.75h1M56.75 362.75h1.5M59.25 362.75h1M60.75 362.75h1M63.75 362.75h1M51.75 363.25h1M52.75 363.25h1M55.75 363.25h1M62.75 363.25h1M59.75 363.75h1M61.25 363.75h1M51.75 364.25h1M54.75 364.25h1M56.75 364.25h1M57.75 364.25h1M51.25 364.75h1M52.25 364.75h1M55.75 364.75h1M61.25 364.75h1M52.75 365.25h1M53.75 365.25h1.5M56.25 365.25h2M51.75 365.75h1M57.75 365.75h1M61.25 365.75h1M51.75 366.25h1.5M51.75 366.75h1M54.75 366.75h1M55.75 366.75h1M58.75 366.75h1" stroke="#000" stroke-width="1" fill="none" shape-rendering="auto"/>
<path d="M51.20 337.02L202.47 251.54" stroke="#d4d4d4" stroke-width=".8" fill="none"/>
<text x="48.40" y="222.30" text-anchor="end" font-size="7.5">1000.00</text><text x="48.40" y="250.38" text-anchor="end" font-size="7.5">100.00</text><text x="48.40" y="280.06" text-anchor="end" font-size="7.5">10.00</text><text x="48.40" y="309.74" text-anchor="end" font-size="7.5">1.00</text><text x="48.40" y="339.42" text-anchor="end" font-size="7.5">0.10</text><text x="48.40" y="366.90" text-anchor="end" font-size="7.5">0.01</text><text x="50.40" y="376.40" text-anchor="middle" font-size="7.5">0.1</text><text x="103.73" y="376.40" text-anchor="middle" font-size="7.5">1.0</text><text x="156.25" y="376.40" text-anchor="middle" font-size="7.5">10.0</text><text x="208.78" y="376.40" text-anchor="middle" font-size="7.5">100.0</text><text x="261.30" y="376.40" text-anchor="middle" font-size="7.5">1000.0</text><text x="156.25" y="385.30" text-anchor="middle" font-size="7.75">R (mm/h)</text><text x="156.25" y="214.10" text-anchor="middle" font-size="9.85">R(K<tspan font-size="6" dy="2">DP</tspan><tspan dy="-2">), C band</tspan></text><text transform="translate(14.10 292.50) rotate(-90)" text-anchor="middle" font-size="7.75">R(K<tspan font-size="5.2" dy="1.6">DP</tspan><tspan dy="-1.6">) (mm/h)</tspan></text>
<path d="M324.30 220.30H529.40M324.30 364.80H529.40M324.30 249.20H529.40M324.30 278.10H529.40M324.30 307.00H529.40M324.30 335.90H529.40" fill="none" stroke="#4c4c4c" stroke-width=".55"/><path d="M324.30 220.30V364.80M529.40 220.30V364.80M375.57 220.30V364.80M426.85 220.30V364.80M478.12 220.30V364.80" fill="none" stroke="#555" stroke-width=".6"/><path d="M339.74 364.80v-2.40M339.74 220.30v2.40M348.76 364.80v-2.40M348.76 220.30v2.40M355.17 364.80v-2.40M355.17 220.30v2.40M360.14 364.80v-2.40M360.14 220.30v2.40M364.20 364.80v-2.40M364.20 220.30v2.40M367.63 364.80v-2.40M367.63 220.30v2.40M370.61 364.80v-2.40M370.61 220.30v2.40M373.23 364.80v-2.40M373.23 220.30v2.40M391.01 364.80v-2.40M391.01 220.30v2.40M400.04 364.80v-2.40M400.04 220.30v2.40M406.45 364.80v-2.40M406.45 220.30v2.40M411.41 364.80v-2.40M411.41 220.30v2.40M415.47 364.80v-2.40M415.47 220.30v2.40M418.91 364.80v-2.40M418.91 220.30v2.40M421.88 364.80v-2.40M421.88 220.30v2.40M424.50 364.80v-2.40M424.50 220.30v2.40M442.29 364.80v-2.40M442.29 220.30v2.40M451.31 364.80v-2.40M451.31 220.30v2.40M457.72 364.80v-2.40M457.72 220.30v2.40M462.69 364.80v-2.40M462.69 220.30v2.40M466.75 364.80v-2.40M466.75 220.30v2.40M470.18 364.80v-2.40M470.18 220.30v2.40M473.16 364.80v-2.40M473.16 220.30v2.40M475.78 364.80v-2.40M475.78 220.30v2.40M493.56 364.80v-2.40M493.56 220.30v2.40M502.59 364.80v-2.40M502.59 220.30v2.40M509.00 364.80v-2.40M509.00 220.30v2.40M513.96 364.80v-2.40M513.96 220.30v2.40M518.02 364.80v-2.40M518.02 220.30v2.40M521.46 364.80v-2.40M521.46 220.30v2.40M524.43 364.80v-2.40M524.43 220.30v2.40M527.05 364.80v-2.40M527.05 220.30v2.40M324.30 356.10h3.00M529.40 356.10h-3.00M324.30 351.01h3.00M529.40 351.01h-3.00M324.30 347.40h3.00M529.40 347.40h-3.00M324.30 344.60h3.00M529.40 344.60h-3.00M324.30 342.31h3.00M529.40 342.31h-3.00M324.30 340.38h3.00M529.40 340.38h-3.00M324.30 338.70h3.00M529.40 338.70h-3.00M324.30 337.22h3.00M529.40 337.22h-3.00M324.30 327.20h3.00M529.40 327.20h-3.00M324.30 322.11h3.00M529.40 322.11h-3.00M324.30 318.50h3.00M529.40 318.50h-3.00M324.30 315.70h3.00M529.40 315.70h-3.00M324.30 313.41h3.00M529.40 313.41h-3.00M324.30 311.48h3.00M529.40 311.48h-3.00M324.30 309.80h3.00M529.40 309.80h-3.00M324.30 308.32h3.00M529.40 308.32h-3.00M324.30 298.30h3.00M529.40 298.30h-3.00M324.30 293.21h3.00M529.40 293.21h-3.00M324.30 289.60h3.00M529.40 289.60h-3.00M324.30 286.80h3.00M529.40 286.80h-3.00M324.30 284.51h3.00M529.40 284.51h-3.00M324.30 282.58h3.00M529.40 282.58h-3.00M324.30 280.90h3.00M529.40 280.90h-3.00M324.30 279.42h3.00M529.40 279.42h-3.00M324.30 269.40h3.00M529.40 269.40h-3.00M324.30 264.31h3.00M529.40 264.31h-3.00M324.30 260.70h3.00M529.40 260.70h-3.00M324.30 257.90h3.00M529.40 257.90h-3.00M324.30 255.61h3.00M529.40 255.61h-3.00M324.30 253.68h3.00M529.40 253.68h-3.00M324.30 252.00h3.00M529.40 252.00h-3.00M324.30 250.52h3.00M529.40 250.52h-3.00M324.30 240.50h3.00M529.40 240.50h-3.00M324.30 235.41h3.00M529.40 235.41h-3.00M324.30 231.80h3.00M529.40 231.80h-3.00M324.30 229.00h3.00M529.40 229.00h-3.00M324.30 226.71h3.00M529.40 226.71h-3.00M324.30 224.78h3.00M529.40 224.78h-3.00M324.30 223.10h3.00M529.40 223.10h-3.00M324.30 221.62h3.00M529.40 221.62h-3.00" fill="none" stroke="#555" stroke-width=".55"/>
<path d="M460.75 225.25h1M464.75 225.75h1M455.75 226.75h1M456.75 226.75h1M461.75 226.75h1M468.25 226.75h1M455.25 228.75h1M449.25 229.25h1M446.25 230.25h1M479.75 230.25h1M445.25 230.75h1M464.75 230.75h1M455.25 231.25h1M463.75 231.25h1M466.25 231.25h1M468.25 231.25h1M479.75 231.25h1M477.25 231.75h1M486.75 231.75h1M441.25 232.25h1M469.75 232.25h1M443.75 232.75h1M441.25 233.25h1M471.75 233.25h1M439.25 233.75h1M443.25 234.25h1M448.25 234.25h1M454.75 234.25h1M453.75 234.75h1M449.25 235.25h1M450.75 235.25h1M468.75 235.25h1M455.25 235.75h1M431.75 236.25h1M458.75 236.25h1M463.25 236.25h1M459.75 236.75h1M471.75 236.75h1M461.75 237.25h1M472.25 237.25h1M475.25 237.25h1M433.25 237.75h1M446.75 237.75h1M463.75 237.75h1M447.75 238.75h1M454.25 238.75h1M456.75 238.75h1M463.75 238.75h1M464.75 238.75h1M476.75 238.75h1M478.75 238.75h1M480.75 238.75h1M448.25 239.25h1M457.25 239.25h1M462.25 239.25h1M468.75 239.25h1M469.75 239.25h1M434.25 239.75h1M438.75 239.75h1M445.25 239.75h1M451.75 239.75h1M456.25 239.75h1M481.75 239.75h1M446.25 240.25h1M453.75 240.25h1M463.75 240.25h1M466.75 240.25h1.5M469.25 240.25h1M440.25 240.75h1M455.75 240.75h1M459.75 240.75h1M465.75 240.75h1M473.75 240.75h1M422.25 241.25h1M446.25 241.25h1M447.25 241.25h1M453.25 241.25h1M465.25 241.25h1M478.25 241.25h1M421.75 241.75h1M438.25 241.75h1M443.25 241.75h1M445.25 241.75h1.5M452.25 241.75h1M460.75 241.75h1M462.25 241.75h1M481.25 241.75h1M485.25 241.75h1M488.75 241.75h1M421.25 242.25h1M463.75 242.25h1M464.75 242.25h1M467.75 242.25h1M471.25 242.25h1M475.25 242.25h1M460.75 242.75h1M464.25 242.75h1M466.25 242.75h1M469.75 242.75h1M473.25 242.75h1M481.25 242.75h1.5M452.25 243.25h1M456.25 243.25h1M468.25 243.25h1M470.25 243.25h1M488.75 243.25h1M419.25 243.75h1M438.75 243.75h1M452.75 243.75h1.5M458.25 243.75h1M467.75 243.75h1M476.25 243.75h1M480.75 243.75h1M489.25 243.75h1M432.75 244.25h1M445.25 244.25h1M448.25 244.25h1M458.75 244.25h1M473.25 244.25h1M476.75 244.25h1M482.75 244.25h1.5M486.25 244.25h1M455.75 244.75h1M458.75 244.75h1M460.25 244.75h1M463.25 244.75h1M466.75 244.75h1M471.25 244.75h1M479.25 244.75h1M480.25 244.75h1M481.75 244.75h1M456.25 245.25h1M459.25 245.25h1M461.75 245.25h1M466.25 245.25h1M467.75 245.25h1M468.75 245.25h1M473.25 245.25h1M481.25 245.25h2M486.25 245.25h1M487.25 245.25h1M430.25 245.75h1M437.25 245.75h1M439.25 245.75h1M444.25 245.75h1M453.75 245.75h1M454.75 245.75h1M455.75 245.75h1M456.75 245.75h1M466.75 245.75h1M468.25 245.75h1M470.75 245.75h1.5M478.25 245.75h1.5M483.75 245.75h1M430.25 246.25h1M444.25 246.25h1M449.75 246.25h1.5M454.75 246.25h1M458.25 246.25h1M459.75 246.25h1M461.75 246.25h1.5M465.75 246.25h1M467.75 246.25h1M472.25 246.25h1M474.75 246.25h1.5M477.25 246.25h1M479.25 246.25h1M482.25 246.25h1M483.75 246.25h1M486.25 246.25h1M432.75 246.75h1M448.75 246.75h1M468.75 246.75h1M470.75 246.75h1M474.25 246.75h1M476.25 246.75h1M482.75 246.75h1M485.25 246.75h1M486.25 246.75h1M487.75 246.75h1M422.75 247.25h1M427.75 247.25h1.5M434.25 247.25h1M435.25 247.25h1M448.75 247.25h1M454.25 247.25h1M463.75 247.25h1M465.25 247.25h1M466.25 247.25h1M467.75 247.25h1M470.25 247.25h1M475.25 247.25h1M476.75 247.25h1M477.75 247.25h1.5M480.25 247.25h1M482.75 247.25h1M483.75 247.25h1.5M485.25 247.25h1M486.75 247.25h1M433.25 247.75h1M439.25 247.75h1M442.75 247.75h1M446.75 247.75h1M454.75 247.75h1M456.25 247.75h1M457.25 247.75h1M458.75 247.75h1M462.25 247.75h1M465.75 247.75h1M467.25 247.75h1M471.25 247.75h1M472.25 247.75h1M474.75 247.75h1M476.25 247.75h1M478.75 247.75h1M480.25 247.75h1.5M481.75 247.75h2M484.75 247.75h1M485.75 247.75h1M431.25 248.25h1M446.75 248.25h1M453.25 248.25h1M466.25 248.25h1M468.25 248.25h1M473.75 248.25h1.5M477.25 248.25h1M478.75 248.25h1M479.75 248.25h2M481.75 248.25h1M482.75 248.25h1M484.25 248.25h1M485.75 248.25h1M411.75 248.75h1M412.75 248.75h1M421.75 248.75h1M443.75 248.75h1M446.25 248.75h1M458.75 248.75h1M463.25 248.75h1M466.75 248.75h1.5M471.75 248.75h1M473.25 248.75h1M478.25 248.75h1M479.25 248.75h1.5M480.75 248.75h2.5M483.25 248.75h1.5M420.25 249.25h1M421.25 249.25h1M425.25 249.25h1M442.25 249.25h1M447.25 249.25h1M450.25 249.25h1.5M454.25 249.25h1M455.25 249.25h1M460.75 249.25h1M465.25 249.25h1M467.25 249.25h1M470.75 249.25h1M471.75 249.25h1M472.75 249.25h1M475.25 249.25h1M476.25 249.25h1M477.25 249.25h3.5M480.75 249.25h2M482.75 249.25h1M432.25 249.75h1M442.75 249.75h1.5M449.25 249.75h1M450.75 249.75h1M456.75 249.75h1.5M462.75 249.75h1M463.75 249.75h1M467.25 249.75h1.5M470.25 249.75h1.5M472.75 249.75h2M474.75 249.75h1M475.75 249.75h2M477.75 249.75h1M478.75 249.75h1M479.75 249.75h2M482.25 249.75h1M426.75 250.25h1M434.75 250.25h1.5M438.75 250.25h1M443.25 250.25h1M456.25 250.25h1M458.75 250.25h1M460.75 250.25h1M463.25 250.25h1M465.75 250.25h1M469.25 250.25h2.5M471.75 250.25h1M473.75 250.25h1.5M475.25 250.25h1M477.25 250.25h4.5M481.75 250.25h1M426.75 250.75h1M432.25 250.75h1M437.75 250.75h1M444.25 250.75h1M445.25 250.75h1M454.25 250.75h1M456.25 250.75h2M461.25 250.75h1.5M465.75 250.75h1.5M467.25 250.75h1M468.75 250.75h1M472.25 250.75h1M473.25 250.75h1M474.25 250.75h3.5M477.75 250.75h3.5M437.25 251.25h1.5M438.75 251.25h1.5M446.75 251.25h1M448.25 251.25h1M451.25 251.25h1M453.25 251.25h1M455.25 251.25h1M457.25 251.25h1.5M458.75 251.25h1M461.25 251.25h1M464.25 251.25h1M466.25 251.25h1.5M467.75 251.25h1M469.75 251.25h2.5M472.25 251.25h2M474.75 251.25h2.5M477.75 251.25h2M479.75 251.25h1M423.25 251.75h1M435.25 251.75h1M440.75 251.75h1M443.25 251.75h1M446.75 251.75h1M449.25 251.75h1M456.75 251.75h1M460.25 251.75h1M463.25 251.75h1M465.75 251.75h1.5M467.75 251.75h1M469.75 251.75h4M473.75 251.75h1M474.75 251.75h3M477.75 251.75h2M429.75 252.25h1M433.75 252.25h1M444.75 252.25h1M446.75 252.25h1M447.75 252.25h1.5M453.75 252.25h1M456.25 252.25h2M460.25 252.25h1M461.25 252.25h1M463.75 252.25h1M464.75 252.25h1M466.75 252.25h1.5M468.75 252.25h3M472.25 252.25h2.5M475.25 252.25h1.5M476.75 252.25h2M406.75 252.75h1M417.75 252.75h1M436.75 252.75h1M442.75 252.75h1M443.75 252.75h1M446.75 252.75h1M450.25 252.75h1M452.25 252.75h1M453.25 252.75h1M454.25 252.75h2M457.25 252.75h2M459.75 252.75h1M463.25 252.75h2.5M466.75 252.75h1M467.75 252.75h10M406.25 253.25h1M418.25 253.25h1M424.25 253.25h1M431.25 253.25h1M437.25 253.25h1M439.75 253.25h1M440.75 253.25h1M441.75 253.25h1M443.75 253.25h1M455.25 253.25h2.5M457.75 253.25h1M459.25 253.25h2.5M461.75 253.25h1.5M463.25 253.25h1.5M465.25 253.25h1.5M466.75 253.25h1.5M468.25 253.25h1M469.25 253.25h2M471.25 253.25h2.5M473.75 253.25h3.5M427.25 253.75h1M433.75 253.75h1.5M436.25 253.75h1M442.75 253.75h1M444.25 253.75h1M445.25 253.75h1M447.75 253.75h1.5M449.75 253.75h1M451.75 253.75h1M453.75 253.75h1.5M455.75 253.75h1M456.75 253.75h1M458.25 253.75h1M459.25 253.75h1M460.25 253.75h1M462.25 253.75h3M465.75 253.75h2M467.75 253.75h1M468.75 253.75h1M469.75 253.75h1M470.75 253.75h5M414.25 254.25h1M437.25 254.25h2M440.25 254.25h1M445.25 254.25h1M446.25 254.25h1M452.75 254.25h1M455.25 254.25h1M460.25 254.25h2M462.25 254.25h1M464.25 254.25h1.5M465.75 254.25h5M470.75 254.25h4.5M433.25 254.75h1M440.75 254.75h1.5M444.75 254.75h1M448.25 254.75h1.5M449.75 254.75h1M450.75 254.75h2M453.75 254.75h1M454.75 254.75h1.5M457.25 254.75h1M459.75 254.75h1M462.75 254.75h1.5M464.25 254.75h3M467.25 254.75h3M470.25 254.75h4.5M427.25 255.25h1M434.75 255.25h1M436.75 255.25h1M437.75 255.25h1M442.75 255.25h1M444.25 255.25h1.5M445.75 255.25h1M447.25 255.25h1M450.75 255.25h1M451.75 255.25h2.5M454.75 255.25h1M456.25 255.25h1M458.75 255.25h1M460.25 255.25h13M408.25 255.75h1M413.25 255.75h1M418.75 255.75h1.5M425.25 255.75h1M431.25 255.75h1M441.75 255.75h1.5M444.75 255.75h1M445.75 255.75h1M448.25 255.75h1M449.25 255.75h1M450.75 255.75h1M453.25 255.75h1M454.25 255.75h1M455.75 255.75h1M457.25 255.75h2.5M459.75 255.75h4.5M464.25 255.75h8.5M411.75 256.25h1M426.25 256.25h1M433.75 256.25h1M440.25 256.25h1M442.75 256.25h1M447.25 256.25h1M451.25 256.25h2M453.75 256.25h1M454.75 256.25h2M456.75 256.25h1M459.25 256.25h5.5M464.75 256.25h1.5M466.25 256.25h5.5M406.75 256.75h1M412.75 256.75h1M428.75 256.75h1.5M432.75 256.75h1M433.75 256.75h1M437.75 256.75h1M448.25 256.75h1M450.25 256.75h1M451.25 256.75h1M452.25 256.75h1M455.25 256.75h2M457.25 256.75h1.5M458.75 256.75h4.5M463.25 256.75h7M414.25 257.25h1M424.25 257.25h1M426.25 257.25h1M434.25 257.25h1M437.75 257.25h1M438.75 257.25h1M440.75 257.25h1.5M443.25 257.25h1M444.25 257.25h1M445.75 257.25h1M447.25 257.25h1M451.25 257.25h1M452.75 257.25h1.5M454.25 257.25h1M456.25 257.25h13.5M411.75 257.75h1M419.75 257.75h1M429.75 257.75h1.5M431.75 257.75h1.5M433.75 257.75h1M438.25 257.75h1M441.75 257.75h1.5M447.25 257.75h1M448.75 257.75h1M451.25 257.75h1M452.25 257.75h1M456.25 257.75h5.5M462.25 257.75h7M418.25 258.25h1M435.75 258.25h1M436.75 258.25h1.5M439.75 258.25h1M440.75 258.25h1M442.25 258.25h1M444.25 258.25h1M445.75 258.25h1M446.75 258.25h1M447.75 258.25h1M449.75 258.25h1M450.75 258.25h1M455.25 258.25h13M401.75 258.75h1M414.25 258.75h1M422.25 258.75h1M425.75 258.75h1.5M436.25 258.75h1M437.25 258.75h1.5M439.25 258.75h1M442.75 258.75h1M443.75 258.75h1M445.75 258.75h1M448.25 258.75h1M450.75 258.75h1M451.75 258.75h2M453.75 258.75h8M461.75 258.75h5M466.75 258.75h1M400.75 259.25h1M407.75 259.25h1M420.75 259.25h1M422.25 259.25h1M432.25 259.25h1M440.25 259.25h1.5M442.75 259.25h1.5M446.25 259.25h1M448.25 259.25h2.5M450.75 259.25h1M452.25 259.25h14.5M415.75 259.75h1M428.75 259.75h1M434.75 259.75h1M436.25 259.75h1M437.25 259.75h1.5M438.75 259.75h1M443.75 259.75h1M446.25 259.75h1M449.25 259.75h1M451.75 259.75h3.5M455.25 259.75h2.5M457.75 259.75h8M399.75 260.25h1M414.25 260.25h1.5M420.75 260.25h1M422.25 260.25h1M423.75 260.25h1M425.25 260.25h1M426.75 260.25h1M429.75 260.25h1M431.75 260.25h1M440.25 260.25h1M443.25 260.25h1M445.25 260.25h1M446.75 260.25h1M447.75 260.25h1M449.75 260.25h7.5M457.25 260.25h7.5M397.25 260.75h1M414.25 260.75h1M415.75 260.75h1M421.25 260.75h1M422.25 260.75h1M427.25 260.75h1M432.75 260.75h1M434.75 260.75h2M439.25 260.75h1M440.25 260.75h1M442.75 260.75h2M445.25 260.75h1M446.25 260.75h1M447.25 260.75h1M448.25 260.75h1.5M449.75 260.75h14M398.75 261.25h1M420.25 261.25h1M421.75 261.25h1M423.25 261.25h1.5M424.75 261.25h1M429.25 261.25h1M431.25 261.25h1M434.25 261.25h1M435.75 261.25h1M437.25 261.25h1M440.25 261.25h1.5M442.75 261.25h2.5M445.75 261.25h1M447.75 261.25h1M448.75 261.25h14.5M414.75 261.75h1M424.75 261.75h1M426.75 261.75h1M429.75 261.75h1M432.25 261.75h1M433.75 261.75h1M435.75 261.75h1M441.75 261.75h1.5M443.75 261.75h1.5M445.25 261.75h2M447.25 261.75h15M410.75 262.25h1M412.75 262.25h1M422.75 262.25h1M425.75 262.25h1.5M429.25 262.25h1M430.75 262.25h1M431.75 262.25h1M436.75 262.25h1M437.75 262.25h2M444.75 262.25h1.5M446.75 262.25h14.5M407.25 262.75h1M412.75 262.75h1M420.75 262.75h1M422.75 262.75h1M430.25 262.75h1M432.25 262.75h2M436.25 262.75h1M439.25 262.75h1M440.25 262.75h1M441.75 262.75h1.5M444.75 262.75h7.5M452.25 262.75h8M416.75 263.25h1M418.25 263.25h1M422.25 263.25h1M425.75 263.25h1M429.25 263.25h1M430.25 263.25h1M431.75 263.25h1.5M434.75 263.25h1M439.25 263.25h1.5M440.75 263.25h1M443.75 263.25h1.5M445.25 263.25h13.5M458.75 263.25h1M410.25 263.75h1M417.75 263.75h1M428.25 263.75h1M431.75 263.75h1M434.25 263.75h1M435.25 263.75h1.5M438.75 263.75h2M441.25 263.75h1.5M443.75 263.75h15M413.75 264.25h1M422.25 264.25h1M427.75 264.25h2M432.25 264.25h1M437.25 264.25h1M439.75 264.25h1.5M441.75 264.25h1M442.75 264.25h15M406.75 264.75h1M410.25 264.75h1M415.25 264.75h1.5M424.75 264.75h1M431.25 264.75h1M437.25 264.75h1M438.25 264.75h1.5M440.75 264.75h1M441.75 264.75h15M411.25 265.25h1M420.25 265.25h1M422.75 265.25h1M427.75 265.25h1M428.75 265.25h1M433.25 265.25h1M434.25 265.25h1M435.25 265.25h1.5M436.75 265.25h2M439.25 265.25h1.5M440.75 265.25h15M412.75 265.75h1M415.75 265.75h1M421.25 265.75h1M422.25 265.75h1M423.75 265.75h1M429.25 265.75h1M430.25 265.75h1M432.25 265.75h1M434.75 265.75h1M435.75 265.75h1.5M437.75 265.75h2M439.75 265.75h15.5M388.25 266.25h1M399.25 266.25h1M415.25 266.25h1M417.25 266.25h1M418.75 266.25h1M420.25 266.25h1M426.25 266.25h1M427.75 266.25h1M428.75 266.25h1.5M432.25 266.25h1M433.75 266.25h1M435.75 266.25h1M438.75 266.25h15.5M387.75 266.75h1M403.75 266.75h1M411.75 266.75h1M414.25 266.75h1M417.25 266.75h1M419.25 266.75h1M426.25 266.75h2M428.75 266.75h1.5M432.75 266.75h1.5M434.25 266.75h1M435.25 266.75h1M436.25 266.75h1M437.25 266.75h16M412.25 267.25h1M414.75 267.25h1M416.25 267.25h1M423.25 267.25h1.5M426.25 267.25h1.5M431.25 267.25h1.5M433.25 267.25h2.5M435.75 267.25h1M436.75 267.25h15.5M391.75 267.75h1M404.75 267.75h1M407.75 267.75h1M419.75 267.75h1M426.25 267.75h1M427.75 267.75h1M432.25 267.75h1M434.75 267.75h1M435.75 267.75h16M396.25 268.25h1M408.75 268.25h1M410.75 268.25h1M412.25 268.25h1M413.25 268.25h1M415.75 268.25h1M416.75 268.25h1M421.25 268.25h1.5M425.25 268.25h1M428.25 268.25h1.5M429.75 268.25h1M432.25 268.25h1M433.75 268.25h17M384.75 268.75h1M389.75 268.75h1.5M399.25 268.75h1M406.25 268.75h1.5M407.75 268.75h1M409.75 268.75h1M413.75 268.75h1M421.25 268.75h1M422.25 268.75h1M423.75 268.75h1M425.75 268.75h1M427.25 268.75h1.5M428.75 268.75h2M431.25 268.75h1.5M432.75 268.75h1M434.25 268.75h15.5M390.25 269.25h1M402.25 269.25h1.5M409.25 269.25h1M412.25 269.25h1M415.25 269.25h1M416.75 269.25h1M418.25 269.25h1M428.25 269.25h1.5M430.25 269.25h1.5M431.75 269.25h1M433.25 269.25h16M401.75 269.75h1M411.25 269.75h1M413.75 269.75h1M418.25 269.75h1M420.75 269.75h2M425.25 269.75h1M426.25 269.75h1M428.75 269.75h1.5M430.25 269.75h1.5M432.75 269.75h15.5M383.25 270.25h1M414.75 270.25h1M419.25 270.25h1M422.25 270.25h1M423.75 270.25h1M427.25 270.25h1.5M428.75 270.25h1M429.75 270.25h1M430.75 270.25h16.5M382.25 270.75h1M402.75 270.75h1M418.75 270.75h1M422.75 270.75h1.5M427.25 270.75h19M401.75 271.25h1M406.75 271.25h1M411.75 271.25h1M415.25 271.25h1.5M417.75 271.25h1.5M423.25 271.25h2M426.25 271.25h1M427.25 271.25h1M428.75 271.25h1M429.75 271.25h15.5M407.75 271.75h1.5M415.75 271.75h1.5M417.25 271.75h1M419.25 271.75h1.5M420.75 271.75h1M422.75 271.75h1.5M424.75 271.75h1M425.75 271.75h1.5M427.75 271.75h17M380.25 272.25h1M405.25 272.25h2M415.75 272.25h1M416.75 272.25h1.5M419.25 272.25h1M421.25 272.25h1.5M422.75 272.25h1M423.75 272.25h1M425.75 272.25h2M427.75 272.25h16M412.25 272.75h1M413.25 272.75h1M414.75 272.75h1.5M416.25 272.75h1M417.25 272.75h1M418.75 272.75h1.5M422.75 272.75h1M423.75 272.75h2M426.75 272.75h16M398.25 273.25h1M400.25 273.25h1M404.75 273.25h1M409.75 273.25h1M413.75 273.25h1M418.25 273.25h1M420.25 273.25h1.5M423.25 273.25h2M425.25 273.25h17M395.75 273.75h1M403.25 273.75h1M405.25 273.75h1M408.75 273.75h1M411.75 273.75h1.5M416.25 273.75h1M417.25 273.75h1M419.25 273.75h1M421.75 273.75h1M422.75 273.75h1.5M424.75 273.75h16.5M394.25 274.25h1M395.75 274.25h1M396.75 274.25h1M400.25 274.25h1M408.75 274.25h1M410.25 274.25h1.5M414.75 274.25h1M421.75 274.25h2.5M424.25 274.25h15.5M392.75 274.75h1M403.25 274.75h1M406.25 274.75h1M409.75 274.75h1M411.25 274.75h1M414.75 274.75h1M415.75 274.75h1M416.75 274.75h1M418.25 274.75h1M419.75 274.75h1M420.75 274.75h1.5M422.75 274.75h1M423.75 274.75h15.5M402.25 275.25h1.5M408.25 275.25h1.5M410.75 275.25h1M412.25 275.25h1M417.25 275.25h1M419.75 275.25h1M420.75 275.25h1M421.75 275.25h17M382.75 275.75h1M387.25 275.75h1M388.75 275.75h1M402.25 275.75h1M403.25 275.75h1M408.25 275.75h1M412.75 275.75h1M413.75 275.75h1M418.25 275.75h2M421.25 275.75h1M422.25 275.75h15M396.75 276.25h1M401.25 276.25h1M402.25 276.25h1M407.25 276.25h1.5M411.25 276.25h1M412.25 276.25h2M415.25 276.25h1M416.75 276.25h1M417.75 276.25h1M419.25 276.25h1M420.75 276.25h16M383.75 276.75h1M391.75 276.75h1M395.25 276.75h1M411.25 276.75h1M412.25 276.75h1M413.75 276.75h1M414.75 276.75h1M416.25 276.75h1M417.75 276.75h2M419.75 276.75h16M402.25 277.25h1M404.25 277.25h1M405.25 277.25h1M406.25 277.25h1M407.25 277.25h1M409.75 277.25h1M411.25 277.25h1M412.75 277.25h1M413.75 277.25h1.5M415.75 277.25h1M416.75 277.25h1.5M418.25 277.25h16.5M390.75 277.75h1M397.75 277.75h1M401.25 277.75h1M402.75 277.75h1M409.75 277.75h1.5M411.75 277.75h1.5M414.75 277.75h1M415.75 277.75h1M417.25 277.75h1M418.25 277.75h16M371.75 278.25h1M395.75 278.25h1M398.25 278.25h1.5M408.75 278.25h1M411.75 278.25h1M413.75 278.25h1M414.75 278.25h1M416.75 278.25h16.5M389.25 278.75h1M393.75 278.75h1M397.25 278.75h1M398.25 278.75h1M400.25 278.75h1M402.25 278.75h1M408.75 278.75h1M409.75 278.75h1M411.25 278.75h1M412.25 278.75h1M414.25 278.75h1M415.25 278.75h17M388.75 279.25h1M396.25 279.25h1.5M398.75 279.25h1M401.25 279.25h1M405.25 279.25h1M409.25 279.25h1M410.75 279.25h2M413.75 279.25h18M399.25 279.75h1M401.25 279.75h1M402.75 279.75h1M405.75 279.75h1.5M407.25 279.75h1M410.25 279.75h1M411.75 279.75h1M412.75 279.75h18M390.75 280.25h1M391.75 280.25h1.5M400.75 280.25h1M408.25 280.25h1M409.25 280.25h1M410.75 280.25h1.5M413.75 280.25h16M381.25 280.75h1M387.25 280.75h1M390.25 280.75h1M396.25 280.75h1M397.75 280.75h1M398.75 280.75h1M401.75 280.75h2M404.75 280.75h1M406.75 280.75h1M408.25 280.75h2.5M410.75 280.75h18M391.75 281.25h1M393.25 281.25h1M394.25 281.25h1M399.75 281.25h1M404.75 281.25h1M407.75 281.25h1M408.75 281.25h1.5M410.25 281.25h1M411.25 281.25h16.5M392.75 281.75h1M395.25 281.75h1M396.25 281.75h2M398.25 281.75h1.5M402.25 281.75h1M403.25 281.75h2.5M406.25 281.75h1M410.25 281.75h17M399.25 282.25h1M402.75 282.25h2M405.75 282.25h1.5M407.25 282.25h1.5M408.75 282.25h1.5M410.25 282.25h15.5M386.75 282.75h1M400.25 282.75h1M401.25 282.75h1M403.75 282.75h1M405.75 282.75h1M406.75 282.75h2M408.75 282.75h16M388.25 283.25h1M393.25 283.25h1M395.75 283.25h1M397.75 283.25h1M400.75 283.25h1M401.75 283.25h1M403.25 283.25h1M404.75 283.25h1M405.75 283.25h2.5M408.75 283.25h15.5M390.75 283.75h1M393.25 283.75h1M401.75 283.75h1M403.75 283.75h1M405.75 283.75h1M407.25 283.75h15.5M390.25 284.25h1M392.25 284.25h1.5M396.75 284.25h1M399.25 284.25h1M403.25 284.25h1M405.25 284.25h1M406.75 284.25h15.5M382.25 284.75h1M383.25 284.75h1M385.25 284.75h1M394.75 284.75h1M396.75 284.75h1M397.75 284.75h1.5M399.25 284.75h1M400.25 284.75h1M404.25 284.75h1M405.25 284.75h16M378.25 285.25h1M387.75 285.25h1.5M396.75 285.25h1M398.25 285.25h1M401.75 285.25h1.5M403.25 285.25h1M404.25 285.25h16M379.25 285.75h1M383.75 285.75h1M385.75 285.75h1M390.75 285.75h1.5M396.25 285.75h1M400.75 285.75h4M404.75 285.75h14.5M382.25 286.25h1M389.75 286.25h1M390.75 286.25h1M393.75 286.25h1M396.25 286.25h1.5M398.25 286.25h1M399.25 286.25h1.5M400.75 286.25h1M401.75 286.25h1M402.75 286.25h1M403.75 286.25h14.5M375.25 286.75h1M391.25 286.75h1M392.25 286.75h1M393.25 286.75h1M394.75 286.75h1M396.25 286.75h1M400.25 286.75h2M402.25 286.75h15M384.75 287.25h1M386.25 287.25h1M390.75 287.25h1M392.25 287.25h1M397.25 287.25h1M399.75 287.25h1.5M401.75 287.25h14.5M381.25 287.75h1M382.75 287.75h1M386.75 287.75h1M389.75 287.75h1.5M392.25 287.75h1.5M394.25 287.75h1M395.75 287.75h1M399.75 287.75h1M400.75 287.75h14.5M376.25 288.25h1M386.25 288.25h1M388.25 288.25h1M391.25 288.25h1M392.25 288.25h2M394.75 288.25h1.5M397.75 288.25h1.5M400.25 288.25h14M378.75 288.75h1M385.75 288.75h1M395.25 288.75h1M396.25 288.75h1M397.75 288.75h1.5M399.25 288.75h14M392.25 289.25h1M394.75 289.25h1M395.75 289.25h1.5M397.25 289.25h15M381.25 289.75h1.5M386.75 289.75h1M388.75 289.75h1M390.25 289.75h1M392.25 289.75h1M395.75 289.75h1.5M397.25 289.75h14M371.25 290.25h1M387.25 290.25h1M392.25 290.25h1M394.25 290.25h1M395.75 290.25h14.5M372.75 290.75h1M391.25 290.75h1.5M393.25 290.75h1M395.75 290.75h13.5M378.75 291.25h1M384.75 291.25h1M393.75 291.25h1M395.25 291.25h13M377.75 291.75h1M383.25 291.75h1M386.25 291.75h1M389.25 291.75h1M391.25 291.75h1M393.25 291.75h14M382.25 292.25h1M384.25 292.25h1M385.75 292.25h1M392.25 292.25h1M393.25 292.25h13M383.75 292.75h1M385.25 292.75h1M386.75 292.75h1M389.75 292.75h2.5M392.25 292.75h13M365.25 293.25h1M368.75 293.25h1M373.75 293.25h1M383.25 293.25h1M384.75 293.25h1M386.25 293.25h2M390.25 293.25h1M391.25 293.25h13M362.75 293.75h1M379.75 293.75h1M381.75 293.75h1M383.75 293.75h1M384.75 293.75h1M388.25 293.75h1M389.25 293.75h1M390.75 293.75h12.5M361.25 294.25h1M386.25 294.25h1M388.25 294.25h14M363.25 294.75h1M381.25 294.75h1M383.25 294.75h1M385.75 294.75h1M388.25 294.75h13M354.25 295.25h1M381.25 295.25h1M383.25 295.25h1M388.25 295.25h12M383.25 295.75h1M384.25 295.75h1M385.75 295.75h13.5M379.25 296.25h1.5M382.75 296.25h1M384.25 296.25h1M386.25 296.25h12M366.75 296.75h1M380.25 296.75h1M382.25 296.75h1M385.25 296.75h12M370.25 297.25h1M377.25 297.25h1M383.75 297.25h1M384.75 297.25h11.5M361.75 297.75h1M375.75 297.75h1M383.75 297.75h11.5M365.25 298.25h1M369.75 298.25h1M379.75 298.25h1M382.75 298.25h11.5M366.75 298.75h1.5M379.25 298.75h1M380.75 298.75h1.5M382.25 298.75h11M372.75 299.25h1M377.25 299.25h1M379.25 299.25h1.5M381.25 299.25h11M372.75 299.75h1M374.75 299.75h1M375.75 299.75h1M379.75 299.75h11.5M367.25 300.25h1M377.75 300.25h1M379.25 300.25h11M375.25 300.75h1M376.25 300.75h1M377.25 300.75h1M378.75 300.75h10.5M372.75 301.25h1M373.75 301.25h1M376.75 301.25h12M376.75 301.75h10.5M372.75 302.25h1M373.75 302.25h1M375.75 302.25h11M358.25 302.75h1M360.75 302.75h1M365.75 302.75h1M373.25 302.75h1M374.25 302.75h1M375.25 302.75h10.5M363.75 303.25h1M367.75 303.25h1M369.25 303.25h1M370.75 303.25h1.5M373.25 303.25h11M364.75 303.75h1M371.75 303.75h12M352.75 304.25h1M358.25 304.25h1M368.75 304.25h1.5M371.25 304.25h11.5M368.75 304.75h1M369.75 304.75h1.5M371.25 304.75h10M359.25 305.25h1M365.25 305.25h1M366.75 305.25h1M368.25 305.25h1M369.25 305.25h11.5M338.25 305.75h1M353.25 305.75h1M367.75 305.75h1M368.75 305.75h11M365.25 306.25h1M366.75 306.25h1M367.75 306.25h11M356.75 306.75h1M362.75 306.75h1M366.75 306.75h11M366.25 307.25h10.5M354.75 307.75h1M356.25 307.75h1M358.25 307.75h1M363.25 307.75h1M364.75 307.75h11M352.75 308.25h1M355.75 308.25h1M357.25 308.25h1M362.75 308.25h1M364.25 308.25h10M356.25 308.75h1M360.25 308.75h1M362.75 308.75h10.5M343.25 309.25h1M357.25 309.25h1M360.25 309.25h1.5M361.75 309.25h10.5M344.75 309.75h1M361.25 309.75h10M360.25 310.25h10M346.25 310.75h1M358.75 310.75h1M359.75 310.75h9.5M347.25 311.25h1M358.25 311.25h10M341.25 311.75h1M356.75 311.75h10.5M347.25 312.25h1M350.75 312.25h1M355.25 312.25h11M346.25 312.75h1M354.75 312.75h11M353.25 313.25h1M354.75 313.25h10M342.25 313.75h1M353.75 313.75h10M342.25 314.25h1M343.25 314.25h1M348.75 314.25h1M350.75 314.25h1M352.25 314.25h10.5M340.25 314.75h1M351.75 314.75h10M346.25 315.25h1M350.25 315.25h11M341.75 315.75h1M349.25 315.75h11M348.25 316.25h11M347.75 316.75h10.5M326.25 317.25h1M341.75 317.25h1M346.25 317.25h1.5M347.75 317.25h9.5M345.25 317.75h1M346.25 317.75h10M343.75 318.25h1M344.75 318.25h10.5M337.25 318.75h1M342.75 318.75h1.5M344.25 318.75h10M331.75 319.25h1M339.25 319.25h1M340.75 319.25h2M342.75 319.25h11M334.75 319.75h1M338.75 319.75h1M339.75 319.75h1M341.25 319.75h11.5M335.75 320.25h1M338.25 320.25h1.5M339.75 320.25h12M330.75 320.75h1M336.25 320.75h1M337.75 320.75h1M338.75 320.75h12M333.75 321.25h1M335.25 321.25h14.5M335.25 321.75h13.5M331.75 322.25h1.5M333.25 322.25h15M331.25 322.75h1.5M332.75 322.75h14M327.25 323.25h1M329.75 323.25h1M331.75 323.25h14M328.75 323.75h1M330.25 323.75h14.5M326.75 324.25h1M327.75 324.25h1M328.75 324.25h15M324.75 324.75h1M326.25 324.75h16M324.25 325.25h2M326.25 325.25h15M323.75 325.75h1M325.25 325.75h15M323.75 326.25h15.5M323.75 326.75h14M323.75 327.25h13M323.75 327.75h12M323.75 328.25h11M323.75 328.75h10M323.75 329.25h8.5M323.75 329.75h7.5M323.75 330.25h6.5M323.75 330.75h5.5M323.75 331.25h4M323.75 331.75h3M323.75 332.25h2" stroke="#000" stroke-width="1" fill="none" shape-rendering="auto"/>
<path d="M324.30 335.90L469.92 253.82" stroke="#d4d4d4" stroke-width=".8" fill="none"/>
<text x="321.50" y="224.50" text-anchor="end" font-size="7.5">1000.00</text><text x="321.50" y="251.80" text-anchor="end" font-size="7.5">100.00</text><text x="321.50" y="280.70" text-anchor="end" font-size="7.5">10.00</text><text x="321.50" y="309.60" text-anchor="end" font-size="7.5">1.00</text><text x="321.50" y="338.50" text-anchor="end" font-size="7.5">0.10</text><text x="321.50" y="365.00" text-anchor="end" font-size="7.5">0.01</text><text x="323.50" y="374.60" text-anchor="middle" font-size="7.5">0.1</text><text x="375.57" y="374.60" text-anchor="middle" font-size="7.5">1.0</text><text x="426.85" y="374.60" text-anchor="middle" font-size="7.5">10.0</text><text x="478.12" y="374.60" text-anchor="middle" font-size="7.5">100.0</text><text x="529.40" y="374.60" text-anchor="middle" font-size="7.5">1000.0</text><text x="426.85" y="382.90" text-anchor="middle" font-size="7.6">R (mm/h)</text><text x="426.85" y="216.00" text-anchor="middle" font-size="9.55">R(A), C band</text><text transform="translate(288.10 292.55) rotate(-90)" text-anchor="middle" font-size="7.6">R(A) (mm/h)</text>
</svg></body></html>
